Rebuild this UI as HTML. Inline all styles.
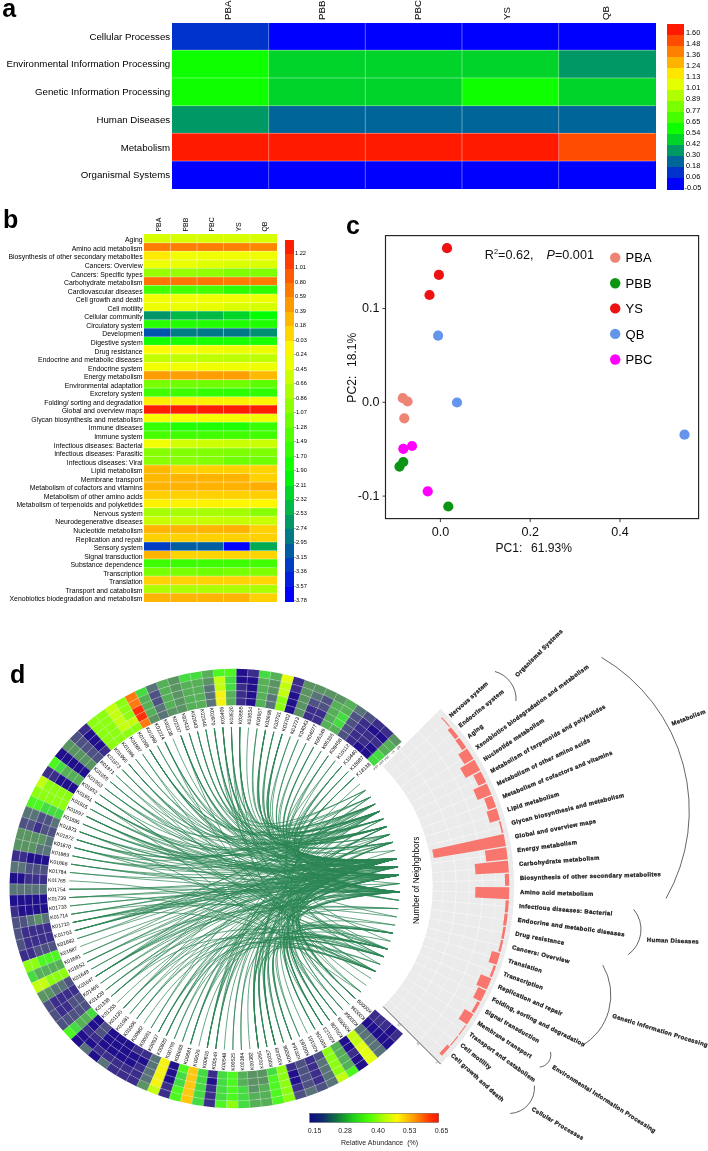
<!DOCTYPE html>
<html lang="en"><head><meta charset="utf-8"><title>Figure</title>
<style>html,body{margin:0;padding:0;background:#fff;width:708px;height:1151px;overflow:hidden}svg{display:block}text{font-family:"Liberation Sans", Arial, Helvetica, sans-serif}</style>
</head><body>
<svg width="708" height="1151" viewBox="0 0 708 1151">
<rect x="0" y="0" width="708" height="1151" fill="#ffffff"/>
<text x="2.2" y="16.8" font-size="25" text-anchor="start" font-weight="bold" fill="#000">a</text>
<g shape-rendering="crispEdges">
<rect x="172" y="22.5" width="96.96" height="28.02" fill="#0033cc"/>
<rect x="268.66" y="22.5" width="96.96" height="28.02" fill="#0000ff"/>
<rect x="365.32" y="22.5" width="96.96" height="28.02" fill="#0000ff"/>
<rect x="461.98" y="22.5" width="96.96" height="28.02" fill="#0000ff"/>
<rect x="558.64" y="22.5" width="96.96" height="28.02" fill="#0000ff"/>
<rect x="172" y="50.22" width="96.96" height="28.02" fill="#0dff00"/>
<rect x="268.66" y="50.22" width="96.96" height="28.02" fill="#00d42b"/>
<rect x="365.32" y="50.22" width="96.96" height="28.02" fill="#00d42b"/>
<rect x="461.98" y="50.22" width="96.96" height="28.02" fill="#00d42b"/>
<rect x="558.64" y="50.22" width="96.96" height="28.02" fill="#009966"/>
<rect x="172" y="77.93" width="96.96" height="28.02" fill="#0dff00"/>
<rect x="268.66" y="77.93" width="96.96" height="28.02" fill="#00d42b"/>
<rect x="365.32" y="77.93" width="96.96" height="28.02" fill="#00d42b"/>
<rect x="461.98" y="77.93" width="96.96" height="28.02" fill="#0dff00"/>
<rect x="558.64" y="77.93" width="96.96" height="28.02" fill="#00d42b"/>
<rect x="172" y="105.65" width="96.96" height="28.02" fill="#009966"/>
<rect x="268.66" y="105.65" width="96.96" height="28.02" fill="#006699"/>
<rect x="365.32" y="105.65" width="96.96" height="28.02" fill="#006699"/>
<rect x="461.98" y="105.65" width="96.96" height="28.02" fill="#006699"/>
<rect x="558.64" y="105.65" width="96.96" height="28.02" fill="#006699"/>
<rect x="172" y="133.37" width="96.96" height="28.02" fill="#ff1a00"/>
<rect x="268.66" y="133.37" width="96.96" height="28.02" fill="#ff1a00"/>
<rect x="365.32" y="133.37" width="96.96" height="28.02" fill="#ff1a00"/>
<rect x="461.98" y="133.37" width="96.96" height="28.02" fill="#ff1a00"/>
<rect x="558.64" y="133.37" width="96.96" height="28.02" fill="#ff4c00"/>
<rect x="172" y="161.08" width="96.96" height="28.02" fill="#0000ff"/>
<rect x="268.66" y="161.08" width="96.96" height="28.02" fill="#0000ff"/>
<rect x="365.32" y="161.08" width="96.96" height="28.02" fill="#0000ff"/>
<rect x="461.98" y="161.08" width="96.96" height="28.02" fill="#0000ff"/>
<rect x="558.64" y="161.08" width="96.96" height="28.02" fill="#0000ff"/>
</g>
<g stroke="#ffffff" stroke-opacity="0.55" stroke-width="0.7">
<line x1="268.66" y1="22.5" x2="268.66" y2="188.8"/>
<line x1="365.32" y1="22.5" x2="365.32" y2="188.8"/>
<line x1="461.98" y1="22.5" x2="461.98" y2="188.8"/>
<line x1="558.64" y1="22.5" x2="558.64" y2="188.8"/>
<line x1="172" y1="50.22" x2="655.3" y2="50.22"/>
<line x1="172" y1="77.93" x2="655.3" y2="77.93"/>
<line x1="172" y1="105.65" x2="655.3" y2="105.65"/>
<line x1="172" y1="133.37" x2="655.3" y2="133.37"/>
<line x1="172" y1="161.08" x2="655.3" y2="161.08"/>
</g>
<text x="170.2" y="39.76" font-size="9.7" text-anchor="end" font-weight="normal" fill="#000">Cellular Processes</text>
<text x="170.2" y="67.48" font-size="9.7" text-anchor="end" font-weight="normal" fill="#000">Environmental Information Processing</text>
<text x="170.2" y="95.19" font-size="9.7" text-anchor="end" font-weight="normal" fill="#000">Genetic Information Processing</text>
<text x="170.2" y="122.91" font-size="9.7" text-anchor="end" font-weight="normal" fill="#000">Human Diseases</text>
<text x="170.2" y="150.63" font-size="9.7" text-anchor="end" font-weight="normal" fill="#000">Metabolism</text>
<text x="170.2" y="178.34" font-size="9.7" text-anchor="end" font-weight="normal" fill="#000">Organismal Systems</text>
<text x="231.3" y="20" font-size="9.7" text-anchor="start" font-weight="normal" fill="#000" transform="rotate(-90 231.3 20)">PBA</text>
<text x="324.6" y="20" font-size="9.7" text-anchor="start" font-weight="normal" fill="#000" transform="rotate(-90 324.6 20)">PBB</text>
<text x="421.2" y="20" font-size="9.7" text-anchor="start" font-weight="normal" fill="#000" transform="rotate(-90 421.2 20)">PBC</text>
<text x="510.2" y="20" font-size="9.7" text-anchor="start" font-weight="normal" fill="#000" transform="rotate(-90 510.2 20)">YS</text>
<text x="608.6" y="20" font-size="9.7" text-anchor="start" font-weight="normal" fill="#000" transform="rotate(-90 608.6 20)">QB</text>
<g shape-rendering="crispEdges">
<rect x="667.2" y="24" width="17.1" height="11.32" fill="#ff1a00"/>
<rect x="667.2" y="35.02" width="17.1" height="11.32" fill="#ff4c00"/>
<rect x="667.2" y="46.04" width="17.1" height="11.32" fill="#ff8000"/>
<rect x="667.2" y="57.06" width="17.1" height="11.32" fill="#ffb300"/>
<rect x="667.2" y="68.08" width="17.1" height="11.32" fill="#ffe500"/>
<rect x="667.2" y="79.1" width="17.1" height="11.32" fill="#e5ff00"/>
<rect x="667.2" y="90.12" width="17.1" height="11.32" fill="#b0ff00"/>
<rect x="667.2" y="101.14" width="17.1" height="11.32" fill="#7aff00"/>
<rect x="667.2" y="112.16" width="17.1" height="11.32" fill="#45ff00"/>
<rect x="667.2" y="123.18" width="17.1" height="11.32" fill="#0dff00"/>
<rect x="667.2" y="134.2" width="17.1" height="11.32" fill="#00d42b"/>
<rect x="667.2" y="145.22" width="17.1" height="11.32" fill="#009966"/>
<rect x="667.2" y="156.24" width="17.1" height="11.32" fill="#006699"/>
<rect x="667.2" y="167.26" width="17.1" height="11.32" fill="#0033cc"/>
<rect x="667.2" y="178.28" width="17.1" height="11.32" fill="#0000ff"/>
</g>
<text x="686" y="34.9" font-size="7.3" text-anchor="start" font-weight="normal" fill="#000">1.60</text>
<text x="686" y="45.99" font-size="7.3" text-anchor="start" font-weight="normal" fill="#000">1.48</text>
<text x="686" y="57.08" font-size="7.3" text-anchor="start" font-weight="normal" fill="#000">1.36</text>
<text x="686" y="68.17" font-size="7.3" text-anchor="start" font-weight="normal" fill="#000">1.24</text>
<text x="686" y="79.26" font-size="7.3" text-anchor="start" font-weight="normal" fill="#000">1.13</text>
<text x="686" y="90.35" font-size="7.3" text-anchor="start" font-weight="normal" fill="#000">1.01</text>
<text x="686" y="101.44" font-size="7.3" text-anchor="start" font-weight="normal" fill="#000">0.89</text>
<text x="686" y="112.53" font-size="7.3" text-anchor="start" font-weight="normal" fill="#000">0.77</text>
<text x="686" y="123.62" font-size="7.3" text-anchor="start" font-weight="normal" fill="#000">0.65</text>
<text x="686" y="134.71" font-size="7.3" text-anchor="start" font-weight="normal" fill="#000">0.54</text>
<text x="686" y="145.8" font-size="7.3" text-anchor="start" font-weight="normal" fill="#000">0.42</text>
<text x="686" y="156.89" font-size="7.3" text-anchor="start" font-weight="normal" fill="#000">0.30</text>
<text x="686" y="167.98" font-size="7.3" text-anchor="start" font-weight="normal" fill="#000">0.18</text>
<text x="686" y="179.07" font-size="7.3" text-anchor="start" font-weight="normal" fill="#000">0.06</text>
<text x="684.6" y="190.16" font-size="7.3" text-anchor="start" font-weight="normal" fill="#000">-0.05</text>
<text x="3" y="228" font-size="25" text-anchor="start" font-weight="bold" fill="#000">b</text>
<g shape-rendering="crispEdges">
<rect x="144" y="234.2" width="26.8" height="8.85" fill="#d6ff00"/>
<rect x="170.5" y="234.2" width="26.8" height="8.85" fill="#d6ff00"/>
<rect x="197" y="234.2" width="26.8" height="8.85" fill="#d6ff00"/>
<rect x="223.5" y="234.2" width="26.8" height="8.85" fill="#d6ff00"/>
<rect x="250" y="234.2" width="26.8" height="8.85" fill="#d6ff00"/>
<rect x="144" y="242.75" width="26.8" height="8.85" fill="#ff7d00"/>
<rect x="170.5" y="242.75" width="26.8" height="8.85" fill="#ff7d00"/>
<rect x="197" y="242.75" width="26.8" height="8.85" fill="#ff7d00"/>
<rect x="223.5" y="242.75" width="26.8" height="8.85" fill="#ff8000"/>
<rect x="250" y="242.75" width="26.8" height="8.85" fill="#ff8700"/>
<rect x="144" y="251.3" width="26.8" height="8.85" fill="#ffeb00"/>
<rect x="170.5" y="251.3" width="26.8" height="8.85" fill="#f2ff00"/>
<rect x="197" y="251.3" width="26.8" height="8.85" fill="#f0ff00"/>
<rect x="223.5" y="251.3" width="26.8" height="8.85" fill="#f0ff00"/>
<rect x="250" y="251.3" width="26.8" height="8.85" fill="#f0ff00"/>
<rect x="144" y="259.85" width="26.8" height="8.85" fill="#edff00"/>
<rect x="170.5" y="259.85" width="26.8" height="8.85" fill="#ebff00"/>
<rect x="197" y="259.85" width="26.8" height="8.85" fill="#e0ff00"/>
<rect x="223.5" y="259.85" width="26.8" height="8.85" fill="#dbff00"/>
<rect x="250" y="259.85" width="26.8" height="8.85" fill="#dbff00"/>
<rect x="144" y="268.4" width="26.8" height="8.85" fill="#99ff00"/>
<rect x="170.5" y="268.4" width="26.8" height="8.85" fill="#96ff00"/>
<rect x="197" y="268.4" width="26.8" height="8.85" fill="#91ff00"/>
<rect x="223.5" y="268.4" width="26.8" height="8.85" fill="#80ff00"/>
<rect x="250" y="268.4" width="26.8" height="8.85" fill="#80ff00"/>
<rect x="144" y="276.94" width="26.8" height="8.85" fill="#ff7300"/>
<rect x="170.5" y="276.94" width="26.8" height="8.85" fill="#ff7500"/>
<rect x="197" y="276.94" width="26.8" height="8.85" fill="#ff7500"/>
<rect x="223.5" y="276.94" width="26.8" height="8.85" fill="#ff7a00"/>
<rect x="250" y="276.94" width="26.8" height="8.85" fill="#ff7a00"/>
<rect x="144" y="285.49" width="26.8" height="8.85" fill="#45ff00"/>
<rect x="170.5" y="285.49" width="26.8" height="8.85" fill="#45ff00"/>
<rect x="197" y="285.49" width="26.8" height="8.85" fill="#45ff00"/>
<rect x="223.5" y="285.49" width="26.8" height="8.85" fill="#2eff00"/>
<rect x="250" y="285.49" width="26.8" height="8.85" fill="#2eff00"/>
<rect x="144" y="294.04" width="26.8" height="8.85" fill="#f2ff00"/>
<rect x="170.5" y="294.04" width="26.8" height="8.85" fill="#f2ff00"/>
<rect x="197" y="294.04" width="26.8" height="8.85" fill="#f0ff00"/>
<rect x="223.5" y="294.04" width="26.8" height="8.85" fill="#f0ff00"/>
<rect x="250" y="294.04" width="26.8" height="8.85" fill="#edff00"/>
<rect x="144" y="302.59" width="26.8" height="8.85" fill="#edff00"/>
<rect x="170.5" y="302.59" width="26.8" height="8.85" fill="#ebff00"/>
<rect x="197" y="302.59" width="26.8" height="8.85" fill="#e8ff00"/>
<rect x="223.5" y="302.59" width="26.8" height="8.85" fill="#d9ff00"/>
<rect x="250" y="302.59" width="26.8" height="8.85" fill="#d6ff00"/>
<rect x="144" y="311.14" width="26.8" height="8.85" fill="#009669"/>
<rect x="170.5" y="311.14" width="26.8" height="8.85" fill="#00ba45"/>
<rect x="197" y="311.14" width="26.8" height="8.85" fill="#00ba45"/>
<rect x="223.5" y="311.14" width="26.8" height="8.85" fill="#00d629"/>
<rect x="250" y="311.14" width="26.8" height="8.85" fill="#00ff00"/>
<rect x="144" y="319.69" width="26.8" height="8.85" fill="#29ff00"/>
<rect x="170.5" y="319.69" width="26.8" height="8.85" fill="#21ff00"/>
<rect x="197" y="319.69" width="26.8" height="8.85" fill="#21ff00"/>
<rect x="223.5" y="319.69" width="26.8" height="8.85" fill="#1fff00"/>
<rect x="250" y="319.69" width="26.8" height="8.85" fill="#1fff00"/>
<rect x="144" y="328.24" width="26.8" height="8.85" fill="#0054ab"/>
<rect x="170.5" y="328.24" width="26.8" height="8.85" fill="#007d82"/>
<rect x="197" y="328.24" width="26.8" height="8.85" fill="#007887"/>
<rect x="223.5" y="328.24" width="26.8" height="8.85" fill="#007887"/>
<rect x="250" y="328.24" width="26.8" height="8.85" fill="#008f70"/>
<rect x="144" y="336.79" width="26.8" height="8.85" fill="#12ff00"/>
<rect x="170.5" y="336.79" width="26.8" height="8.85" fill="#17ff00"/>
<rect x="197" y="336.79" width="26.8" height="8.85" fill="#17ff00"/>
<rect x="223.5" y="336.79" width="26.8" height="8.85" fill="#17ff00"/>
<rect x="250" y="336.79" width="26.8" height="8.85" fill="#17ff00"/>
<rect x="144" y="345.33" width="26.8" height="8.85" fill="#fcff00"/>
<rect x="170.5" y="345.33" width="26.8" height="8.85" fill="#faff00"/>
<rect x="197" y="345.33" width="26.8" height="8.85" fill="#f2ff00"/>
<rect x="223.5" y="345.33" width="26.8" height="8.85" fill="#ebff00"/>
<rect x="250" y="345.33" width="26.8" height="8.85" fill="#ebff00"/>
<rect x="144" y="353.88" width="26.8" height="8.85" fill="#c2ff00"/>
<rect x="170.5" y="353.88" width="26.8" height="8.85" fill="#bfff00"/>
<rect x="197" y="353.88" width="26.8" height="8.85" fill="#bdff00"/>
<rect x="223.5" y="353.88" width="26.8" height="8.85" fill="#bdff00"/>
<rect x="250" y="353.88" width="26.8" height="8.85" fill="#bdff00"/>
<rect x="144" y="362.43" width="26.8" height="8.85" fill="#f2ff00"/>
<rect x="170.5" y="362.43" width="26.8" height="8.85" fill="#f2ff00"/>
<rect x="197" y="362.43" width="26.8" height="8.85" fill="#f0ff00"/>
<rect x="223.5" y="362.43" width="26.8" height="8.85" fill="#f0ff00"/>
<rect x="250" y="362.43" width="26.8" height="8.85" fill="#edff00"/>
<rect x="144" y="370.98" width="26.8" height="8.85" fill="#ff9c00"/>
<rect x="170.5" y="370.98" width="26.8" height="8.85" fill="#ff9e00"/>
<rect x="197" y="370.98" width="26.8" height="8.85" fill="#ff9e00"/>
<rect x="223.5" y="370.98" width="26.8" height="8.85" fill="#ff9e00"/>
<rect x="250" y="370.98" width="26.8" height="8.85" fill="#ffba00"/>
<rect x="144" y="379.53" width="26.8" height="8.85" fill="#78ff00"/>
<rect x="170.5" y="379.53" width="26.8" height="8.85" fill="#70ff00"/>
<rect x="197" y="379.53" width="26.8" height="8.85" fill="#70ff00"/>
<rect x="223.5" y="379.53" width="26.8" height="8.85" fill="#70ff00"/>
<rect x="250" y="379.53" width="26.8" height="8.85" fill="#5cff00"/>
<rect x="144" y="388.08" width="26.8" height="8.85" fill="#40ff00"/>
<rect x="170.5" y="388.08" width="26.8" height="8.85" fill="#3bff00"/>
<rect x="197" y="388.08" width="26.8" height="8.85" fill="#30ff00"/>
<rect x="223.5" y="388.08" width="26.8" height="8.85" fill="#2eff00"/>
<rect x="250" y="388.08" width="26.8" height="8.85" fill="#2eff00"/>
<rect x="144" y="396.63" width="26.8" height="8.85" fill="#ffed00"/>
<rect x="170.5" y="396.63" width="26.8" height="8.85" fill="#fff000"/>
<rect x="197" y="396.63" width="26.8" height="8.85" fill="#fff000"/>
<rect x="223.5" y="396.63" width="26.8" height="8.85" fill="#fff200"/>
<rect x="250" y="396.63" width="26.8" height="8.85" fill="#fff500"/>
<rect x="144" y="405.18" width="26.8" height="8.85" fill="#ff1f00"/>
<rect x="170.5" y="405.18" width="26.8" height="8.85" fill="#ff1f00"/>
<rect x="197" y="405.18" width="26.8" height="8.85" fill="#ff1f00"/>
<rect x="223.5" y="405.18" width="26.8" height="8.85" fill="#ff1f00"/>
<rect x="250" y="405.18" width="26.8" height="8.85" fill="#ff1f00"/>
<rect x="144" y="413.73" width="26.8" height="8.85" fill="#f7ff00"/>
<rect x="170.5" y="413.73" width="26.8" height="8.85" fill="#f7ff00"/>
<rect x="197" y="413.73" width="26.8" height="8.85" fill="#f5ff00"/>
<rect x="223.5" y="413.73" width="26.8" height="8.85" fill="#f5ff00"/>
<rect x="250" y="413.73" width="26.8" height="8.85" fill="#edff00"/>
<rect x="144" y="422.27" width="26.8" height="8.85" fill="#33ff00"/>
<rect x="170.5" y="422.27" width="26.8" height="8.85" fill="#1fff00"/>
<rect x="197" y="422.27" width="26.8" height="8.85" fill="#1fff00"/>
<rect x="223.5" y="422.27" width="26.8" height="8.85" fill="#1fff00"/>
<rect x="250" y="422.27" width="26.8" height="8.85" fill="#38ff00"/>
<rect x="144" y="430.82" width="26.8" height="8.85" fill="#47ff00"/>
<rect x="170.5" y="430.82" width="26.8" height="8.85" fill="#40ff00"/>
<rect x="197" y="430.82" width="26.8" height="8.85" fill="#40ff00"/>
<rect x="223.5" y="430.82" width="26.8" height="8.85" fill="#40ff00"/>
<rect x="250" y="430.82" width="26.8" height="8.85" fill="#42ff00"/>
<rect x="144" y="439.37" width="26.8" height="8.85" fill="#f2ff00"/>
<rect x="170.5" y="439.37" width="26.8" height="8.85" fill="#d1ff00"/>
<rect x="197" y="439.37" width="26.8" height="8.85" fill="#ccff00"/>
<rect x="223.5" y="439.37" width="26.8" height="8.85" fill="#c9ff00"/>
<rect x="250" y="439.37" width="26.8" height="8.85" fill="#c9ff00"/>
<rect x="144" y="447.92" width="26.8" height="8.85" fill="#87ff00"/>
<rect x="170.5" y="447.92" width="26.8" height="8.85" fill="#82ff00"/>
<rect x="197" y="447.92" width="26.8" height="8.85" fill="#82ff00"/>
<rect x="223.5" y="447.92" width="26.8" height="8.85" fill="#7dff00"/>
<rect x="250" y="447.92" width="26.8" height="8.85" fill="#7dff00"/>
<rect x="144" y="456.47" width="26.8" height="8.85" fill="#8aff00"/>
<rect x="170.5" y="456.47" width="26.8" height="8.85" fill="#87ff00"/>
<rect x="197" y="456.47" width="26.8" height="8.85" fill="#82ff00"/>
<rect x="223.5" y="456.47" width="26.8" height="8.85" fill="#6eff00"/>
<rect x="250" y="456.47" width="26.8" height="8.85" fill="#6eff00"/>
<rect x="144" y="465.02" width="26.8" height="8.85" fill="#ffb800"/>
<rect x="170.5" y="465.02" width="26.8" height="8.85" fill="#ffd100"/>
<rect x="197" y="465.02" width="26.8" height="8.85" fill="#ffd100"/>
<rect x="223.5" y="465.02" width="26.8" height="8.85" fill="#ffd100"/>
<rect x="250" y="465.02" width="26.8" height="8.85" fill="#ffd400"/>
<rect x="144" y="473.57" width="26.8" height="8.85" fill="#ffb800"/>
<rect x="170.5" y="473.57" width="26.8" height="8.85" fill="#ffb300"/>
<rect x="197" y="473.57" width="26.8" height="8.85" fill="#ffb300"/>
<rect x="223.5" y="473.57" width="26.8" height="8.85" fill="#ffb300"/>
<rect x="250" y="473.57" width="26.8" height="8.85" fill="#ffd100"/>
<rect x="144" y="482.12" width="26.8" height="8.85" fill="#ffb300"/>
<rect x="170.5" y="482.12" width="26.8" height="8.85" fill="#ffb300"/>
<rect x="197" y="482.12" width="26.8" height="8.85" fill="#ffb300"/>
<rect x="223.5" y="482.12" width="26.8" height="8.85" fill="#ffb300"/>
<rect x="250" y="482.12" width="26.8" height="8.85" fill="#ffad00"/>
<rect x="144" y="490.67" width="26.8" height="8.85" fill="#ffcf00"/>
<rect x="170.5" y="490.67" width="26.8" height="8.85" fill="#ffd100"/>
<rect x="197" y="490.67" width="26.8" height="8.85" fill="#ffd100"/>
<rect x="223.5" y="490.67" width="26.8" height="8.85" fill="#ffd100"/>
<rect x="250" y="490.67" width="26.8" height="8.85" fill="#ffcf00"/>
<rect x="144" y="499.21" width="26.8" height="8.85" fill="#fff200"/>
<rect x="170.5" y="499.21" width="26.8" height="8.85" fill="#fff200"/>
<rect x="197" y="499.21" width="26.8" height="8.85" fill="#fff200"/>
<rect x="223.5" y="499.21" width="26.8" height="8.85" fill="#fff700"/>
<rect x="250" y="499.21" width="26.8" height="8.85" fill="#fff700"/>
<rect x="144" y="507.76" width="26.8" height="8.85" fill="#a6ff00"/>
<rect x="170.5" y="507.76" width="26.8" height="8.85" fill="#a6ff00"/>
<rect x="197" y="507.76" width="26.8" height="8.85" fill="#a6ff00"/>
<rect x="223.5" y="507.76" width="26.8" height="8.85" fill="#a3ff00"/>
<rect x="250" y="507.76" width="26.8" height="8.85" fill="#87ff00"/>
<rect x="144" y="516.31" width="26.8" height="8.85" fill="#c7ff00"/>
<rect x="170.5" y="516.31" width="26.8" height="8.85" fill="#c7ff00"/>
<rect x="197" y="516.31" width="26.8" height="8.85" fill="#c7ff00"/>
<rect x="223.5" y="516.31" width="26.8" height="8.85" fill="#c7ff00"/>
<rect x="250" y="516.31" width="26.8" height="8.85" fill="#c7ff00"/>
<rect x="144" y="524.86" width="26.8" height="8.85" fill="#ffb500"/>
<rect x="170.5" y="524.86" width="26.8" height="8.85" fill="#ffb500"/>
<rect x="197" y="524.86" width="26.8" height="8.85" fill="#ffb500"/>
<rect x="223.5" y="524.86" width="26.8" height="8.85" fill="#ffb300"/>
<rect x="250" y="524.86" width="26.8" height="8.85" fill="#ffd100"/>
<rect x="144" y="533.41" width="26.8" height="8.85" fill="#ffcf00"/>
<rect x="170.5" y="533.41" width="26.8" height="8.85" fill="#ffd100"/>
<rect x="197" y="533.41" width="26.8" height="8.85" fill="#ffd100"/>
<rect x="223.5" y="533.41" width="26.8" height="8.85" fill="#ffd100"/>
<rect x="250" y="533.41" width="26.8" height="8.85" fill="#ffd100"/>
<rect x="144" y="541.96" width="26.8" height="8.85" fill="#003dc2"/>
<rect x="170.5" y="541.96" width="26.8" height="8.85" fill="#005ea1"/>
<rect x="197" y="541.96" width="26.8" height="8.85" fill="#005ea1"/>
<rect x="223.5" y="541.96" width="26.8" height="8.85" fill="#0000ff"/>
<rect x="250" y="541.96" width="26.8" height="8.85" fill="#00ab54"/>
<rect x="144" y="550.51" width="26.8" height="8.85" fill="#ffb500"/>
<rect x="170.5" y="550.51" width="26.8" height="8.85" fill="#ffd400"/>
<rect x="197" y="550.51" width="26.8" height="8.85" fill="#ffd400"/>
<rect x="223.5" y="550.51" width="26.8" height="8.85" fill="#ffd400"/>
<rect x="250" y="550.51" width="26.8" height="8.85" fill="#ffd400"/>
<rect x="144" y="559.06" width="26.8" height="8.85" fill="#3dff00"/>
<rect x="170.5" y="559.06" width="26.8" height="8.85" fill="#3bff00"/>
<rect x="197" y="559.06" width="26.8" height="8.85" fill="#3dff00"/>
<rect x="223.5" y="559.06" width="26.8" height="8.85" fill="#3dff00"/>
<rect x="250" y="559.06" width="26.8" height="8.85" fill="#42ff00"/>
<rect x="144" y="567.6" width="26.8" height="8.85" fill="#78ff00"/>
<rect x="170.5" y="567.6" width="26.8" height="8.85" fill="#78ff00"/>
<rect x="197" y="567.6" width="26.8" height="8.85" fill="#6eff00"/>
<rect x="223.5" y="567.6" width="26.8" height="8.85" fill="#78ff00"/>
<rect x="250" y="567.6" width="26.8" height="8.85" fill="#7dff00"/>
<rect x="144" y="576.15" width="26.8" height="8.85" fill="#ffd100"/>
<rect x="170.5" y="576.15" width="26.8" height="8.85" fill="#ffd100"/>
<rect x="197" y="576.15" width="26.8" height="8.85" fill="#ffd100"/>
<rect x="223.5" y="576.15" width="26.8" height="8.85" fill="#ffd100"/>
<rect x="250" y="576.15" width="26.8" height="8.85" fill="#ffd600"/>
<rect x="144" y="584.7" width="26.8" height="8.85" fill="#adff00"/>
<rect x="170.5" y="584.7" width="26.8" height="8.85" fill="#abff00"/>
<rect x="197" y="584.7" width="26.8" height="8.85" fill="#abff00"/>
<rect x="223.5" y="584.7" width="26.8" height="8.85" fill="#abff00"/>
<rect x="250" y="584.7" width="26.8" height="8.85" fill="#a8ff00"/>
<rect x="144" y="593.25" width="26.8" height="8.85" fill="#ffb500"/>
<rect x="170.5" y="593.25" width="26.8" height="8.85" fill="#ffb500"/>
<rect x="197" y="593.25" width="26.8" height="8.85" fill="#ffb500"/>
<rect x="223.5" y="593.25" width="26.8" height="8.85" fill="#ffb500"/>
<rect x="250" y="593.25" width="26.8" height="8.85" fill="#ffd100"/>
</g>
<g stroke="#ffffff" stroke-opacity="0.7" stroke-width="0.6">
<line x1="170.5" y1="234.2" x2="170.5" y2="601.8"/>
<line x1="197" y1="234.2" x2="197" y2="601.8"/>
<line x1="223.5" y1="234.2" x2="223.5" y2="601.8"/>
<line x1="250" y1="234.2" x2="250" y2="601.8"/>
<line x1="144" y1="242.75" x2="276.5" y2="242.75"/>
<line x1="144" y1="251.3" x2="276.5" y2="251.3"/>
<line x1="144" y1="259.85" x2="276.5" y2="259.85"/>
<line x1="144" y1="268.4" x2="276.5" y2="268.4"/>
<line x1="144" y1="276.94" x2="276.5" y2="276.94"/>
<line x1="144" y1="285.49" x2="276.5" y2="285.49"/>
<line x1="144" y1="294.04" x2="276.5" y2="294.04"/>
<line x1="144" y1="302.59" x2="276.5" y2="302.59"/>
<line x1="144" y1="311.14" x2="276.5" y2="311.14"/>
<line x1="144" y1="319.69" x2="276.5" y2="319.69"/>
<line x1="144" y1="328.24" x2="276.5" y2="328.24"/>
<line x1="144" y1="336.79" x2="276.5" y2="336.79"/>
<line x1="144" y1="345.33" x2="276.5" y2="345.33"/>
<line x1="144" y1="353.88" x2="276.5" y2="353.88"/>
<line x1="144" y1="362.43" x2="276.5" y2="362.43"/>
<line x1="144" y1="370.98" x2="276.5" y2="370.98"/>
<line x1="144" y1="379.53" x2="276.5" y2="379.53"/>
<line x1="144" y1="388.08" x2="276.5" y2="388.08"/>
<line x1="144" y1="396.63" x2="276.5" y2="396.63"/>
<line x1="144" y1="405.18" x2="276.5" y2="405.18"/>
<line x1="144" y1="413.73" x2="276.5" y2="413.73"/>
<line x1="144" y1="422.27" x2="276.5" y2="422.27"/>
<line x1="144" y1="430.82" x2="276.5" y2="430.82"/>
<line x1="144" y1="439.37" x2="276.5" y2="439.37"/>
<line x1="144" y1="447.92" x2="276.5" y2="447.92"/>
<line x1="144" y1="456.47" x2="276.5" y2="456.47"/>
<line x1="144" y1="465.02" x2="276.5" y2="465.02"/>
<line x1="144" y1="473.57" x2="276.5" y2="473.57"/>
<line x1="144" y1="482.12" x2="276.5" y2="482.12"/>
<line x1="144" y1="490.67" x2="276.5" y2="490.67"/>
<line x1="144" y1="499.21" x2="276.5" y2="499.21"/>
<line x1="144" y1="507.76" x2="276.5" y2="507.76"/>
<line x1="144" y1="516.31" x2="276.5" y2="516.31"/>
<line x1="144" y1="524.86" x2="276.5" y2="524.86"/>
<line x1="144" y1="533.41" x2="276.5" y2="533.41"/>
<line x1="144" y1="541.96" x2="276.5" y2="541.96"/>
<line x1="144" y1="550.51" x2="276.5" y2="550.51"/>
<line x1="144" y1="559.06" x2="276.5" y2="559.06"/>
<line x1="144" y1="567.6" x2="276.5" y2="567.6"/>
<line x1="144" y1="576.15" x2="276.5" y2="576.15"/>
<line x1="144" y1="584.7" x2="276.5" y2="584.7"/>
<line x1="144" y1="593.25" x2="276.5" y2="593.25"/>
</g>
<text x="142.6" y="242.37" font-size="6.87" text-anchor="end" font-weight="normal" fill="#000">Aging</text>
<text x="142.6" y="250.92" font-size="6.87" text-anchor="end" font-weight="normal" fill="#000">Amino acid metabolism</text>
<text x="142.6" y="259.47" font-size="6.87" text-anchor="end" font-weight="normal" fill="#000">Biosynthesis of other secondary metabolites</text>
<text x="142.6" y="268.02" font-size="6.87" text-anchor="end" font-weight="normal" fill="#000">Cancers: Overview</text>
<text x="142.6" y="276.57" font-size="6.87" text-anchor="end" font-weight="normal" fill="#000">Cancers: Specific types</text>
<text x="142.6" y="285.12" font-size="6.87" text-anchor="end" font-weight="normal" fill="#000">Carbohydrate metabolism</text>
<text x="142.6" y="293.67" font-size="6.87" text-anchor="end" font-weight="normal" fill="#000">Cardiovascular diseases</text>
<text x="142.6" y="302.22" font-size="6.87" text-anchor="end" font-weight="normal" fill="#000">Cell growth and death</text>
<text x="142.6" y="310.77" font-size="6.87" text-anchor="end" font-weight="normal" fill="#000">Cell motility</text>
<text x="142.6" y="319.31" font-size="6.87" text-anchor="end" font-weight="normal" fill="#000">Cellular community</text>
<text x="142.6" y="327.86" font-size="6.87" text-anchor="end" font-weight="normal" fill="#000">Circulatory system</text>
<text x="142.6" y="336.41" font-size="6.87" text-anchor="end" font-weight="normal" fill="#000">Development</text>
<text x="142.6" y="344.96" font-size="6.87" text-anchor="end" font-weight="normal" fill="#000">Digestive system</text>
<text x="142.6" y="353.51" font-size="6.87" text-anchor="end" font-weight="normal" fill="#000">Drug resistance</text>
<text x="142.6" y="362.06" font-size="6.87" text-anchor="end" font-weight="normal" fill="#000">Endocrine and metabolic diseases</text>
<text x="142.6" y="370.61" font-size="6.87" text-anchor="end" font-weight="normal" fill="#000">Endocrine system</text>
<text x="142.6" y="379.16" font-size="6.87" text-anchor="end" font-weight="normal" fill="#000">Energy metabolism</text>
<text x="142.6" y="387.7" font-size="6.87" text-anchor="end" font-weight="normal" fill="#000">Environmental adaptation</text>
<text x="142.6" y="396.25" font-size="6.87" text-anchor="end" font-weight="normal" fill="#000">Excretory system</text>
<text x="142.6" y="404.8" font-size="6.87" text-anchor="end" font-weight="normal" fill="#000">Folding/ sorting and degradation</text>
<text x="142.6" y="413.35" font-size="6.87" text-anchor="end" font-weight="normal" fill="#000">Global and overview maps</text>
<text x="142.6" y="421.9" font-size="6.87" text-anchor="end" font-weight="normal" fill="#000">Glycan biosynthesis and metabolism</text>
<text x="142.6" y="430.45" font-size="6.87" text-anchor="end" font-weight="normal" fill="#000">Immune diseases</text>
<text x="142.6" y="439" font-size="6.87" text-anchor="end" font-weight="normal" fill="#000">Immune system</text>
<text x="142.6" y="447.55" font-size="6.87" text-anchor="end" font-weight="normal" fill="#000">Infectious diseases: Bacterial</text>
<text x="142.6" y="456.1" font-size="6.87" text-anchor="end" font-weight="normal" fill="#000">Infectious diseases: Parasitic</text>
<text x="142.6" y="464.64" font-size="6.87" text-anchor="end" font-weight="normal" fill="#000">Infectious diseases: Viral</text>
<text x="142.6" y="473.19" font-size="6.87" text-anchor="end" font-weight="normal" fill="#000">Lipid metabolism</text>
<text x="142.6" y="481.74" font-size="6.87" text-anchor="end" font-weight="normal" fill="#000">Membrane transport</text>
<text x="142.6" y="490.29" font-size="6.87" text-anchor="end" font-weight="normal" fill="#000">Metabolism of cofactors and vitamins</text>
<text x="142.6" y="498.84" font-size="6.87" text-anchor="end" font-weight="normal" fill="#000">Metabolism of other amino acids</text>
<text x="142.6" y="507.39" font-size="6.87" text-anchor="end" font-weight="normal" fill="#000">Metabolism of terpenoids and polyketides</text>
<text x="142.6" y="515.94" font-size="6.87" text-anchor="end" font-weight="normal" fill="#000">Nervous system</text>
<text x="142.6" y="524.49" font-size="6.87" text-anchor="end" font-weight="normal" fill="#000">Neurodegenerative diseases</text>
<text x="142.6" y="533.03" font-size="6.87" text-anchor="end" font-weight="normal" fill="#000">Nucleotide metabolism</text>
<text x="142.6" y="541.58" font-size="6.87" text-anchor="end" font-weight="normal" fill="#000">Replication and repair</text>
<text x="142.6" y="550.13" font-size="6.87" text-anchor="end" font-weight="normal" fill="#000">Sensory system</text>
<text x="142.6" y="558.68" font-size="6.87" text-anchor="end" font-weight="normal" fill="#000">Signal transduction</text>
<text x="142.6" y="567.23" font-size="6.87" text-anchor="end" font-weight="normal" fill="#000">Substance dependence</text>
<text x="142.6" y="575.78" font-size="6.87" text-anchor="end" font-weight="normal" fill="#000">Transcription</text>
<text x="142.6" y="584.33" font-size="6.87" text-anchor="end" font-weight="normal" fill="#000">Translation</text>
<text x="142.6" y="592.88" font-size="6.87" text-anchor="end" font-weight="normal" fill="#000">Transport and catabolism</text>
<text x="142.6" y="601.43" font-size="6.87" text-anchor="end" font-weight="normal" fill="#000">Xenobiotics biodegradation and metabolism</text>
<text x="161" y="231.6" font-size="7" text-anchor="start" font-weight="normal" fill="#000" transform="rotate(-90 161 231.6)">PBA</text>
<text x="187.8" y="231.6" font-size="7" text-anchor="start" font-weight="normal" fill="#000" transform="rotate(-90 187.8 231.6)">PBB</text>
<text x="214.1" y="231.6" font-size="7" text-anchor="start" font-weight="normal" fill="#000" transform="rotate(-90 214.1 231.6)">PBC</text>
<text x="240.8" y="231.6" font-size="7" text-anchor="start" font-weight="normal" fill="#000" transform="rotate(-90 240.8 231.6)">YS</text>
<text x="267.5" y="231.6" font-size="7" text-anchor="start" font-weight="normal" fill="#000" transform="rotate(-90 267.5 231.6)">QB</text>
<g shape-rendering="crispEdges">
<rect x="284.8" y="239.6" width="9" height="14.77" fill="#ff1f00"/>
<rect x="284.8" y="254.07" width="9" height="14.77" fill="#ff3d00"/>
<rect x="284.8" y="268.54" width="9" height="14.77" fill="#ff5c00"/>
<rect x="284.8" y="283.02" width="9" height="14.77" fill="#ff7a00"/>
<rect x="284.8" y="297.49" width="9" height="14.77" fill="#ff9900"/>
<rect x="284.8" y="311.96" width="9" height="14.77" fill="#ffb800"/>
<rect x="284.8" y="326.43" width="9" height="14.77" fill="#ffd600"/>
<rect x="284.8" y="340.9" width="9" height="14.77" fill="#fff500"/>
<rect x="284.8" y="355.38" width="9" height="14.77" fill="#ebff00"/>
<rect x="284.8" y="369.85" width="9" height="14.77" fill="#ccff00"/>
<rect x="284.8" y="384.32" width="9" height="14.77" fill="#adff00"/>
<rect x="284.8" y="398.79" width="9" height="14.77" fill="#8fff00"/>
<rect x="284.8" y="413.26" width="9" height="14.77" fill="#70ff00"/>
<rect x="284.8" y="427.74" width="9" height="14.77" fill="#52ff00"/>
<rect x="284.8" y="442.21" width="9" height="14.77" fill="#33ff00"/>
<rect x="284.8" y="456.68" width="9" height="14.77" fill="#14ff00"/>
<rect x="284.8" y="471.15" width="9" height="14.77" fill="#00f50a"/>
<rect x="284.8" y="485.62" width="9" height="14.77" fill="#00d629"/>
<rect x="284.8" y="500.1" width="9" height="14.77" fill="#00b847"/>
<rect x="284.8" y="514.57" width="9" height="14.77" fill="#009966"/>
<rect x="284.8" y="529.04" width="9" height="14.77" fill="#007a85"/>
<rect x="284.8" y="543.51" width="9" height="14.77" fill="#005ca3"/>
<rect x="284.8" y="557.98" width="9" height="14.77" fill="#003dc2"/>
<rect x="284.8" y="572.46" width="9" height="14.77" fill="#001fe0"/>
<rect x="284.8" y="586.93" width="9" height="14.77" fill="#0000ff"/>
</g>
<text x="295" y="255" font-size="5.65" text-anchor="start" font-weight="normal" fill="#000">1.22</text>
<text x="295" y="269.47" font-size="5.65" text-anchor="start" font-weight="normal" fill="#000">1.01</text>
<text x="295" y="283.94" font-size="5.65" text-anchor="start" font-weight="normal" fill="#000">0.80</text>
<text x="295" y="298.41" font-size="5.65" text-anchor="start" font-weight="normal" fill="#000">0.59</text>
<text x="295" y="312.88" font-size="5.65" text-anchor="start" font-weight="normal" fill="#000">0.39</text>
<text x="295" y="327.35" font-size="5.65" text-anchor="start" font-weight="normal" fill="#000">0.18</text>
<text x="294" y="341.82" font-size="5.65" text-anchor="start" font-weight="normal" fill="#000">-0.03</text>
<text x="294" y="356.29" font-size="5.65" text-anchor="start" font-weight="normal" fill="#000">-0.24</text>
<text x="294" y="370.76" font-size="5.65" text-anchor="start" font-weight="normal" fill="#000">-0.45</text>
<text x="294" y="385.23" font-size="5.65" text-anchor="start" font-weight="normal" fill="#000">-0.66</text>
<text x="294" y="399.7" font-size="5.65" text-anchor="start" font-weight="normal" fill="#000">-0.86</text>
<text x="294" y="414.17" font-size="5.65" text-anchor="start" font-weight="normal" fill="#000">-1.07</text>
<text x="294" y="428.64" font-size="5.65" text-anchor="start" font-weight="normal" fill="#000">-1.28</text>
<text x="294" y="443.11" font-size="5.65" text-anchor="start" font-weight="normal" fill="#000">-1.49</text>
<text x="294" y="457.58" font-size="5.65" text-anchor="start" font-weight="normal" fill="#000">-1.70</text>
<text x="294" y="472.05" font-size="5.65" text-anchor="start" font-weight="normal" fill="#000">-1.90</text>
<text x="294" y="486.52" font-size="5.65" text-anchor="start" font-weight="normal" fill="#000">-2.11</text>
<text x="294" y="500.99" font-size="5.65" text-anchor="start" font-weight="normal" fill="#000">-2.32</text>
<text x="294" y="515.46" font-size="5.65" text-anchor="start" font-weight="normal" fill="#000">-2.53</text>
<text x="294" y="529.93" font-size="5.65" text-anchor="start" font-weight="normal" fill="#000">-2.74</text>
<text x="294" y="544.4" font-size="5.65" text-anchor="start" font-weight="normal" fill="#000">-2.95</text>
<text x="294" y="558.87" font-size="5.65" text-anchor="start" font-weight="normal" fill="#000">-3.15</text>
<text x="294" y="573.34" font-size="5.65" text-anchor="start" font-weight="normal" fill="#000">-3.36</text>
<text x="294" y="587.81" font-size="5.65" text-anchor="start" font-weight="normal" fill="#000">-3.57</text>
<text x="294" y="602.28" font-size="5.65" text-anchor="start" font-weight="normal" fill="#000">-3.78</text>
<text x="346" y="234" font-size="25" text-anchor="start" font-weight="bold" fill="#000">c</text>
<rect x="385.5" y="235.6" width="313.1" height="283" fill="none" stroke="#222" stroke-width="1.15"/>
<g stroke="#2b2b2b" stroke-width="0.9">
<line x1="382.5" y1="308.5" x2="385.5" y2="308.5"/>
<line x1="382.5" y1="402.3" x2="385.5" y2="402.3"/>
<line x1="382.5" y1="496.1" x2="385.5" y2="496.1"/>
<line x1="440.4" y1="518.6" x2="440.4" y2="522.1"/>
<line x1="530.2" y1="518.6" x2="530.2" y2="522.1"/>
<line x1="620" y1="518.6" x2="620" y2="522.1"/>
</g>
<text x="379.5" y="312.2" font-size="12.6" text-anchor="end" font-weight="normal" fill="#111">0.1</text>
<text x="379.5" y="406" font-size="12.6" text-anchor="end" font-weight="normal" fill="#111">0.0</text>
<text x="379.5" y="499.8" font-size="12.6" text-anchor="end" font-weight="normal" fill="#111">-0.1</text>
<text x="440.4" y="536.3" font-size="12.6" text-anchor="middle" font-weight="normal" fill="#111">0.0</text>
<text x="530.2" y="536.3" font-size="12.6" text-anchor="middle" font-weight="normal" fill="#111">0.2</text>
<text x="620" y="536.3" font-size="12.6" text-anchor="middle" font-weight="normal" fill="#111">0.4</text>
<text x="533.7" y="552" font-size="12.1" text-anchor="middle" fill="#111">PC1:<tspan dx="8.7">61.93%</tspan></text>
<text x="355.7" y="367.7" font-size="12.1" text-anchor="middle" fill="#111" transform="rotate(-90 355.7 367.7)">PC2:<tspan dx="8.7">18.1%</tspan></text>
<circle cx="447" cy="248.2" r="5.1" fill="#ee1111"/>
<circle cx="438.9" cy="274.9" r="5.1" fill="#ee1111"/>
<circle cx="429.5" cy="295" r="5.1" fill="#ee1111"/>
<circle cx="438.1" cy="335.7" r="5.1" fill="#6495ed"/>
<circle cx="457" cy="402.5" r="5.1" fill="#6495ed"/>
<circle cx="684.5" cy="434.7" r="5.1" fill="#6495ed"/>
<circle cx="402.8" cy="398.2" r="5.1" fill="#f08474"/>
<circle cx="407.6" cy="401.5" r="5.1" fill="#f08474"/>
<circle cx="404.3" cy="418.3" r="5.1" fill="#f08474"/>
<circle cx="403.3" cy="448.8" r="5.1" fill="#ff00ff"/>
<circle cx="412" cy="446" r="5.1" fill="#ff00ff"/>
<circle cx="427.7" cy="491.3" r="5.1" fill="#ff00ff"/>
<circle cx="403.3" cy="462" r="5.1" fill="#0a9512"/>
<circle cx="399.5" cy="466.6" r="5.1" fill="#0a9512"/>
<circle cx="448.3" cy="506.5" r="5.1" fill="#0a9512"/>
<circle cx="615.2" cy="257.6" r="5.2" fill="#f08474"/>
<text x="625.6" y="262.3" font-size="13" text-anchor="start" font-weight="normal" fill="#000">PBA</text>
<circle cx="615.2" cy="283.2" r="5.2" fill="#0a9512"/>
<text x="625.6" y="287.9" font-size="13" text-anchor="start" font-weight="normal" fill="#000">PBB</text>
<circle cx="615.2" cy="308.4" r="5.2" fill="#ee1111"/>
<text x="625.6" y="313.1" font-size="13" text-anchor="start" font-weight="normal" fill="#000">YS</text>
<circle cx="615.2" cy="333.9" r="5.2" fill="#6495ed"/>
<text x="625.6" y="338.6" font-size="13" text-anchor="start" font-weight="normal" fill="#000">QB</text>
<circle cx="615.2" cy="359.5" r="5.2" fill="#ff00ff"/>
<text x="625.6" y="364.2" font-size="13" text-anchor="start" font-weight="normal" fill="#000">PBC</text>
<text x="484.8" y="258.8" font-size="12.6" fill="#111">R<tspan font-size="7.4" dy="-4.6">2</tspan><tspan dy="4.6">=0.62,</tspan><tspan font-style="italic" dx="13.2">P</tspan>=0.001</text>
<text x="10" y="683" font-size="25" text-anchor="start" font-weight="bold" fill="#000">d</text>
<path d="M440.63 708.87A251.2 251.2 0 0 1 440.63 1064.13L383.07 1006.57A169.8 169.8 0 0 0 383.07 766.43Z" fill="#ebebeb"/>
<g fill="none" stroke="#ffffff" stroke-width="0.25">
<path d="M427.79 721.71A233.05 233.05 0 0 1 427.79 1051.29"/>
<path d="M409.05 740.45A206.55 206.55 0 0 1 409.05 1032.55"/>
<path d="M390.31 759.19A180.05 180.05 0 0 1 390.31 1013.81"/>
</g>
<g fill="none" stroke="#ffffff" stroke-width="0.45">
<path d="M437.16 712.34A246.3 246.3 0 0 1 437.16 1060.66"/>
<path d="M418.42 731.08A219.8 219.8 0 0 1 418.42 1041.92"/>
<path d="M399.68 749.82A193.3 193.3 0 0 1 399.68 1023.18"/>
<path d="M380.95 768.55A166.8 166.8 0 0 1 380.95 1004.45"/>
<line x1="389.19" y1="772.88" x2="449.68" y2="718.41"/>
<line x1="395.17" y1="779.9" x2="458.53" y2="728.79"/>
<line x1="400.76" y1="787.23" x2="466.8" y2="739.64"/>
<line x1="405.94" y1="794.85" x2="474.47" y2="750.91"/>
<line x1="410.71" y1="802.74" x2="481.51" y2="762.59"/>
<line x1="415.03" y1="810.88" x2="487.92" y2="774.63"/>
<line x1="418.91" y1="819.25" x2="493.66" y2="787"/>
<line x1="422.33" y1="827.81" x2="498.72" y2="799.67"/>
<line x1="425.28" y1="836.54" x2="503.08" y2="812.59"/>
<line x1="427.76" y1="845.42" x2="506.74" y2="825.73"/>
<line x1="429.74" y1="854.42" x2="509.68" y2="839.05"/>
<line x1="431.24" y1="863.52" x2="511.89" y2="852.5"/>
<line x1="432.24" y1="872.69" x2="513.37" y2="866.06"/>
<line x1="432.74" y1="881.89" x2="514.11" y2="879.68"/>
<line x1="432.74" y1="891.11" x2="514.11" y2="893.32"/>
<line x1="432.24" y1="900.31" x2="513.37" y2="906.94"/>
<line x1="431.24" y1="909.48" x2="511.89" y2="920.5"/>
<line x1="429.74" y1="918.58" x2="509.68" y2="933.95"/>
<line x1="427.76" y1="927.58" x2="506.74" y2="947.27"/>
<line x1="425.28" y1="936.46" x2="503.08" y2="960.41"/>
<line x1="422.33" y1="945.19" x2="498.72" y2="973.33"/>
<line x1="418.91" y1="953.75" x2="493.66" y2="986"/>
<line x1="415.03" y1="962.12" x2="487.92" y2="998.37"/>
<line x1="410.71" y1="970.26" x2="481.51" y2="1010.41"/>
<line x1="405.94" y1="978.15" x2="474.47" y2="1022.09"/>
<line x1="400.76" y1="985.77" x2="466.8" y2="1033.36"/>
<line x1="395.17" y1="993.1" x2="458.53" y2="1044.21"/>
<line x1="389.19" y1="1000.12" x2="449.68" y2="1054.59"/>
</g>
<g fill="#f8766d">
<path d="M441.96 717.27A246.3 246.3 0 0 1 450.01 726.21L449.2 726.9A245.24 245.24 0 0 0 441.19 718Z"/>
<path d="M450.88 727.23A246.3 246.3 0 0 1 458.43 736.6L455.07 739.18A242.06 242.06 0 0 0 447.64 729.97Z"/>
<path d="M459.24 737.66A246.3 246.3 0 0 1 466.28 747.43L462.26 750.18A241.42 241.42 0 0 0 455.36 740.61Z"/>
<path d="M467.03 748.53A246.3 246.3 0 0 1 473.53 758.66L464.47 764.17A235.7 235.7 0 0 0 458.25 754.47Z"/>
<path d="M474.22 759.81A246.3 246.3 0 0 1 480.16 770.28L465.67 778.03A229.87 229.87 0 0 0 460.13 768.26Z"/>
<path d="M480.78 771.46A246.3 246.3 0 0 1 486.14 782.24L478.46 785.83A237.82 237.82 0 0 0 473.28 775.42Z"/>
<path d="M486.71 783.45A246.3 246.3 0 0 1 491.47 794.5L477.71 800.04A231.46 231.46 0 0 0 473.23 789.66Z"/>
<path d="M491.97 795.74A246.3 246.3 0 0 1 496.13 807.04L488.1 809.77A237.82 237.82 0 0 0 484.09 798.87Z"/>
<path d="M496.56 808.3A246.3 246.3 0 0 1 500.1 819.81L489.89 822.68A235.7 235.7 0 0 0 486.51 811.67Z"/>
<path d="M500.46 821.09A246.3 246.3 0 0 1 503.37 832.77L501.82 833.12A244.71 244.71 0 0 0 498.92 821.52Z"/>
<path d="M503.66 834.08A246.3 246.3 0 0 1 505.93 845.9L433.79 857.95A173.16 173.16 0 0 0 432.19 849.64Z"/>
<path d="M506.15 847.22A246.3 246.3 0 0 1 507.78 859.14L486.29 861.54A224.68 224.68 0 0 0 484.8 850.66Z"/>
<path d="M507.92 860.47A246.3 246.3 0 0 1 508.9 872.47L475.56 874.37A212.91 212.91 0 0 0 474.72 864Z"/>
<path d="M508.97 873.8A246.3 246.3 0 0 1 509.3 885.83L505.06 885.84A242.06 242.06 0 0 0 504.74 874.02Z"/>
<path d="M509.3 887.17A246.3 246.3 0 0 1 508.97 899.2L475.1 897.45A212.38 212.38 0 0 0 475.38 887.08Z"/>
<path d="M508.9 900.53A246.3 246.3 0 0 1 507.92 912.53L504.76 912.19A243.12 243.12 0 0 0 505.72 900.35Z"/>
<path d="M507.78 913.86A246.3 246.3 0 0 1 506.15 925.78L503.01 925.28A243.12 243.12 0 0 0 504.62 913.51Z"/>
<path d="M505.93 927.1A246.3 246.3 0 0 1 503.66 938.92L501.17 938.38A243.76 243.76 0 0 0 503.42 926.68Z"/>
<path d="M503.37 940.23A246.3 246.3 0 0 1 500.46 951.91L498.21 951.29A243.97 243.97 0 0 0 501.09 939.72Z"/>
<path d="M500.1 953.19A246.3 246.3 0 0 1 496.56 964.7L488.52 962.01A237.82 237.82 0 0 0 491.93 950.9Z"/>
<path d="M496.13 965.96A246.3 246.3 0 0 1 491.97 977.26L489.6 976.32A243.76 243.76 0 0 0 493.72 965.14Z"/>
<path d="M491.47 978.5A246.3 246.3 0 0 1 486.71 989.55L476.31 984.76A234.85 234.85 0 0 0 480.85 974.22Z"/>
<path d="M486.14 990.76A246.3 246.3 0 0 1 480.78 1001.54L473.1 997.48A237.61 237.61 0 0 0 478.27 987.08Z"/>
<path d="M480.16 1002.72A246.3 246.3 0 0 1 474.22 1013.19L471.49 1011.55A243.12 243.12 0 0 0 477.35 1001.22Z"/>
<path d="M473.53 1014.34A246.3 246.3 0 0 1 467.03 1024.47L458.6 1018.77A236.12 236.12 0 0 0 464.83 1009.05Z"/>
<path d="M466.28 1025.57A246.3 246.3 0 0 1 459.24 1035.34L458.4 1034.7A245.24 245.24 0 0 0 465.4 1024.97Z"/>
<path d="M458.43 1036.4A246.3 246.3 0 0 1 450.88 1045.77L450.07 1045.08A245.24 245.24 0 0 0 457.59 1035.75Z"/>
<path d="M450.01 1046.79A246.3 246.3 0 0 1 441.96 1055.73L439.34 1053.25A242.7 242.7 0 0 0 447.27 1044.44Z"/>
</g>
<line x1="383.07" y1="1006.57" x2="440.63" y2="1064.13" stroke="#333" stroke-width="0.8"/>
<text x="435.76" y="1063.26" font-size="3" text-anchor="middle" font-weight="normal" fill="#4d4d4d" transform="rotate(45 435.76 1063.26)">0</text>
<text x="417.02" y="1044.52" font-size="3" text-anchor="middle" font-weight="normal" fill="#4d4d4d" transform="rotate(45 417.02 1044.52)">25</text>
<text x="398.28" y="1025.78" font-size="3" text-anchor="middle" font-weight="normal" fill="#4d4d4d" transform="rotate(45 398.28 1025.78)">50</text>
<text x="450.87" y="717.34" dy="-1.5" font-size="5.9" letter-spacing="0.36" font-weight="bold" fill="#1a1a1a" stroke="#1a1a1a" stroke-width="0.28" dominant-baseline="central" transform="rotate(-42 450.87 717.34)">Nervous system</text>
<text x="460.24" y="727.41" dy="-1.5" font-size="5.9" letter-spacing="0.36" font-weight="bold" fill="#1a1a1a" stroke="#1a1a1a" stroke-width="0.28" dominant-baseline="central" transform="rotate(-38.89 460.24 727.41)">Endocrine system</text>
<text x="469.03" y="738.03" dy="-1.5" font-size="5.9" letter-spacing="0.36" font-weight="bold" fill="#1a1a1a" stroke="#1a1a1a" stroke-width="0.28" dominant-baseline="central" transform="rotate(-38.78 469.03 738.03)">Aging</text>
<text x="477.21" y="749.16" dy="-1.5" font-size="5.9" letter-spacing="0.36" font-weight="bold" fill="#1a1a1a" stroke="#1a1a1a" stroke-width="0.28" dominant-baseline="central" transform="rotate(-36.27 477.21 749.16)">Xenobiotics biodegradation and metabolism</text>
<text x="484.75" y="760.76" dy="-1.5" font-size="5.9" letter-spacing="0.36" font-weight="bold" fill="#1a1a1a" stroke="#1a1a1a" stroke-width="0.28" dominant-baseline="central" transform="rotate(-33.76 484.75 760.76)">Nucleotide metabolism</text>
<text x="491.62" y="772.79" dy="-1.5" font-size="5.9" letter-spacing="0.36" font-weight="bold" fill="#1a1a1a" stroke="#1a1a1a" stroke-width="0.28" dominant-baseline="central" transform="rotate(-29.84 491.62 772.79)">Metabolism of terpenoids and polyketides</text>
<text x="497.79" y="785.22" dy="-1.5" font-size="5.9" letter-spacing="0.36" font-weight="bold" fill="#1a1a1a" stroke="#1a1a1a" stroke-width="0.28" dominant-baseline="central" transform="rotate(-25.43 497.79 785.22)">Metabolism of other amino acids</text>
<text x="503.24" y="798" dy="-1.5" font-size="5.9" letter-spacing="0.36" font-weight="bold" fill="#1a1a1a" stroke="#1a1a1a" stroke-width="0.28" dominant-baseline="central" transform="rotate(-22.02 503.24 798)">Metabolism of cofactors and vitamins</text>
<text x="507.96" y="811.09" dy="-1.5" font-size="5.9" letter-spacing="0.36" font-weight="bold" fill="#1a1a1a" stroke="#1a1a1a" stroke-width="0.28" dominant-baseline="central" transform="rotate(-17.11 507.96 811.09)">Lipid metabolism</text>
<text x="511.91" y="824.44" dy="-1.5" font-size="5.9" letter-spacing="0.36" font-weight="bold" fill="#1a1a1a" stroke="#1a1a1a" stroke-width="0.28" dominant-baseline="central" transform="rotate(-14 511.91 824.44)">Glycan biosynthesis and metabolism</text>
<text x="515.1" y="838" dy="-1.5" font-size="5.9" letter-spacing="0.36" font-weight="bold" fill="#1a1a1a" stroke="#1a1a1a" stroke-width="0.28" dominant-baseline="central" transform="rotate(-10.89 515.1 838)">Global and overview maps</text>
<text x="517.49" y="851.74" dy="-1.5" font-size="5.9" letter-spacing="0.36" font-weight="bold" fill="#1a1a1a" stroke="#1a1a1a" stroke-width="0.28" dominant-baseline="central" transform="rotate(-7.78 517.49 851.74)">Energy metabolism</text>
<text x="519.1" y="865.6" dy="-1.5" font-size="5.9" letter-spacing="0.36" font-weight="bold" fill="#1a1a1a" stroke="#1a1a1a" stroke-width="0.28" dominant-baseline="central" transform="rotate(-4.67 519.1 865.6)">Carbohydrate metabolism</text>
<text x="519.9" y="879.52" dy="-1.5" font-size="5.9" letter-spacing="0.36" font-weight="bold" fill="#1a1a1a" stroke="#1a1a1a" stroke-width="0.28" dominant-baseline="central" transform="rotate(-1.56 519.9 879.52)">Biosynthesis of other secondary metabolites</text>
<text x="519.9" y="893.48" dy="-1.5" font-size="5.9" letter-spacing="0.36" font-weight="bold" fill="#1a1a1a" stroke="#1a1a1a" stroke-width="0.28" dominant-baseline="central" transform="rotate(1.56 519.9 893.48)">Amino acid metabolism</text>
<text x="519.1" y="907.4" dy="-1.5" font-size="5.9" letter-spacing="0.36" font-weight="bold" fill="#1a1a1a" stroke="#1a1a1a" stroke-width="0.28" dominant-baseline="central" transform="rotate(4.67 519.1 907.4)">Infectious diseases: Bacterial</text>
<text x="517.49" y="921.26" dy="-1.5" font-size="5.9" letter-spacing="0.36" font-weight="bold" fill="#1a1a1a" stroke="#1a1a1a" stroke-width="0.28" dominant-baseline="central" transform="rotate(7.78 517.49 921.26)">Endocrine and metabolic diseases</text>
<text x="515.1" y="935" dy="-1.5" font-size="5.9" letter-spacing="0.36" font-weight="bold" fill="#1a1a1a" stroke="#1a1a1a" stroke-width="0.28" dominant-baseline="central" transform="rotate(10.89 515.1 935)">Drug resistance</text>
<text x="511.91" y="948.56" dy="-1.5" font-size="5.9" letter-spacing="0.36" font-weight="bold" fill="#1a1a1a" stroke="#1a1a1a" stroke-width="0.28" dominant-baseline="central" transform="rotate(14 511.91 948.56)">Cancers: Overview</text>
<text x="507.96" y="961.91" dy="-1.5" font-size="5.9" letter-spacing="0.36" font-weight="bold" fill="#1a1a1a" stroke="#1a1a1a" stroke-width="0.28" dominant-baseline="central" transform="rotate(17.11 507.96 961.91)">Translation</text>
<text x="503.24" y="975" dy="-1.5" font-size="5.9" letter-spacing="0.36" font-weight="bold" fill="#1a1a1a" stroke="#1a1a1a" stroke-width="0.28" dominant-baseline="central" transform="rotate(20.22 503.24 975)">Transcription</text>
<text x="497.79" y="987.78" dy="-1.5" font-size="5.9" letter-spacing="0.36" font-weight="bold" fill="#1a1a1a" stroke="#1a1a1a" stroke-width="0.28" dominant-baseline="central" transform="rotate(23.33 497.79 987.78)">Replication and repair</text>
<text x="491.62" y="1000.21" dy="-1.5" font-size="5.9" letter-spacing="0.36" font-weight="bold" fill="#1a1a1a" stroke="#1a1a1a" stroke-width="0.28" dominant-baseline="central" transform="rotate(26.44 491.62 1000.21)">Folding, sorting and degradation</text>
<text x="484.75" y="1012.24" dy="-1.5" font-size="5.9" letter-spacing="0.36" font-weight="bold" fill="#1a1a1a" stroke="#1a1a1a" stroke-width="0.28" dominant-baseline="central" transform="rotate(29.56 484.75 1012.24)">Signal transduction</text>
<text x="477.21" y="1023.84" dy="-1.5" font-size="5.9" letter-spacing="0.36" font-weight="bold" fill="#1a1a1a" stroke="#1a1a1a" stroke-width="0.28" dominant-baseline="central" transform="rotate(32.67 477.21 1023.84)">Membrane transport</text>
<text x="469.03" y="1034.97" dy="-1.5" font-size="5.9" letter-spacing="0.36" font-weight="bold" fill="#1a1a1a" stroke="#1a1a1a" stroke-width="0.28" dominant-baseline="central" transform="rotate(35.78 469.03 1034.97)">Transport and catabolism</text>
<text x="460.24" y="1045.59" dy="-1.5" font-size="5.9" letter-spacing="0.36" font-weight="bold" fill="#1a1a1a" stroke="#1a1a1a" stroke-width="0.28" dominant-baseline="central" transform="rotate(38.89 460.24 1045.59)">Cell motility</text>
<text x="450.87" y="1055.66" dy="-1.5" font-size="5.9" letter-spacing="0.36" font-weight="bold" fill="#1a1a1a" stroke="#1a1a1a" stroke-width="0.28" dominant-baseline="central" transform="rotate(42 450.87 1055.66)">Cell growth and death</text>
<path d="M495 671.5A28.9 28.9 0 0 1 516 701" fill="none" stroke="#222" stroke-width="0.7"/>
<path d="M601.4 657.3A177.7 177.7 0 0 1 666 898.5" fill="none" stroke="#222" stroke-width="0.7"/>
<path d="M633.7 909.4A31.1 31.1 0 0 1 627.8 954.9" fill="none" stroke="#222" stroke-width="0.7"/>
<path d="M602.8 965.2A59.3 59.3 0 0 1 580.8 1046.6" fill="none" stroke="#222" stroke-width="0.7"/>
<path d="M550.5 1051.9A12.4 12.4 0 0 1 539.7 1067.1" fill="none" stroke="#222" stroke-width="0.7"/>
<path d="M534.4 1085.6A25.7 25.7 0 0 1 510.3 1113.5" fill="none" stroke="#222" stroke-width="0.7"/>
<text x="516" y="675.8" font-size="5.9" letter-spacing="0.36" font-weight="bold" fill="#1a1a1a" stroke="#1a1a1a" stroke-width="0.28" dominant-baseline="central" transform="rotate(-45 516 675.8)">Organismal Systems</text>
<text x="671.9" y="724" font-size="5.9" letter-spacing="0.36" font-weight="bold" fill="#1a1a1a" stroke="#1a1a1a" stroke-width="0.28" dominant-baseline="central" transform="rotate(-21 671.9 724)">Metabolism</text>
<text x="646.9" y="939.8" font-size="5.9" letter-spacing="0.36" font-weight="bold" fill="#1a1a1a" stroke="#1a1a1a" stroke-width="0.28" dominant-baseline="central" transform="rotate(2 646.9 939.8)">Human Diseases</text>
<text x="612.5" y="1015.7" font-size="5.9" letter-spacing="0.36" font-weight="bold" fill="#1a1a1a" stroke="#1a1a1a" stroke-width="0.28" dominant-baseline="central" transform="rotate(17.2 612.5 1015.7)">Genetic Information Processing</text>
<text x="552.9" y="1066.5" font-size="5.9" letter-spacing="0.36" font-weight="bold" fill="#1a1a1a" stroke="#1a1a1a" stroke-width="0.28" dominant-baseline="central" transform="rotate(32.3 552.9 1066.5)">Environmental Information Processing</text>
<text x="532.3" y="1108.6" font-size="5.9" letter-spacing="0.36" font-weight="bold" fill="#1a1a1a" stroke="#1a1a1a" stroke-width="0.28" dominant-baseline="central" transform="rotate(30.5 532.3 1108.6)">Cellular Processes</text>
<text x="418.9" y="880.3" font-size="8.26" text-anchor="middle" font-weight="normal" fill="#000" transform="rotate(-90 418.9 880.3)">Number of Neighghbors</text>
<path d="M401.66 741.86A224.75 219.7 0 0 0 393.43 733.35L388.06 738.58A217.17 212.29 0 0 1 396.01 746.8Z" fill="#5a9463"/>
<path d="M396.13 746.7A217.33 212.44 0 0 0 388.17 738.47L382.8 743.71A209.75 205.03 0 0 1 390.48 751.65Z" fill="#55b058"/>
<path d="M390.6 751.55A209.9 205.18 0 0 0 382.91 743.6L377.54 748.83A202.32 197.77 0 0 1 384.95 756.49Z" fill="#55b058"/>
<path d="M385.07 756.39A202.47 197.92 0 0 0 377.65 748.73L372.28 753.96A194.89 190.51 0 0 1 379.42 761.34Z" fill="#45dc42"/>
<path d="M379.54 761.24A195.05 190.66 0 0 0 372.39 753.85L367.03 759.09A187.46 183.25 0 0 1 373.89 766.19Z" fill="#45dc42"/>
<path d="M393.65 733.56A224.75 219.7 0 0 0 384.97 725.48L379.89 730.98A217.17 212.29 0 0 1 388.27 738.79Z" fill="#3b2d8a"/>
<path d="M388.38 738.68A217.33 212.44 0 0 0 379.99 730.87L374.91 736.37A209.75 205.03 0 0 1 383.01 743.91Z" fill="#21108c"/>
<path d="M383.12 743.8A209.9 205.18 0 0 0 375.02 736.26L369.93 741.75A202.32 197.77 0 0 1 377.74 749.03Z" fill="#3b2d8a"/>
<path d="M377.85 748.92A202.47 197.92 0 0 0 370.04 741.64L364.95 747.14A194.89 190.51 0 0 1 372.48 754.15Z" fill="#21108c"/>
<path d="M372.58 754.04A195.05 190.66 0 0 0 365.06 747.03L359.98 752.53A187.46 183.25 0 0 1 367.21 759.27Z" fill="#21108c"/>
<path d="M385.21 725.69A224.75 219.7 0 0 0 376.11 718.06L371.33 723.81A217.17 212.29 0 0 1 380.12 731.18Z" fill="#3b2d8a"/>
<path d="M380.22 731.07A217.33 212.44 0 0 0 371.43 723.69L366.65 729.44A209.75 205.03 0 0 1 375.13 736.56Z" fill="#21108c"/>
<path d="M375.23 736.45A209.9 205.18 0 0 0 366.74 729.32L361.96 735.07A202.32 197.77 0 0 1 370.14 741.94Z" fill="#3b2d8a"/>
<path d="M370.25 741.83A202.47 197.92 0 0 0 362.06 734.95L357.27 740.7A194.89 190.51 0 0 1 365.16 747.32Z" fill="#3b2d8a"/>
<path d="M365.26 747.21A195.05 190.66 0 0 0 357.37 740.59L352.59 746.33A187.46 183.25 0 0 1 360.17 752.7Z" fill="#21108c"/>
<path d="M376.36 718.25A224.75 219.7 0 0 0 366.87 711.09L362.4 717.08A217.17 212.29 0 0 1 371.57 723.99Z" fill="#4e5282"/>
<path d="M371.66 723.88A217.33 212.44 0 0 0 362.49 716.95L358.02 722.94A209.75 205.03 0 0 1 366.87 729.62Z" fill="#3b2d8a"/>
<path d="M366.97 729.5A209.9 205.18 0 0 0 358.11 722.82L353.64 728.8A202.32 197.77 0 0 1 362.18 735.24Z" fill="#3b2d8a"/>
<path d="M362.28 735.13A202.47 197.92 0 0 0 353.73 728.68L349.26 734.66A194.89 190.51 0 0 1 357.48 740.87Z" fill="#3b2d8a"/>
<path d="M357.58 740.75A195.05 190.66 0 0 0 349.35 734.54L344.88 740.53A187.46 183.25 0 0 1 352.79 746.5Z" fill="#3b2d8a"/>
<path d="M367.13 711.27A224.75 219.7 0 0 0 357.28 704.61L353.13 710.81A217.17 212.29 0 0 1 362.65 717.25Z" fill="#587478"/>
<path d="M362.74 717.13A217.33 212.44 0 0 0 353.21 710.68L349.06 716.88A209.75 205.03 0 0 1 358.26 723.11Z" fill="#4e5282"/>
<path d="M358.35 722.99A209.9 205.18 0 0 0 349.15 716.76L345 722.96A202.32 197.77 0 0 1 353.87 728.96Z" fill="#4e5282"/>
<path d="M353.96 728.84A202.47 197.92 0 0 0 345.08 722.84L340.94 729.04A194.89 190.51 0 0 1 349.48 734.82Z" fill="#4e5282"/>
<path d="M349.57 734.7A195.05 190.66 0 0 0 341.02 728.91L336.87 735.11A187.46 183.25 0 0 1 345.09 740.68Z" fill="#4e5282"/>
<path d="M357.54 704.77A224.75 219.7 0 0 0 347.35 698.61L343.53 705.02A217.17 212.29 0 0 1 353.38 710.97Z" fill="#55b058"/>
<path d="M353.47 710.84A217.33 212.44 0 0 0 343.61 704.89L339.8 711.29A209.75 205.03 0 0 1 349.31 717.04Z" fill="#55b058"/>
<path d="M349.39 716.92A209.9 205.18 0 0 0 339.88 711.16L336.06 717.57A202.32 197.77 0 0 1 345.24 723.11Z" fill="#45dc42"/>
<path d="M345.32 722.99A202.47 197.92 0 0 0 336.14 717.44L332.33 723.84A194.89 190.51 0 0 1 341.16 729.18Z" fill="#45dc42"/>
<path d="M341.25 729.06A195.05 190.66 0 0 0 332.4 723.71L328.59 730.12A187.46 183.25 0 0 1 337.09 735.25Z" fill="#55b058"/>
<path d="M347.62 698.77A224.75 219.7 0 0 0 337.11 693.13L333.65 699.72A217.17 212.29 0 0 1 343.8 705.17Z" fill="#5a9463"/>
<path d="M343.87 705.04A217.33 212.44 0 0 0 333.72 699.59L330.25 706.18A209.75 205.03 0 0 1 340.05 711.44Z" fill="#55b058"/>
<path d="M340.13 711.31A209.9 205.18 0 0 0 330.32 706.05L326.85 712.64A202.32 197.77 0 0 1 336.31 717.71Z" fill="#55b058"/>
<path d="M336.38 717.58A202.47 197.92 0 0 0 326.92 712.5L323.45 719.09A194.89 190.51 0 0 1 332.56 723.98Z" fill="#55b058"/>
<path d="M332.64 723.85A195.05 190.66 0 0 0 323.52 718.96L320.06 725.55A187.46 183.25 0 0 1 328.82 730.25Z" fill="#55b058"/>
<path d="M337.39 693.28A224.75 219.7 0 0 0 326.6 688.18L323.49 694.94A217.17 212.29 0 0 1 333.91 699.86Z" fill="#5a9463"/>
<path d="M333.98 699.73A217.33 212.44 0 0 0 323.55 694.8L320.44 701.56A209.75 205.03 0 0 1 330.51 706.31Z" fill="#4e5282"/>
<path d="M330.58 706.18A209.9 205.18 0 0 0 320.5 701.42L317.39 708.18A202.32 197.77 0 0 1 327.1 712.76Z" fill="#4e5282"/>
<path d="M327.17 712.63A202.47 197.92 0 0 0 317.45 708.04L314.34 714.8A194.89 190.51 0 0 1 323.69 719.21Z" fill="#3b2d8a"/>
<path d="M323.76 719.08A195.05 190.66 0 0 0 314.4 714.66L311.29 721.42A187.46 183.25 0 0 1 320.29 725.66Z" fill="#3b2d8a"/>
<path d="M326.89 688.31A224.75 219.7 0 0 0 315.84 683.77L313.09 690.67A217.17 212.29 0 0 1 323.76 695.06Z" fill="#5a9463"/>
<path d="M323.83 694.92A217.33 212.44 0 0 0 313.15 690.53L310.4 697.44A209.75 205.03 0 0 1 320.71 701.68Z" fill="#587478"/>
<path d="M320.77 701.54A209.9 205.18 0 0 0 310.45 697.3L307.7 704.2A202.32 197.77 0 0 1 317.65 708.29Z" fill="#4e5282"/>
<path d="M317.71 708.15A202.47 197.92 0 0 0 307.76 704.07L305.01 710.97A194.89 190.51 0 0 1 314.59 714.91Z" fill="#3b2d8a"/>
<path d="M314.65 714.77A195.05 190.66 0 0 0 305.06 710.83L302.31 717.74A187.46 183.25 0 0 1 311.53 721.52Z" fill="#3b2d8a"/>
<path d="M316.13 683.88A224.75 219.7 0 0 0 304.86 679.91L302.48 686.94A217.17 212.29 0 0 1 313.37 690.78Z" fill="#5a9463"/>
<path d="M313.43 690.64A217.33 212.44 0 0 0 302.53 686.8L300.15 693.84A209.75 205.03 0 0 1 310.67 697.54Z" fill="#5a9463"/>
<path d="M310.73 697.4A209.9 205.18 0 0 0 300.2 693.69L297.82 700.73A202.32 197.77 0 0 1 307.97 704.31Z" fill="#5a9463"/>
<path d="M308.02 704.17A202.47 197.92 0 0 0 297.87 700.59L295.49 707.62A194.89 190.51 0 0 1 305.26 711.07Z" fill="#5a9463"/>
<path d="M305.32 710.93A195.05 190.66 0 0 0 295.53 707.48L293.15 714.52A187.46 183.25 0 0 1 302.56 717.83Z" fill="#5a9463"/>
<path d="M305.16 680A224.75 219.7 0 0 0 293.69 676.61L291.69 683.76A217.17 212.29 0 0 1 302.77 687.04Z" fill="#3b2d8a"/>
<path d="M302.82 686.89A217.33 212.44 0 0 0 291.73 683.61L289.73 690.76A209.75 205.03 0 0 1 300.43 693.93Z" fill="#3b2d8a"/>
<path d="M300.48 693.78A209.9 205.18 0 0 0 289.77 690.61L287.76 697.76A202.32 197.77 0 0 1 298.09 700.82Z" fill="#21108c"/>
<path d="M298.13 700.67A202.47 197.92 0 0 0 287.8 697.62L285.8 704.76A194.89 190.51 0 0 1 295.74 707.71Z" fill="#21108c"/>
<path d="M295.79 707.56A195.05 190.66 0 0 0 285.84 704.62L283.84 711.76A187.46 183.25 0 0 1 293.4 714.6Z" fill="#21108c"/>
<path d="M293.99 676.69A224.75 219.7 0 0 0 282.36 673.88L280.74 681.12A217.17 212.29 0 0 1 291.98 683.83Z" fill="#e4ff10"/>
<path d="M292.02 683.69A217.33 212.44 0 0 0 280.77 680.97L279.15 688.21A209.75 205.03 0 0 1 290.01 690.83Z" fill="#c4ff10"/>
<path d="M290.05 690.69A209.9 205.18 0 0 0 279.18 688.07L277.56 695.3A202.32 197.77 0 0 1 288.04 697.83Z" fill="#c4ff10"/>
<path d="M288.08 697.69A202.47 197.92 0 0 0 277.6 695.16L275.98 702.4A194.89 190.51 0 0 1 286.06 704.83Z" fill="#8cff10"/>
<path d="M286.1 704.69A195.05 190.66 0 0 0 276.01 702.25L274.39 709.49A187.46 183.25 0 0 1 284.09 711.83Z" fill="#8cff10"/>
<path d="M282.67 673.95A224.75 219.7 0 0 0 270.9 671.73L269.67 679.04A217.17 212.29 0 0 1 281.04 681.18Z" fill="#55b058"/>
<path d="M281.07 681.04A217.33 212.44 0 0 0 269.69 678.9L268.46 686.21A209.75 205.03 0 0 1 279.44 688.27Z" fill="#5a9463"/>
<path d="M279.47 688.13A209.9 205.18 0 0 0 268.48 686.06L267.25 693.37A202.32 197.77 0 0 1 277.84 695.36Z" fill="#5a9463"/>
<path d="M277.87 695.22A202.47 197.92 0 0 0 267.27 693.22L266.04 700.53A194.89 190.51 0 0 1 276.24 702.45Z" fill="#587478"/>
<path d="M276.27 702.31A195.05 190.66 0 0 0 266.06 700.39L264.83 707.7A187.46 183.25 0 0 1 274.64 709.54Z" fill="#587478"/>
<path d="M271.21 671.78A224.75 219.7 0 0 0 259.34 670.17L258.5 677.53A217.17 212.29 0 0 1 269.97 679.09Z" fill="#45dc42"/>
<path d="M269.99 678.94A217.33 212.44 0 0 0 258.52 677.38L257.67 684.75A209.75 205.03 0 0 1 268.75 686.25Z" fill="#55b058"/>
<path d="M268.77 686.11A209.9 205.18 0 0 0 257.69 684.6L256.84 691.96A202.32 197.77 0 0 1 267.53 693.42Z" fill="#55b058"/>
<path d="M267.55 693.27A202.47 197.92 0 0 0 256.86 691.81L256.02 699.18A194.89 190.51 0 0 1 266.31 700.58Z" fill="#55b058"/>
<path d="M266.33 700.43A195.05 190.66 0 0 0 256.03 699.03L255.19 706.39A187.46 183.25 0 0 1 265.09 707.74Z" fill="#55b058"/>
<path d="M259.66 670.2A224.75 219.7 0 0 0 247.72 669.19L247.26 676.59A217.17 212.29 0 0 1 258.8 677.57Z" fill="#3b2d8a"/>
<path d="M258.82 677.42A217.33 212.44 0 0 0 247.27 676.44L246.82 683.84A209.75 205.03 0 0 1 257.96 684.78Z" fill="#21108c"/>
<path d="M257.98 684.63A209.9 205.18 0 0 0 246.83 683.69L246.38 691.08A202.32 197.77 0 0 1 257.12 691.99Z" fill="#21108c"/>
<path d="M257.14 691.84A202.47 197.92 0 0 0 246.39 690.93L245.93 698.33A194.89 190.51 0 0 1 256.29 699.21Z" fill="#21108c"/>
<path d="M256.3 699.06A195.05 190.66 0 0 0 245.94 698.18L245.49 705.58A187.46 183.25 0 0 1 255.45 706.42Z" fill="#21108c"/>
<path d="M248.03 669.21A224.75 219.7 0 0 0 236.06 668.81L236 676.22A217.17 212.29 0 0 1 247.57 676.61Z" fill="#21108c"/>
<path d="M247.58 676.46A217.33 212.44 0 0 0 236 676.07L235.94 683.48A209.75 205.03 0 0 1 247.11 683.85Z" fill="#21108c"/>
<path d="M247.12 683.7A209.9 205.18 0 0 0 235.94 683.33L235.88 690.74A202.32 197.77 0 0 1 246.66 691.1Z" fill="#3b2d8a"/>
<path d="M246.67 690.95A202.47 197.92 0 0 0 235.88 690.59L235.82 698A194.89 190.51 0 0 1 246.21 698.35Z" fill="#3b2d8a"/>
<path d="M246.22 698.2A195.05 190.66 0 0 0 235.82 697.85L235.76 705.26A187.46 183.25 0 0 1 245.75 705.59Z" fill="#3b2d8a"/>
<path d="M236.37 668.81A224.75 219.7 0 0 0 224.39 669.01L224.72 676.42A217.17 212.29 0 0 1 236.3 676.22Z" fill="#4cf820"/>
<path d="M236.3 676.07A217.33 212.44 0 0 0 224.72 676.27L225.05 683.67A209.75 205.03 0 0 1 236.23 683.48Z" fill="#45dc42"/>
<path d="M236.23 683.33A209.9 205.18 0 0 0 225.04 683.52L225.38 690.92A202.32 197.77 0 0 1 236.16 690.74Z" fill="#45dc42"/>
<path d="M236.16 690.59A202.47 197.92 0 0 0 225.37 690.77L225.71 698.18A194.89 190.51 0 0 1 236.09 698Z" fill="#55b058"/>
<path d="M236.1 697.85A195.05 190.66 0 0 0 225.7 698.03L226.03 705.43A187.46 183.25 0 0 1 236.03 705.26Z" fill="#55b058"/>
<path d="M224.7 669A224.75 219.7 0 0 0 212.75 669.81L213.48 677.19A217.17 212.29 0 0 1 225.03 676.4Z" fill="#4cf820"/>
<path d="M225.02 676.25A217.33 212.44 0 0 0 213.46 677.04L214.19 684.41A209.75 205.03 0 0 1 225.34 683.66Z" fill="#c4ff10"/>
<path d="M225.34 683.51A209.9 205.18 0 0 0 214.17 684.27L214.9 691.64A202.32 197.77 0 0 1 225.66 690.91Z" fill="#c4ff10"/>
<path d="M225.65 690.76A202.47 197.92 0 0 0 214.89 691.49L215.61 698.87A194.89 190.51 0 0 1 225.98 698.16Z" fill="#f4f410"/>
<path d="M225.97 698.01A195.05 190.66 0 0 0 215.6 698.72L216.32 706.09A187.46 183.25 0 0 1 226.29 705.42Z" fill="#f4f410"/>
<path d="M213.06 669.78A224.75 219.7 0 0 0 201.17 671.2L202.28 678.53A217.17 212.29 0 0 1 213.78 677.16Z" fill="#55b058"/>
<path d="M213.76 677.01A217.33 212.44 0 0 0 202.26 678.38L203.38 685.71A209.75 205.03 0 0 1 214.48 684.39Z" fill="#5a9463"/>
<path d="M214.46 684.24A209.9 205.18 0 0 0 203.36 685.56L204.47 692.89A202.32 197.77 0 0 1 215.18 691.62Z" fill="#587478"/>
<path d="M215.17 691.47A202.47 197.92 0 0 0 204.45 692.74L205.57 700.07A194.89 190.51 0 0 1 215.88 698.84Z" fill="#587478"/>
<path d="M215.87 698.69A195.05 190.66 0 0 0 205.55 699.92L206.66 707.25A187.46 183.25 0 0 1 216.58 706.07Z" fill="#587478"/>
<path d="M201.48 671.16A224.75 219.7 0 0 0 189.67 673.17L191.18 680.44A217.17 212.29 0 0 1 202.58 678.49Z" fill="#45dc42"/>
<path d="M202.56 678.34A217.33 212.44 0 0 0 191.15 680.29L192.65 687.55A209.75 205.03 0 0 1 203.67 685.67Z" fill="#55b058"/>
<path d="M203.65 685.52A209.9 205.18 0 0 0 192.62 687.41L194.13 694.67A202.32 197.77 0 0 1 204.75 692.85Z" fill="#55b058"/>
<path d="M204.73 692.7A202.47 197.92 0 0 0 194.1 694.52L195.6 701.78A194.89 190.51 0 0 1 205.84 700.03Z" fill="#55b058"/>
<path d="M205.82 699.88A195.05 190.66 0 0 0 195.57 701.64L197.08 708.9A187.46 183.25 0 0 1 206.92 707.21Z" fill="#55b058"/>
<path d="M189.98 673.11A224.75 219.7 0 0 0 178.3 675.73L180.19 682.9A217.17 212.29 0 0 1 191.48 680.38Z" fill="#45dc42"/>
<path d="M191.45 680.23A217.33 212.44 0 0 0 180.15 682.76L182.04 689.94A209.75 205.03 0 0 1 192.94 687.5Z" fill="#55b058"/>
<path d="M192.91 687.35A209.9 205.18 0 0 0 182 689.79L183.89 696.97A202.32 197.77 0 0 1 194.41 694.61Z" fill="#55b058"/>
<path d="M194.38 694.47A202.47 197.92 0 0 0 183.85 696.82L185.74 704A194.89 190.51 0 0 1 195.87 701.73Z" fill="#55b058"/>
<path d="M195.84 701.58A195.05 190.66 0 0 0 185.7 703.85L187.59 711.03A187.46 183.25 0 0 1 197.33 708.85Z" fill="#55b058"/>
<path d="M178.61 675.65A224.75 219.7 0 0 0 167.08 678.86L169.35 685.93A217.17 212.29 0 0 1 180.48 682.83Z" fill="#5a9463"/>
<path d="M180.45 682.69A217.33 212.44 0 0 0 169.3 685.78L171.57 692.85A209.75 205.03 0 0 1 182.32 689.86Z" fill="#5a9463"/>
<path d="M182.29 689.72A209.9 205.18 0 0 0 171.52 692.71L173.79 699.78A202.32 197.77 0 0 1 184.16 696.9Z" fill="#5a9463"/>
<path d="M184.13 696.75A202.47 197.92 0 0 0 173.74 699.64L176.01 706.71A194.89 190.51 0 0 1 186.01 703.93Z" fill="#5a9463"/>
<path d="M185.97 703.79A195.05 190.66 0 0 0 175.97 706.57L178.23 713.64A187.46 183.25 0 0 1 187.85 710.97Z" fill="#5a9463"/>
<path d="M167.38 678.76A224.75 219.7 0 0 0 156.04 682.55L158.68 689.5A217.17 212.29 0 0 1 169.64 685.84Z" fill="#55b058"/>
<path d="M169.59 685.7A217.33 212.44 0 0 0 158.63 689.35L161.27 696.3A209.75 205.03 0 0 1 171.85 692.77Z" fill="#55b058"/>
<path d="M171.8 692.63A209.9 205.18 0 0 0 161.21 696.16L163.85 703.11A202.32 197.77 0 0 1 174.06 699.7Z" fill="#55b058"/>
<path d="M174.01 699.56A202.47 197.92 0 0 0 163.8 702.97L166.44 709.91A194.89 190.51 0 0 1 176.27 706.63Z" fill="#55b058"/>
<path d="M176.23 706.49A195.05 190.66 0 0 0 166.38 709.77L169.02 716.72A187.46 183.25 0 0 1 178.48 713.56Z" fill="#5a9463"/>
<path d="M156.33 682.44A224.75 219.7 0 0 0 145.21 686.8L148.22 693.6A217.17 212.29 0 0 1 158.96 689.39Z" fill="#587478"/>
<path d="M158.91 689.25A217.33 212.44 0 0 0 148.15 693.46L151.16 700.27A209.75 205.03 0 0 1 161.54 696.2Z" fill="#4e5282"/>
<path d="M161.49 696.06A209.9 205.18 0 0 0 151.1 700.13L154.1 706.93A202.32 197.77 0 0 1 164.12 703.01Z" fill="#4e5282"/>
<path d="M164.06 702.87A202.47 197.92 0 0 0 154.04 706.79L157.05 713.6A194.89 190.51 0 0 1 166.69 709.82Z" fill="#587478"/>
<path d="M166.64 709.68A195.05 190.66 0 0 0 156.99 713.46L159.99 720.26A187.46 183.25 0 0 1 169.27 716.63Z" fill="#587478"/>
<path d="M145.5 686.68A224.75 219.7 0 0 0 134.62 691.59L137.98 698.23A217.17 212.29 0 0 1 148.49 693.48Z" fill="#45dc42"/>
<path d="M148.43 693.34A217.33 212.44 0 0 0 137.92 698.1L141.28 704.74A209.75 205.03 0 0 1 151.43 700.15Z" fill="#55b058"/>
<path d="M151.37 700.01A209.9 205.18 0 0 0 141.21 704.6L144.57 711.24A202.32 197.77 0 0 1 154.36 706.82Z" fill="#55b058"/>
<path d="M154.3 706.68A202.47 197.92 0 0 0 144.5 711.11L147.87 717.75A194.89 190.51 0 0 1 157.3 713.49Z" fill="#55b058"/>
<path d="M157.24 713.35A195.05 190.66 0 0 0 147.8 717.62L151.16 724.26A187.46 183.25 0 0 1 160.23 720.16Z" fill="#5a9463"/>
<path d="M134.9 691.45A224.75 219.7 0 0 0 124.3 696.91L128.01 703.37A217.17 212.29 0 0 1 138.26 698.1Z" fill="#ff7a10"/>
<path d="M138.19 697.96A217.33 212.44 0 0 0 127.94 703.24L131.65 709.7A209.75 205.03 0 0 1 141.54 704.61Z" fill="#ff7a10"/>
<path d="M141.47 704.48A209.9 205.18 0 0 0 131.57 709.57L135.28 716.04A202.32 197.77 0 0 1 144.82 711.12Z" fill="#ff3008"/>
<path d="M144.76 710.99A202.47 197.92 0 0 0 135.21 715.9L138.92 722.37A194.89 190.51 0 0 1 148.11 717.63Z" fill="#ff3008"/>
<path d="M148.04 717.5A195.05 190.66 0 0 0 138.84 722.24L142.55 728.7A187.46 183.25 0 0 1 151.39 724.14Z" fill="#ff7a10"/>
<path d="M124.57 696.76A224.75 219.7 0 0 0 114.28 702.75L118.33 709.01A217.17 212.29 0 0 1 128.28 703.23Z" fill="#8cff10"/>
<path d="M128.2 703.1A217.33 212.44 0 0 0 118.24 708.89L122.29 715.15A209.75 205.03 0 0 1 131.9 709.56Z" fill="#8cff10"/>
<path d="M131.83 709.43A209.9 205.18 0 0 0 122.21 715.03L126.26 721.29A202.32 197.77 0 0 1 135.53 715.9Z" fill="#8cff10"/>
<path d="M135.45 715.77A202.47 197.92 0 0 0 126.18 721.16L130.22 727.43A194.89 190.51 0 0 1 139.15 722.24Z" fill="#c4ff10"/>
<path d="M139.08 722.11A195.05 190.66 0 0 0 130.14 727.3L134.19 733.57A187.46 183.25 0 0 1 142.78 728.57Z" fill="#8cff10"/>
<path d="M114.54 702.59A224.75 219.7 0 0 0 104.58 709.09L108.95 715.14A217.17 212.29 0 0 1 118.58 708.86Z" fill="#c4ff10"/>
<path d="M118.5 708.73A217.33 212.44 0 0 0 108.86 715.02L113.24 721.07A209.75 205.03 0 0 1 122.54 715Z" fill="#c4ff10"/>
<path d="M122.46 714.87A209.9 205.18 0 0 0 113.15 720.95L117.53 727A202.32 197.77 0 0 1 126.5 721.14Z" fill="#c4ff10"/>
<path d="M126.41 721.02A202.47 197.92 0 0 0 117.44 726.88L121.81 732.93A194.89 190.51 0 0 1 130.45 727.29Z" fill="#c4ff10"/>
<path d="M130.37 727.16A195.05 190.66 0 0 0 121.72 732.8L126.1 738.86A187.46 183.25 0 0 1 134.41 733.43Z" fill="#8cff10"/>
<path d="M104.83 708.91A224.75 219.7 0 0 0 95.23 715.91L99.92 721.73A217.17 212.29 0 0 1 109.2 714.97Z" fill="#8cff10"/>
<path d="M109.11 714.85A217.33 212.44 0 0 0 99.82 721.62L104.51 727.44A209.75 205.03 0 0 1 113.48 720.9Z" fill="#8cff10"/>
<path d="M113.39 720.78A209.9 205.18 0 0 0 104.42 727.32L109.11 733.14A202.32 197.77 0 0 1 117.76 726.84Z" fill="#8cff10"/>
<path d="M117.67 726.72A202.47 197.92 0 0 0 109.01 733.02L113.7 738.84A194.89 190.51 0 0 1 122.03 732.77Z" fill="#8cff10"/>
<path d="M121.95 732.65A195.05 190.66 0 0 0 113.61 738.73L118.3 744.55A187.46 183.25 0 0 1 126.31 738.71Z" fill="#8cff10"/>
<path d="M95.47 715.72A224.75 219.7 0 0 0 86.25 723.2L91.24 728.78A217.17 212.29 0 0 1 100.16 721.55Z" fill="#8cff10"/>
<path d="M100.06 721.43A217.33 212.44 0 0 0 91.14 728.66L96.14 734.24A209.75 205.03 0 0 1 104.74 727.26Z" fill="#8cff10"/>
<path d="M104.65 727.14A209.9 205.18 0 0 0 96.03 734.13L101.03 739.7A202.32 197.77 0 0 1 109.33 732.97Z" fill="#8cff10"/>
<path d="M109.24 732.85A202.47 197.92 0 0 0 100.93 739.59L105.92 745.16A194.89 190.51 0 0 1 113.92 738.68Z" fill="#8cff10"/>
<path d="M113.82 738.56A195.05 190.66 0 0 0 105.82 745.05L110.81 750.63A187.46 183.25 0 0 1 118.51 744.39Z" fill="#8cff10"/>
<path d="M86.49 723A224.75 219.7 0 0 0 77.67 730.93L82.96 736.25A217.17 212.29 0 0 1 91.47 728.58Z" fill="#3b2d8a"/>
<path d="M91.37 728.47A217.33 212.44 0 0 0 82.85 736.14L88.13 741.46A209.75 205.03 0 0 1 96.36 734.05Z" fill="#21108c"/>
<path d="M96.26 733.94A209.9 205.18 0 0 0 88.02 741.35L93.31 746.66A202.32 197.77 0 0 1 101.24 739.52Z" fill="#21108c"/>
<path d="M101.14 739.41A202.47 197.92 0 0 0 93.2 746.55L98.48 751.87A194.89 190.51 0 0 1 106.13 744.99Z" fill="#21108c"/>
<path d="M106.02 744.87A195.05 190.66 0 0 0 98.38 751.76L103.66 757.08A187.46 183.25 0 0 1 111.01 750.46Z" fill="#3b2d8a"/>
<path d="M77.9 730.72A224.75 219.7 0 0 0 69.52 739.09L75.08 744.13A217.17 212.29 0 0 1 83.17 736.04Z" fill="#4e5282"/>
<path d="M83.07 735.93A217.33 212.44 0 0 0 74.96 744.03L80.52 749.07A209.75 205.03 0 0 1 88.34 741.26Z" fill="#4e5282"/>
<path d="M88.24 741.15A209.9 205.18 0 0 0 80.41 748.97L85.97 754.01A202.32 197.77 0 0 1 93.51 746.47Z" fill="#4e5282"/>
<path d="M93.4 746.36A202.47 197.92 0 0 0 85.85 753.9L91.41 758.94A194.89 190.51 0 0 1 98.68 751.68Z" fill="#4e5282"/>
<path d="M98.57 751.58A195.05 190.66 0 0 0 91.3 758.84L96.86 763.88A187.46 183.25 0 0 1 103.85 756.9Z" fill="#4e5282"/>
<path d="M69.73 738.87A224.75 219.7 0 0 0 61.81 747.65L67.63 752.4A217.17 212.29 0 0 1 75.28 743.92Z" fill="#5a9463"/>
<path d="M75.17 743.81A217.33 212.44 0 0 0 67.51 752.31L73.33 757.06A209.75 205.03 0 0 1 80.72 748.86Z" fill="#5a9463"/>
<path d="M80.61 748.76A209.9 205.18 0 0 0 73.21 756.96L79.03 761.71A202.32 197.77 0 0 1 86.16 753.8Z" fill="#5a9463"/>
<path d="M86.05 753.7A202.47 197.92 0 0 0 78.91 761.62L84.73 766.37A194.89 190.51 0 0 1 91.6 758.75Z" fill="#5a9463"/>
<path d="M91.48 758.65A195.05 190.66 0 0 0 84.61 766.27L90.43 771.02A187.46 183.25 0 0 1 97.04 763.69Z" fill="#5a9463"/>
<path d="M62.01 747.42A224.75 219.7 0 0 0 54.56 756.6L60.62 761.04A217.17 212.29 0 0 1 67.82 752.18Z" fill="#21108c"/>
<path d="M67.7 752.08A217.33 212.44 0 0 0 60.5 760.95L66.56 765.4A209.75 205.03 0 0 1 73.51 756.84Z" fill="#21108c"/>
<path d="M73.4 756.74A209.9 205.18 0 0 0 66.44 765.31L72.5 769.76A202.32 197.77 0 0 1 79.21 761.5Z" fill="#21108c"/>
<path d="M79.09 761.41A202.47 197.92 0 0 0 72.38 769.67L78.44 774.12A194.89 190.51 0 0 1 84.9 766.16Z" fill="#21108c"/>
<path d="M84.78 766.07A195.05 190.66 0 0 0 78.32 774.03L84.38 778.48A187.46 183.25 0 0 1 90.59 770.83Z" fill="#21108c"/>
<path d="M54.75 756.35A224.75 219.7 0 0 0 47.8 765.89L54.09 770.03A217.17 212.29 0 0 1 60.81 760.81Z" fill="#4cf820"/>
<path d="M60.68 760.72A217.33 212.44 0 0 0 53.96 769.94L60.25 774.08A209.75 205.03 0 0 1 66.74 765.17Z" fill="#45dc42"/>
<path d="M66.62 765.08A209.9 205.18 0 0 0 60.13 773.99L66.42 778.13A202.32 197.77 0 0 1 72.67 769.54Z" fill="#55b058"/>
<path d="M72.55 769.45A202.47 197.92 0 0 0 66.29 778.05L72.58 782.18A194.89 190.51 0 0 1 78.61 773.91Z" fill="#55b058"/>
<path d="M78.48 773.82A195.05 190.66 0 0 0 72.45 782.1L78.74 786.23A187.46 183.25 0 0 1 84.54 778.27Z" fill="#55b058"/>
<path d="M47.98 765.64A224.75 219.7 0 0 0 41.54 775.52L48.04 779.33A217.17 212.29 0 0 1 54.26 769.78Z" fill="#3b2d8a"/>
<path d="M54.13 769.7A217.33 212.44 0 0 0 47.91 779.25L54.41 783.06A209.75 205.03 0 0 1 60.42 773.84Z" fill="#3b2d8a"/>
<path d="M60.29 773.76A209.9 205.18 0 0 0 54.28 782.99L60.78 786.8A202.32 197.77 0 0 1 66.58 777.9Z" fill="#21108c"/>
<path d="M66.45 777.82A202.47 197.92 0 0 0 60.65 786.72L67.15 790.53A194.89 190.51 0 0 1 72.73 781.96Z" fill="#21108c"/>
<path d="M72.6 781.88A195.05 190.66 0 0 0 67.02 790.45L73.52 794.26A187.46 183.25 0 0 1 78.89 786.02Z" fill="#21108c"/>
<path d="M41.7 775.26A224.75 219.7 0 0 0 35.8 785.45L42.5 788.93A217.17 212.29 0 0 1 48.2 779.08Z" fill="#c4ff10"/>
<path d="M48.07 779A217.33 212.44 0 0 0 42.36 788.86L49.06 792.33A209.75 205.03 0 0 1 54.56 782.82Z" fill="#8cff10"/>
<path d="M54.43 782.74A209.9 205.18 0 0 0 48.92 792.26L55.62 795.74A202.32 197.77 0 0 1 60.93 786.56Z" fill="#8cff10"/>
<path d="M60.8 786.48A202.47 197.92 0 0 0 55.48 795.67L62.18 799.14A194.89 190.51 0 0 1 67.29 790.3Z" fill="#8cff10"/>
<path d="M67.16 790.22A195.05 190.66 0 0 0 62.04 799.07L68.74 802.55A187.46 183.25 0 0 1 73.66 794.04Z" fill="#8cff10"/>
<path d="M35.95 785.18A224.75 219.7 0 0 0 30.6 795.66L37.47 798.79A217.17 212.29 0 0 1 42.64 788.66Z" fill="#8cff10"/>
<path d="M42.51 788.59A217.33 212.44 0 0 0 37.33 798.73L44.2 801.86A209.75 205.03 0 0 1 49.2 792.08Z" fill="#8cff10"/>
<path d="M49.06 792.01A209.9 205.18 0 0 0 44.06 801.8L50.93 804.93A202.32 197.77 0 0 1 55.75 795.49Z" fill="#8cff10"/>
<path d="M55.61 795.42A202.47 197.92 0 0 0 50.79 804.86L57.66 807.99A194.89 190.51 0 0 1 62.3 798.91Z" fill="#8cff10"/>
<path d="M62.17 798.84A195.05 190.66 0 0 0 57.53 807.93L64.4 811.06A187.46 183.25 0 0 1 68.86 802.32Z" fill="#8cff10"/>
<path d="M30.73 795.38A224.75 219.7 0 0 0 25.95 806.12L32.97 808.9A217.17 212.29 0 0 1 37.6 798.52Z" fill="#4cf820"/>
<path d="M37.46 798.46A217.33 212.44 0 0 0 32.83 808.84L39.86 811.62A209.75 205.03 0 0 1 44.33 801.6Z" fill="#4cf820"/>
<path d="M44.19 801.54A209.9 205.18 0 0 0 39.72 811.56L46.74 814.34A202.32 197.77 0 0 1 51.05 804.68Z" fill="#45dc42"/>
<path d="M50.91 804.61A202.47 197.92 0 0 0 46.6 814.29L53.63 817.06A194.89 190.51 0 0 1 57.78 807.75Z" fill="#45dc42"/>
<path d="M57.64 807.69A195.05 190.66 0 0 0 53.49 817.01L60.51 819.79A187.46 183.25 0 0 1 64.51 810.83Z" fill="#45dc42"/>
<path d="M26.06 805.83A224.75 219.7 0 0 0 21.85 816.8L29.02 819.22A217.17 212.29 0 0 1 33.09 808.62Z" fill="#587478"/>
<path d="M32.94 808.57A217.33 212.44 0 0 0 28.87 819.17L36.04 821.59A209.75 205.03 0 0 1 39.97 811.35Z" fill="#587478"/>
<path d="M39.83 811.3A209.9 205.18 0 0 0 35.89 821.54L43.06 823.96A202.32 197.77 0 0 1 46.85 814.09Z" fill="#4e5282"/>
<path d="M46.71 814.03A202.47 197.92 0 0 0 42.91 823.91L50.08 826.33A194.89 190.51 0 0 1 53.73 816.82Z" fill="#4e5282"/>
<path d="M53.59 816.76A195.05 190.66 0 0 0 49.93 826.28L57.1 828.7A187.46 183.25 0 0 1 60.61 819.55Z" fill="#587478"/>
<path d="M21.96 816.51A224.75 219.7 0 0 0 18.33 827.68L25.62 829.73A217.17 212.29 0 0 1 29.12 818.94Z" fill="#4e5282"/>
<path d="M28.97 818.89A217.33 212.44 0 0 0 25.47 829.69L32.75 831.74A209.75 205.03 0 0 1 36.13 821.32Z" fill="#4e5282"/>
<path d="M35.99 821.27A209.9 205.18 0 0 0 32.61 831.7L39.89 833.75A202.32 197.77 0 0 1 43.15 823.7Z" fill="#3b2d8a"/>
<path d="M43.01 823.65A202.47 197.92 0 0 0 39.74 833.71L47.03 835.76A194.89 190.51 0 0 1 50.17 826.08Z" fill="#4e5282"/>
<path d="M50.02 826.03A195.05 190.66 0 0 0 46.88 835.72L54.16 837.77A187.46 183.25 0 0 1 57.18 828.45Z" fill="#4e5282"/>
<path d="M18.42 827.38A224.75 219.7 0 0 0 15.39 838.71L22.78 840.39A217.17 212.29 0 0 1 25.7 829.44Z" fill="#5a9463"/>
<path d="M25.55 829.4A217.33 212.44 0 0 0 22.63 840.36L30.01 842.04A209.75 205.03 0 0 1 32.83 831.46Z" fill="#5a9463"/>
<path d="M32.69 831.42A209.9 205.18 0 0 0 29.86 842L37.24 843.68A202.32 197.77 0 0 1 39.97 833.48Z" fill="#5a9463"/>
<path d="M39.82 833.44A202.47 197.92 0 0 0 37.09 843.65L44.48 845.33A194.89 190.51 0 0 1 47.1 835.5Z" fill="#5a9463"/>
<path d="M46.95 835.46A195.05 190.66 0 0 0 44.33 845.29L51.71 846.97A187.46 183.25 0 0 1 54.24 837.52Z" fill="#587478"/>
<path d="M15.46 838.42A224.75 219.7 0 0 0 13.05 849.89L20.51 851.19A217.17 212.29 0 0 1 22.85 840.1Z" fill="#5a9463"/>
<path d="M22.7 840.07A217.33 212.44 0 0 0 20.36 851.16L27.82 852.47A209.75 205.03 0 0 1 30.08 841.76Z" fill="#5a9463"/>
<path d="M29.93 841.73A209.9 205.18 0 0 0 27.67 852.44L35.13 853.74A202.32 197.77 0 0 1 37.31 843.41Z" fill="#5a9463"/>
<path d="M37.16 843.38A202.47 197.92 0 0 0 34.98 853.71L42.44 855.02A194.89 190.51 0 0 1 44.54 845.07Z" fill="#587478"/>
<path d="M44.39 845.04A195.05 190.66 0 0 0 42.29 854.99L49.75 856.29A187.46 183.25 0 0 1 51.77 846.72Z" fill="#587478"/>
<path d="M13.1 849.59A224.75 219.7 0 0 0 11.29 861.16L18.81 862.09A217.17 212.29 0 0 1 20.56 850.9Z" fill="#3b2d8a"/>
<path d="M20.41 850.87A217.33 212.44 0 0 0 18.66 862.07L26.18 862.99A209.75 205.03 0 0 1 27.87 852.18Z" fill="#3b2d8a"/>
<path d="M27.72 852.16A209.9 205.18 0 0 0 26.03 862.97L33.55 863.89A202.32 197.77 0 0 1 35.18 853.47Z" fill="#21108c"/>
<path d="M35.03 853.44A202.47 197.92 0 0 0 33.4 863.87L40.92 864.8A194.89 190.51 0 0 1 42.49 854.76Z" fill="#21108c"/>
<path d="M42.34 854.73A195.05 190.66 0 0 0 40.77 864.78L48.29 865.7A187.46 183.25 0 0 1 49.8 856.04Z" fill="#21108c"/>
<path d="M11.33 860.86A224.75 219.7 0 0 0 10.14 872.51L17.7 873.05A217.17 212.29 0 0 1 18.85 861.79Z" fill="#587478"/>
<path d="M18.7 861.77A217.33 212.44 0 0 0 17.55 873.04L25.11 873.58A209.75 205.03 0 0 1 26.22 862.71Z" fill="#587478"/>
<path d="M26.07 862.69A209.9 205.18 0 0 0 24.96 873.57L32.52 874.11A202.32 197.77 0 0 1 33.59 863.62Z" fill="#4e5282"/>
<path d="M33.44 863.6A202.47 197.92 0 0 0 32.36 874.1L39.92 874.64A194.89 190.51 0 0 1 40.96 864.53Z" fill="#4e5282"/>
<path d="M40.8 864.51A195.05 190.66 0 0 0 39.77 874.63L47.33 875.17A187.46 183.25 0 0 1 48.32 865.45Z" fill="#4e5282"/>
<path d="M10.17 872.21A224.75 219.7 0 0 0 9.6 883.91L17.17 884.06A217.17 212.29 0 0 1 17.73 872.76Z" fill="#21108c"/>
<path d="M17.57 872.75A217.33 212.44 0 0 0 17.02 884.06L24.6 884.22A209.75 205.03 0 0 1 25.13 873.3Z" fill="#21108c"/>
<path d="M24.98 873.29A209.9 205.18 0 0 0 24.45 884.21L32.03 884.37A202.32 197.77 0 0 1 32.54 873.83Z" fill="#3b2d8a"/>
<path d="M32.39 873.82A202.47 197.92 0 0 0 31.87 884.36L39.45 884.52A194.89 190.51 0 0 1 39.94 874.37Z" fill="#3b2d8a"/>
<path d="M39.79 874.36A195.05 190.66 0 0 0 39.3 884.52L46.88 884.67A187.46 183.25 0 0 1 47.35 874.91Z" fill="#3b2d8a"/>
<path d="M9.6 883.6A224.75 219.7 0 0 0 9.66 895.31L17.23 895.08A217.17 212.29 0 0 1 17.18 883.77Z" fill="#587478"/>
<path d="M17.03 883.76A217.33 212.44 0 0 0 17.08 895.09L24.66 894.86A209.75 205.03 0 0 1 24.61 883.93Z" fill="#587478"/>
<path d="M24.45 883.93A209.9 205.18 0 0 0 24.5 894.86L32.08 894.63A202.32 197.77 0 0 1 32.03 884.09Z" fill="#587478"/>
<path d="M31.88 884.09A202.47 197.92 0 0 0 31.93 894.64L39.5 894.41A194.89 190.51 0 0 1 39.46 884.25Z" fill="#587478"/>
<path d="M39.3 884.25A195.05 190.66 0 0 0 39.35 894.41L46.93 894.18A187.46 183.25 0 0 1 46.88 884.41Z" fill="#587478"/>
<path d="M9.65 895.01A224.75 219.7 0 0 0 10.32 906.7L17.87 906.09A217.17 212.29 0 0 1 17.22 894.79Z" fill="#21108c"/>
<path d="M17.07 894.79A217.33 212.44 0 0 0 17.72 906.1L25.28 905.49A209.75 205.03 0 0 1 24.65 894.57Z" fill="#21108c"/>
<path d="M24.49 894.58A209.9 205.18 0 0 0 25.12 905.5L32.68 904.89A202.32 197.77 0 0 1 32.07 894.36Z" fill="#21108c"/>
<path d="M31.92 894.36A202.47 197.92 0 0 0 32.52 904.9L40.08 904.28A194.89 190.51 0 0 1 39.49 894.14Z" fill="#21108c"/>
<path d="M39.34 894.15A195.05 190.66 0 0 0 39.93 904.3L47.48 903.68A187.46 183.25 0 0 1 46.92 893.93Z" fill="#21108c"/>
<path d="M10.29 906.4A224.75 219.7 0 0 0 11.59 918.04L19.1 917.04A217.17 212.29 0 0 1 17.85 905.79Z" fill="#3b2d8a"/>
<path d="M17.7 905.81A217.33 212.44 0 0 0 18.95 917.07L26.46 916.07A209.75 205.03 0 0 1 25.25 905.2Z" fill="#21108c"/>
<path d="M25.1 905.21A209.9 205.18 0 0 0 26.31 916.09L33.82 915.09A202.32 197.77 0 0 1 32.65 904.61Z" fill="#21108c"/>
<path d="M32.5 904.62A202.47 197.92 0 0 0 33.67 915.11L41.18 914.12A194.89 190.51 0 0 1 40.06 904.02Z" fill="#21108c"/>
<path d="M39.9 904.03A195.05 190.66 0 0 0 41.03 914.14L48.54 913.14A187.46 183.25 0 0 1 47.46 903.43Z" fill="#21108c"/>
<path d="M11.55 917.74A224.75 219.7 0 0 0 13.46 929.3L20.91 927.92A217.17 212.29 0 0 1 19.06 916.75Z" fill="#4e5282"/>
<path d="M18.91 916.77A217.33 212.44 0 0 0 20.75 927.95L28.2 926.58A209.75 205.03 0 0 1 26.42 915.79Z" fill="#4e5282"/>
<path d="M26.27 915.8A209.9 205.18 0 0 0 28.05 926.6L35.5 925.23A202.32 197.77 0 0 1 33.78 914.82Z" fill="#587478"/>
<path d="M33.63 914.84A202.47 197.92 0 0 0 35.35 925.26L42.8 923.88A194.89 190.51 0 0 1 41.14 913.85Z" fill="#5a9463"/>
<path d="M40.99 913.87A195.05 190.66 0 0 0 42.65 923.91L50.1 922.53A187.46 183.25 0 0 1 48.5 912.89Z" fill="#587478"/>
<path d="M13.4 929A224.75 219.7 0 0 0 15.92 940.45L23.29 938.7A217.17 212.29 0 0 1 20.85 927.63Z" fill="#4e5282"/>
<path d="M20.7 927.66A217.33 212.44 0 0 0 23.14 938.73L30.5 936.98A209.75 205.03 0 0 1 28.15 926.29Z" fill="#3b2d8a"/>
<path d="M28 926.32A209.9 205.18 0 0 0 30.35 937.02L37.72 935.26A202.32 197.77 0 0 1 35.45 924.96Z" fill="#3b2d8a"/>
<path d="M35.3 924.98A202.47 197.92 0 0 0 37.57 935.3L44.93 933.55A194.89 190.51 0 0 1 42.75 923.62Z" fill="#3b2d8a"/>
<path d="M42.6 923.65A195.05 190.66 0 0 0 44.79 933.58L52.15 931.83A187.46 183.25 0 0 1 50.05 922.28Z" fill="#3b2d8a"/>
<path d="M15.85 940.15A224.75 219.7 0 0 0 18.97 951.46L26.24 949.34A217.17 212.29 0 0 1 23.21 938.41Z" fill="#4e5282"/>
<path d="M23.07 938.44A217.33 212.44 0 0 0 26.09 949.38L33.35 947.25A209.75 205.03 0 0 1 30.43 936.7Z" fill="#3b2d8a"/>
<path d="M30.28 936.74A209.9 205.18 0 0 0 33.2 947.3L40.47 945.17A202.32 197.77 0 0 1 37.65 935Z" fill="#3b2d8a"/>
<path d="M37.5 935.03A202.47 197.92 0 0 0 40.32 945.22L47.58 943.09A194.89 190.51 0 0 1 44.87 933.29Z" fill="#3b2d8a"/>
<path d="M44.72 933.32A195.05 190.66 0 0 0 47.43 943.14L54.7 941.01A187.46 183.25 0 0 1 52.09 931.58Z" fill="#3b2d8a"/>
<path d="M18.88 951.16A224.75 219.7 0 0 0 22.61 962.3L29.75 959.81A217.17 212.29 0 0 1 26.15 949.05Z" fill="#3b2d8a"/>
<path d="M26 949.09A217.33 212.44 0 0 0 29.6 959.86L36.74 957.37A209.75 205.03 0 0 1 33.27 946.98Z" fill="#3b2d8a"/>
<path d="M33.12 947.02A209.9 205.18 0 0 0 36.6 957.42L43.74 954.93A202.32 197.77 0 0 1 40.39 944.91Z" fill="#4e5282"/>
<path d="M40.24 944.95A202.47 197.92 0 0 0 43.59 954.98L50.73 952.49A194.89 190.51 0 0 1 47.5 942.84Z" fill="#4e5282"/>
<path d="M47.36 942.88A195.05 190.66 0 0 0 50.59 952.54L57.73 950.05A187.46 183.25 0 0 1 54.62 940.77Z" fill="#4e5282"/>
<path d="M22.5 962.01A224.75 219.7 0 0 0 26.81 972.94L33.81 970.09A217.17 212.29 0 0 1 29.64 959.53Z" fill="#8cff10"/>
<path d="M29.5 959.58A217.33 212.44 0 0 0 33.67 970.15L40.66 967.3A209.75 205.03 0 0 1 36.64 957.1Z" fill="#8cff10"/>
<path d="M36.5 957.15A209.9 205.18 0 0 0 40.52 967.36L47.52 964.51A202.32 197.77 0 0 1 43.64 954.67Z" fill="#4cf820"/>
<path d="M43.5 954.72A202.47 197.92 0 0 0 47.38 964.57L54.38 961.72A194.89 190.51 0 0 1 50.64 952.24Z" fill="#4cf820"/>
<path d="M50.5 952.29A195.05 190.66 0 0 0 54.24 961.78L61.23 958.93A187.46 183.25 0 0 1 57.64 949.81Z" fill="#4cf820"/>
<path d="M26.69 972.66A224.75 219.7 0 0 0 31.57 983.35L38.41 980.15A217.17 212.29 0 0 1 33.69 969.82Z" fill="#45dc42"/>
<path d="M33.55 969.87A217.33 212.44 0 0 0 38.27 980.22L45.11 977.02A209.75 205.03 0 0 1 40.55 967.04Z" fill="#55b058"/>
<path d="M40.41 967.09A209.9 205.18 0 0 0 44.97 977.08L51.81 973.88A202.32 197.77 0 0 1 47.41 964.26Z" fill="#55b058"/>
<path d="M47.27 964.31A202.47 197.92 0 0 0 51.67 973.95L58.51 970.75A194.89 190.51 0 0 1 54.27 961.47Z" fill="#55b058"/>
<path d="M54.13 961.53A195.05 190.66 0 0 0 58.37 970.81L65.21 967.61A187.46 183.25 0 0 1 61.13 958.69Z" fill="#55b058"/>
<path d="M31.44 983.07A224.75 219.7 0 0 0 36.88 993.51L43.54 989.97A217.17 212.29 0 0 1 38.28 979.88Z" fill="#c4ff10"/>
<path d="M38.14 979.95A217.33 212.44 0 0 0 43.41 990.04L50.06 986.5A209.75 205.03 0 0 1 44.98 976.76Z" fill="#c4ff10"/>
<path d="M44.84 976.82A209.9 205.18 0 0 0 49.93 986.57L56.59 983.03A202.32 197.77 0 0 1 51.69 973.63Z" fill="#8cff10"/>
<path d="M51.55 973.7A202.47 197.92 0 0 0 56.45 983.1L63.11 979.56A194.89 190.51 0 0 1 58.39 970.51Z" fill="#8cff10"/>
<path d="M58.25 970.57A195.05 190.66 0 0 0 62.98 979.63L69.63 976.09A187.46 183.25 0 0 1 65.09 967.38Z" fill="#8cff10"/>
<path d="M36.73 993.24A224.75 219.7 0 0 0 42.72 1003.38L49.18 999.51A217.17 212.29 0 0 1 43.4 989.71Z" fill="#5a9463"/>
<path d="M43.26 989.78A217.33 212.44 0 0 0 49.05 999.59L55.52 995.71A209.75 205.03 0 0 1 49.92 986.25Z" fill="#5a9463"/>
<path d="M49.79 986.32A209.9 205.18 0 0 0 55.38 995.79L61.85 991.92A202.32 197.77 0 0 1 56.45 982.78Z" fill="#587478"/>
<path d="M56.32 982.86A202.47 197.92 0 0 0 61.71 991.99L68.18 988.12A194.89 190.51 0 0 1 62.98 979.32Z" fill="#587478"/>
<path d="M62.85 979.39A195.05 190.66 0 0 0 68.05 988.2L74.51 984.32A187.46 183.25 0 0 1 69.51 975.86Z" fill="#4e5282"/>
<path d="M42.56 1003.12A224.75 219.7 0 0 0 49.08 1012.95L55.33 1008.75A217.17 212.29 0 0 1 49.03 999.26Z" fill="#4e5282"/>
<path d="M48.9 999.33A217.33 212.44 0 0 0 55.2 1008.83L61.45 1004.64A209.75 205.03 0 0 1 55.36 995.47Z" fill="#3b2d8a"/>
<path d="M55.23 995.55A209.9 205.18 0 0 0 61.32 1004.72L67.57 1000.53A202.32 197.77 0 0 1 61.7 991.68Z" fill="#3b2d8a"/>
<path d="M61.57 991.76A202.47 197.92 0 0 0 67.44 1000.61L73.69 996.41A194.89 190.51 0 0 1 68.03 987.89Z" fill="#3b2d8a"/>
<path d="M67.9 987.97A195.05 190.66 0 0 0 73.56 996.5L79.81 992.3A187.46 183.25 0 0 1 74.37 984.1Z" fill="#3b2d8a"/>
<path d="M48.9 1012.69A224.75 219.7 0 0 0 55.94 1022.18L61.95 1017.67A217.17 212.29 0 0 1 55.16 1008.51Z" fill="#4e5282"/>
<path d="M55.03 1008.59A217.33 212.44 0 0 0 61.83 1017.76L67.85 1013.25A209.75 205.03 0 0 1 61.28 1004.4Z" fill="#3b2d8a"/>
<path d="M61.16 1004.49A209.9 205.18 0 0 0 67.73 1013.34L73.74 1008.83A202.32 197.77 0 0 1 67.41 1000.3Z" fill="#3b2d8a"/>
<path d="M67.28 1000.38A202.47 197.92 0 0 0 73.62 1008.92L79.64 1004.42A194.89 190.51 0 0 1 73.54 996.19Z" fill="#4e5282"/>
<path d="M73.41 996.28A195.05 190.66 0 0 0 79.51 1004.51L85.53 1000A187.46 183.25 0 0 1 79.66 992.09Z" fill="#4e5282"/>
<path d="M55.75 1021.93A224.75 219.7 0 0 0 63.28 1031.05L69.04 1026.24A217.17 212.29 0 0 1 61.77 1017.43Z" fill="#4e5282"/>
<path d="M61.65 1017.52A217.33 212.44 0 0 0 68.93 1026.33L74.7 1021.53A209.75 205.03 0 0 1 67.67 1013.02Z" fill="#4e5282"/>
<path d="M67.55 1013.11A209.9 205.18 0 0 0 74.58 1021.62L80.35 1016.82A202.32 197.77 0 0 1 73.57 1008.61Z" fill="#4e5282"/>
<path d="M73.45 1008.7A202.47 197.92 0 0 0 80.23 1016.91L86 1012.11A194.89 190.51 0 0 1 79.47 1004.2Z" fill="#4e5282"/>
<path d="M79.35 1004.3A195.05 190.66 0 0 0 85.88 1012.2L91.65 1007.4A187.46 183.25 0 0 1 85.37 999.8Z" fill="#4e5282"/>
<path d="M63.07 1030.81A224.75 219.7 0 0 0 71.07 1039.53L76.58 1034.44A217.17 212.29 0 0 1 68.85 1026.01Z" fill="#4cf820"/>
<path d="M68.73 1026.11A217.33 212.44 0 0 0 76.47 1034.54L81.97 1029.45A209.75 205.03 0 0 1 74.51 1021.31Z" fill="#45dc42"/>
<path d="M74.39 1021.41A209.9 205.18 0 0 0 81.86 1029.55L87.37 1024.45A202.32 197.77 0 0 1 80.16 1016.61Z" fill="#55b058"/>
<path d="M80.05 1016.7A202.47 197.92 0 0 0 87.26 1024.56L92.76 1019.46A194.89 190.51 0 0 1 85.82 1011.9Z" fill="#55b058"/>
<path d="M85.7 1012A195.05 190.66 0 0 0 92.65 1019.57L98.15 1014.47A187.46 183.25 0 0 1 91.48 1007.2Z" fill="#45dc42"/>
<path d="M70.86 1039.31A224.75 219.7 0 0 0 79.31 1047.61L84.54 1042.24A217.17 212.29 0 0 1 76.37 1034.22Z" fill="#21108c"/>
<path d="M76.26 1034.32A217.33 212.44 0 0 0 84.43 1042.35L89.66 1036.98A209.75 205.03 0 0 1 81.77 1029.24Z" fill="#21108c"/>
<path d="M81.66 1029.34A209.9 205.18 0 0 0 89.56 1037.09L94.78 1031.73A202.32 197.77 0 0 1 87.17 1024.25Z" fill="#3b2d8a"/>
<path d="M87.06 1024.36A202.47 197.92 0 0 0 94.68 1031.83L99.91 1026.47A194.89 190.51 0 0 1 92.57 1019.27Z" fill="#21108c"/>
<path d="M92.46 1019.37A195.05 190.66 0 0 0 99.8 1026.58L105.03 1021.21A187.46 183.25 0 0 1 97.97 1014.29Z" fill="#21108c"/>
<path d="M79.09 1047.4A224.75 219.7 0 0 0 87.97 1055.26L92.9 1049.63A217.17 212.29 0 0 1 84.32 1042.04Z" fill="#587478"/>
<path d="M84.21 1042.14A217.33 212.44 0 0 0 92.8 1049.75L97.74 1044.12A209.75 205.03 0 0 1 89.45 1036.79Z" fill="#21108c"/>
<path d="M89.34 1036.89A209.9 205.18 0 0 0 97.64 1044.23L102.58 1038.61A202.32 197.77 0 0 1 94.58 1031.53Z" fill="#3b2d8a"/>
<path d="M94.47 1031.64A202.47 197.92 0 0 0 102.48 1038.72L107.41 1033.1A194.89 190.51 0 0 1 99.71 1026.28Z" fill="#4e5282"/>
<path d="M99.6 1026.39A195.05 190.66 0 0 0 107.31 1033.21L112.25 1027.59A187.46 183.25 0 0 1 104.84 1021.03Z" fill="#4e5282"/>
<path d="M87.73 1055.06A224.75 219.7 0 0 0 97.02 1062.45L101.65 1056.59A217.17 212.29 0 0 1 92.67 1049.44Z" fill="#21108c"/>
<path d="M92.57 1049.55A217.33 212.44 0 0 0 101.56 1056.71L106.19 1050.84A209.75 205.03 0 0 1 97.52 1043.93Z" fill="#3b2d8a"/>
<path d="M97.42 1044.05A209.9 205.18 0 0 0 106.09 1050.96L110.72 1045.09A202.32 197.77 0 0 1 102.36 1038.43Z" fill="#21108c"/>
<path d="M102.26 1038.54A202.47 197.92 0 0 0 110.63 1045.21L115.26 1039.34A194.89 190.51 0 0 1 107.2 1032.93Z" fill="#21108c"/>
<path d="M107.1 1033.04A195.05 190.66 0 0 0 115.17 1039.46L119.8 1033.59A187.46 183.25 0 0 1 112.05 1027.42Z" fill="#21108c"/>
<path d="M96.77 1062.27A224.75 219.7 0 0 0 106.44 1069.19L110.75 1063.09A217.17 212.29 0 0 1 101.41 1056.41Z" fill="#587478"/>
<path d="M101.32 1056.53A217.33 212.44 0 0 0 110.67 1063.21L114.98 1057.12A209.75 205.03 0 0 1 105.96 1050.66Z" fill="#3b2d8a"/>
<path d="M105.86 1050.78A209.9 205.18 0 0 0 114.89 1057.24L119.2 1051.15A202.32 197.77 0 0 1 110.5 1044.92Z" fill="#21108c"/>
<path d="M110.41 1045.04A202.47 197.92 0 0 0 119.12 1051.27L123.43 1045.18A194.89 190.51 0 0 1 115.04 1039.18Z" fill="#21108c"/>
<path d="M114.95 1039.3A195.05 190.66 0 0 0 123.34 1045.3L127.65 1039.21A187.46 183.25 0 0 1 119.59 1033.44Z" fill="#21108c"/>
<path d="M106.18 1069.01A224.75 219.7 0 0 0 116.21 1075.43L120.19 1069.12A217.17 212.29 0 0 1 110.5 1062.92Z" fill="#3b2d8a"/>
<path d="M110.42 1063.05A217.33 212.44 0 0 0 120.11 1069.25L124.09 1062.95A209.75 205.03 0 0 1 114.74 1056.96Z" fill="#3b2d8a"/>
<path d="M114.65 1057.08A209.9 205.18 0 0 0 124.01 1063.07L127.99 1056.77A202.32 197.77 0 0 1 118.97 1050.99Z" fill="#21108c"/>
<path d="M118.88 1051.12A202.47 197.92 0 0 0 127.91 1056.9L131.9 1050.59A194.89 190.51 0 0 1 123.21 1045.03Z" fill="#21108c"/>
<path d="M123.12 1045.15A195.05 190.66 0 0 0 131.82 1050.72L135.8 1044.42A187.46 183.25 0 0 1 127.44 1039.06Z" fill="#21108c"/>
<path d="M115.94 1075.27A224.75 219.7 0 0 0 126.29 1081.17L129.93 1074.67A217.17 212.29 0 0 1 119.93 1068.97Z" fill="#3b2d8a"/>
<path d="M119.85 1069.1A217.33 212.44 0 0 0 129.86 1074.8L133.5 1068.3A209.75 205.03 0 0 1 123.84 1062.8Z" fill="#3b2d8a"/>
<path d="M123.76 1062.92A209.9 205.18 0 0 0 133.43 1068.43L137.07 1061.94A202.32 197.77 0 0 1 127.75 1056.62Z" fill="#21108c"/>
<path d="M127.67 1056.75A202.47 197.92 0 0 0 137 1062.07L140.64 1055.57A194.89 190.51 0 0 1 131.67 1050.45Z" fill="#21108c"/>
<path d="M131.58 1050.58A195.05 190.66 0 0 0 140.57 1055.7L144.21 1049.2A187.46 183.25 0 0 1 135.58 1044.28Z" fill="#3b2d8a"/>
<path d="M126.02 1081.02A224.75 219.7 0 0 0 136.67 1086.39L139.96 1079.71A217.17 212.29 0 0 1 129.67 1074.53Z" fill="#3b2d8a"/>
<path d="M129.59 1074.66A217.33 212.44 0 0 0 139.89 1079.85L143.19 1073.17A209.75 205.03 0 0 1 133.25 1068.16Z" fill="#3b2d8a"/>
<path d="M133.17 1068.3A209.9 205.18 0 0 0 143.12 1073.31L146.41 1066.63A202.32 197.77 0 0 1 136.82 1061.8Z" fill="#3b2d8a"/>
<path d="M136.75 1061.93A202.47 197.92 0 0 0 146.34 1066.77L149.64 1060.1A194.89 190.51 0 0 1 140.4 1055.44Z" fill="#21108c"/>
<path d="M140.33 1055.57A195.05 190.66 0 0 0 149.57 1060.23L152.86 1053.56A187.46 183.25 0 0 1 143.98 1049.08Z" fill="#3b2d8a"/>
<path d="M136.38 1086.25A224.75 219.7 0 0 0 147.3 1091.07L150.24 1084.24A217.17 212.29 0 0 1 139.69 1079.58Z" fill="#5a9463"/>
<path d="M139.62 1079.72A217.33 212.44 0 0 0 150.18 1084.38L153.11 1077.55A209.75 205.03 0 0 1 142.92 1073.05Z" fill="#587478"/>
<path d="M142.85 1073.18A209.9 205.18 0 0 0 153.05 1077.69L155.99 1070.85A202.32 197.77 0 0 1 146.16 1066.51Z" fill="#587478"/>
<path d="M146.09 1066.65A202.47 197.92 0 0 0 155.93 1070.99L158.86 1064.16A194.89 190.51 0 0 1 149.39 1059.98Z" fill="#587478"/>
<path d="M149.33 1060.11A195.05 190.66 0 0 0 158.8 1064.3L161.74 1057.47A187.46 183.25 0 0 1 152.63 1053.45Z" fill="#587478"/>
<path d="M147.01 1090.96A224.75 219.7 0 0 0 158.18 1095.21L160.74 1088.24A217.17 212.29 0 0 1 149.96 1084.13Z" fill="#c4ff10"/>
<path d="M149.9 1084.27A217.33 212.44 0 0 0 160.69 1088.38L163.26 1081.41A209.75 205.03 0 0 1 152.84 1077.44Z" fill="#f4f410"/>
<path d="M152.78 1077.57A209.9 205.18 0 0 0 163.21 1081.55L165.78 1074.58A202.32 197.77 0 0 1 155.73 1070.75Z" fill="#f4f410"/>
<path d="M155.67 1070.88A202.47 197.92 0 0 0 165.72 1074.72L168.29 1067.75A194.89 190.51 0 0 1 158.61 1064.06Z" fill="#f4f410"/>
<path d="M158.55 1064.19A195.05 190.66 0 0 0 168.24 1067.89L170.81 1060.92A187.46 183.25 0 0 1 161.5 1057.37Z" fill="#f4f410"/>
<path d="M157.88 1095.11A224.75 219.7 0 0 0 169.25 1098.8L171.45 1091.71A217.17 212.29 0 0 1 160.46 1088.14Z" fill="#3b2d8a"/>
<path d="M160.41 1088.28A217.33 212.44 0 0 0 171.4 1091.85L173.6 1084.76A209.75 205.03 0 0 1 162.98 1081.31Z" fill="#3b2d8a"/>
<path d="M162.93 1081.46A209.9 205.18 0 0 0 173.55 1084.9L175.75 1077.81A202.32 197.77 0 0 1 165.51 1074.49Z" fill="#21108c"/>
<path d="M165.46 1074.63A202.47 197.92 0 0 0 175.7 1077.95L177.9 1070.86A194.89 190.51 0 0 1 168.03 1067.66Z" fill="#21108c"/>
<path d="M167.98 1067.8A195.05 190.66 0 0 0 177.85 1071L180.05 1063.91A187.46 183.25 0 0 1 170.56 1060.83Z" fill="#21108c"/>
<path d="M168.95 1098.71A224.75 219.7 0 0 0 180.51 1101.81L182.32 1094.62A217.17 212.29 0 0 1 171.16 1091.62Z" fill="#4cf820"/>
<path d="M171.11 1091.76A217.33 212.44 0 0 0 182.29 1094.77L184.1 1087.57A209.75 205.03 0 0 1 173.32 1084.67Z" fill="#4cf820"/>
<path d="M173.27 1084.82A209.9 205.18 0 0 0 184.06 1087.72L185.88 1080.52A202.32 197.77 0 0 1 175.48 1077.73Z" fill="#45dc42"/>
<path d="M175.43 1077.87A202.47 197.92 0 0 0 185.84 1080.67L187.65 1073.47A194.89 190.51 0 0 1 177.64 1070.78Z" fill="#45dc42"/>
<path d="M177.59 1070.92A195.05 190.66 0 0 0 187.62 1073.62L189.43 1066.42A187.46 183.25 0 0 1 179.8 1063.83Z" fill="#4cf820"/>
<path d="M180.2 1101.74A224.75 219.7 0 0 0 191.91 1104.26L193.34 1096.98A217.17 212.29 0 0 1 182.03 1094.55Z" fill="#ffc810"/>
<path d="M181.99 1094.69A217.33 212.44 0 0 0 193.31 1097.13L194.74 1089.85A209.75 205.03 0 0 1 183.82 1087.5Z" fill="#ffc810"/>
<path d="M183.78 1087.65A209.9 205.18 0 0 0 194.71 1090L196.14 1082.72A202.32 197.77 0 0 1 185.6 1080.46Z" fill="#ffc810"/>
<path d="M185.57 1080.6A202.47 197.92 0 0 0 196.11 1082.87L197.54 1075.59A194.89 190.51 0 0 1 187.39 1073.41Z" fill="#ffc810"/>
<path d="M187.35 1073.55A195.05 190.66 0 0 0 197.51 1075.74L198.94 1068.46A187.46 183.25 0 0 1 189.18 1066.36Z" fill="#ffc810"/>
<path d="M191.6 1104.2A224.75 219.7 0 0 0 203.42 1106.12L204.46 1098.78A217.17 212.29 0 0 1 193.04 1096.92Z" fill="#45dc42"/>
<path d="M193.01 1097.07A217.33 212.44 0 0 0 204.44 1098.93L205.48 1091.59A209.75 205.03 0 0 1 194.45 1089.8Z" fill="#45dc42"/>
<path d="M194.42 1089.94A209.9 205.18 0 0 0 205.46 1091.73L206.5 1084.39A202.32 197.77 0 0 1 195.86 1082.67Z" fill="#45dc42"/>
<path d="M195.83 1082.81A202.47 197.92 0 0 0 206.48 1084.54L207.52 1077.2A194.89 190.51 0 0 1 197.27 1075.54Z" fill="#45dc42"/>
<path d="M197.24 1075.69A195.05 190.66 0 0 0 207.5 1077.35L208.54 1070.01A187.46 183.25 0 0 1 198.68 1068.41Z" fill="#45dc42"/>
<path d="M203.11 1106.07A224.75 219.7 0 0 0 215.01 1107.39L215.66 1100.01A217.17 212.29 0 0 1 204.16 1098.74Z" fill="#3b2d8a"/>
<path d="M204.14 1098.88A217.33 212.44 0 0 0 215.65 1100.16L216.3 1092.77A209.75 205.03 0 0 1 205.19 1091.55Z" fill="#3b2d8a"/>
<path d="M205.17 1091.69A209.9 205.18 0 0 0 216.29 1092.92L216.94 1085.54A202.32 197.77 0 0 1 206.22 1084.36Z" fill="#3b2d8a"/>
<path d="M206.2 1084.5A202.47 197.92 0 0 0 216.93 1085.69L217.58 1078.31A194.89 190.51 0 0 1 207.25 1077.17Z" fill="#21108c"/>
<path d="M207.23 1077.31A195.05 190.66 0 0 0 217.56 1078.46L218.21 1071.07A187.46 183.25 0 0 1 208.28 1069.98Z" fill="#3b2d8a"/>
<path d="M214.7 1107.36A224.75 219.7 0 0 0 226.66 1108.07L226.92 1100.67A217.17 212.29 0 0 1 215.36 1099.98Z" fill="#4cf820"/>
<path d="M215.35 1100.13A217.33 212.44 0 0 0 226.91 1100.82L227.17 1093.41A209.75 205.03 0 0 1 216.01 1092.75Z" fill="#45dc42"/>
<path d="M216 1092.9A209.9 205.18 0 0 0 227.17 1093.56L227.42 1086.16A202.32 197.77 0 0 1 216.66 1085.52Z" fill="#45dc42"/>
<path d="M216.64 1085.67A202.47 197.92 0 0 0 227.42 1086.31L227.68 1078.9A194.89 190.51 0 0 1 217.31 1078.28Z" fill="#45dc42"/>
<path d="M217.29 1078.43A195.05 190.66 0 0 0 227.67 1079.05L227.93 1071.64A187.46 183.25 0 0 1 217.95 1071.05Z" fill="#45dc42"/>
<path d="M226.35 1108.06A224.75 219.7 0 0 0 238.33 1108.16L238.19 1100.76A217.17 212.29 0 0 1 226.62 1100.66Z" fill="#8cff10"/>
<path d="M226.61 1100.81A217.33 212.44 0 0 0 238.2 1100.91L238.06 1093.5A209.75 205.03 0 0 1 226.88 1093.4Z" fill="#4cf820"/>
<path d="M226.87 1093.55A209.9 205.18 0 0 0 238.06 1093.65L237.93 1086.24A202.32 197.77 0 0 1 227.14 1086.15Z" fill="#4cf820"/>
<path d="M227.14 1086.3A202.47 197.92 0 0 0 237.93 1086.39L237.79 1078.98A194.89 190.51 0 0 1 227.4 1078.89Z" fill="#4cf820"/>
<path d="M227.4 1079.04A195.05 190.66 0 0 0 237.8 1079.13L237.66 1071.72A187.46 183.25 0 0 1 227.67 1071.64Z" fill="#4cf820"/>
<path d="M238.02 1108.17A224.75 219.7 0 0 0 249.99 1107.66L249.46 1100.27A217.17 212.29 0 0 1 237.89 1100.76Z" fill="#45dc42"/>
<path d="M237.89 1100.91A217.33 212.44 0 0 0 249.47 1100.42L248.94 1093.03A209.75 205.03 0 0 1 237.77 1093.5Z" fill="#45dc42"/>
<path d="M237.77 1093.65A209.9 205.18 0 0 0 248.95 1093.18L248.42 1085.79A202.32 197.77 0 0 1 237.65 1086.24Z" fill="#45dc42"/>
<path d="M237.65 1086.39A202.47 197.92 0 0 0 248.43 1085.94L247.9 1078.55A194.89 190.51 0 0 1 237.52 1078.98Z" fill="#55b058"/>
<path d="M237.53 1079.13A195.05 190.66 0 0 0 247.91 1078.69L247.39 1071.3A187.46 183.25 0 0 1 237.4 1071.72Z" fill="#55b058"/>
<path d="M249.67 1107.69A224.75 219.7 0 0 0 261.6 1106.57L260.68 1099.22A217.17 212.29 0 0 1 249.16 1100.29Z" fill="#55b058"/>
<path d="M249.17 1100.44A217.33 212.44 0 0 0 260.7 1099.37L259.78 1092.01A209.75 205.03 0 0 1 248.65 1093.05Z" fill="#55b058"/>
<path d="M248.66 1093.2A209.9 205.18 0 0 0 259.8 1092.16L258.88 1084.81A202.32 197.77 0 0 1 248.14 1085.81Z" fill="#5a9463"/>
<path d="M248.15 1085.96A202.47 197.92 0 0 0 258.9 1084.95L257.98 1077.6A194.89 190.51 0 0 1 247.63 1078.56Z" fill="#5a9463"/>
<path d="M247.64 1078.71A195.05 190.66 0 0 0 257.99 1077.75L257.07 1070.39A187.46 183.25 0 0 1 247.12 1071.32Z" fill="#5a9463"/>
<path d="M261.29 1106.61A224.75 219.7 0 0 0 273.14 1104.89L271.83 1097.6A217.17 212.29 0 0 1 260.38 1099.25Z" fill="#55b058"/>
<path d="M260.4 1099.4A217.33 212.44 0 0 0 271.86 1097.74L270.55 1090.44A209.75 205.03 0 0 1 259.49 1092.05Z" fill="#55b058"/>
<path d="M259.51 1092.2A209.9 205.18 0 0 0 270.58 1090.59L269.27 1083.29A202.32 197.77 0 0 1 258.6 1084.84Z" fill="#55b058"/>
<path d="M258.62 1084.99A202.47 197.92 0 0 0 269.29 1083.44L267.98 1076.14A194.89 190.51 0 0 1 257.71 1077.63Z" fill="#5a9463"/>
<path d="M257.72 1077.78A195.05 190.66 0 0 0 268.01 1076.29L266.7 1068.99A187.46 183.25 0 0 1 256.81 1070.42Z" fill="#5a9463"/>
<path d="M272.84 1104.95A224.75 219.7 0 0 0 284.58 1102.63L282.89 1095.41A217.17 212.29 0 0 1 271.54 1097.65Z" fill="#4cf820"/>
<path d="M271.56 1097.79A217.33 212.44 0 0 0 282.92 1095.56L281.22 1088.33A209.75 205.03 0 0 1 270.26 1090.49Z" fill="#4cf820"/>
<path d="M270.29 1090.64A209.9 205.18 0 0 0 281.26 1088.48L279.56 1081.26A202.32 197.77 0 0 1 268.99 1083.34Z" fill="#4cf820"/>
<path d="M269.02 1083.49A202.47 197.92 0 0 0 279.6 1081.4L277.9 1074.18A194.89 190.51 0 0 1 267.72 1076.19Z" fill="#4cf820"/>
<path d="M267.74 1076.34A195.05 190.66 0 0 0 277.94 1074.33L276.24 1067.11A187.46 183.25 0 0 1 266.44 1069.04Z" fill="#45dc42"/>
<path d="M284.28 1102.7A224.75 219.7 0 0 0 295.88 1099.79L293.81 1092.67A217.17 212.29 0 0 1 282.59 1095.48Z" fill="#8cff10"/>
<path d="M282.62 1095.62A217.33 212.44 0 0 0 293.85 1092.81L291.77 1085.68A209.75 205.03 0 0 1 280.94 1088.4Z" fill="#8cff10"/>
<path d="M280.97 1088.54A209.9 205.18 0 0 0 291.81 1085.83L289.74 1078.7A202.32 197.77 0 0 1 279.29 1081.32Z" fill="#8cff10"/>
<path d="M279.32 1081.47A202.47 197.92 0 0 0 289.78 1078.85L287.7 1071.72A194.89 190.51 0 0 1 277.64 1074.24Z" fill="#8cff10"/>
<path d="M277.67 1074.39A195.05 190.66 0 0 0 287.74 1071.86L285.67 1064.74A187.46 183.25 0 0 1 275.98 1067.16Z" fill="#8cff10"/>
<path d="M295.58 1099.88A224.75 219.7 0 0 0 307.02 1096.38L304.57 1089.37A217.17 212.29 0 0 1 293.51 1092.75Z" fill="#4e5282"/>
<path d="M293.56 1092.89A217.33 212.44 0 0 0 304.61 1089.51L302.16 1082.5A209.75 205.03 0 0 1 291.49 1085.76Z" fill="#3b2d8a"/>
<path d="M291.53 1085.91A209.9 205.18 0 0 0 302.21 1082.64L299.76 1075.63A202.32 197.77 0 0 1 289.46 1078.78Z" fill="#21108c"/>
<path d="M289.51 1078.92A202.47 197.92 0 0 0 299.81 1075.77L297.36 1068.76A194.89 190.51 0 0 1 287.44 1071.79Z" fill="#21108c"/>
<path d="M287.48 1071.94A195.05 190.66 0 0 0 297.41 1068.9L294.95 1061.89A187.46 183.25 0 0 1 285.41 1064.81Z" fill="#3b2d8a"/>
<path d="M306.72 1096.48A224.75 219.7 0 0 0 317.96 1092.41L315.14 1085.54A217.17 212.29 0 0 1 304.28 1089.47Z" fill="#587478"/>
<path d="M304.33 1089.61A217.33 212.44 0 0 0 315.19 1085.68L312.37 1078.8A209.75 205.03 0 0 1 301.89 1082.59Z" fill="#4e5282"/>
<path d="M301.93 1082.74A209.9 205.18 0 0 0 312.43 1078.94L309.61 1072.06A202.32 197.77 0 0 1 299.49 1075.72Z" fill="#4e5282"/>
<path d="M299.54 1075.86A202.47 197.92 0 0 0 309.66 1072.2L306.84 1065.32A194.89 190.51 0 0 1 297.1 1068.85Z" fill="#4e5282"/>
<path d="M297.15 1068.99A195.05 190.66 0 0 0 306.9 1065.46L304.08 1058.58A187.46 183.25 0 0 1 294.71 1061.98Z" fill="#4e5282"/>
<path d="M317.67 1092.53A224.75 219.7 0 0 0 328.67 1087.89L325.49 1081.17A217.17 212.29 0 0 1 314.85 1085.65Z" fill="#4e5282"/>
<path d="M314.91 1085.79A217.33 212.44 0 0 0 325.55 1081.31L322.37 1074.58A209.75 205.03 0 0 1 312.1 1078.9Z" fill="#3b2d8a"/>
<path d="M312.16 1079.04A209.9 205.18 0 0 0 322.43 1074.72L319.25 1067.99A202.32 197.77 0 0 1 309.34 1072.16Z" fill="#3b2d8a"/>
<path d="M309.4 1072.3A202.47 197.92 0 0 0 319.32 1068.13L316.13 1061.4A194.89 190.51 0 0 1 306.59 1065.42Z" fill="#3b2d8a"/>
<path d="M306.65 1065.56A195.05 190.66 0 0 0 316.2 1061.54L313.01 1054.81A187.46 183.25 0 0 1 303.83 1058.68Z" fill="#3b2d8a"/>
<path d="M328.39 1088.02A224.75 219.7 0 0 0 339.13 1082.84L335.59 1076.28A217.17 212.29 0 0 1 325.21 1081.29Z" fill="#587478"/>
<path d="M325.28 1081.43A217.33 212.44 0 0 0 335.67 1076.42L332.13 1069.86A209.75 205.03 0 0 1 322.1 1074.7Z" fill="#587478"/>
<path d="M322.17 1074.84A209.9 205.18 0 0 0 332.2 1069.99L328.67 1063.44A202.32 197.77 0 0 1 318.99 1068.11Z" fill="#587478"/>
<path d="M319.06 1068.24A202.47 197.92 0 0 0 328.74 1063.57L325.2 1057.02A194.89 190.51 0 0 1 315.89 1061.51Z" fill="#587478"/>
<path d="M315.95 1061.65A195.05 190.66 0 0 0 325.27 1057.15L321.74 1050.6A187.46 183.25 0 0 1 312.78 1054.92Z" fill="#4e5282"/>
<path d="M338.85 1082.98A224.75 219.7 0 0 0 349.31 1077.26L345.43 1070.89A217.17 212.29 0 0 1 335.33 1076.42Z" fill="#c4ff10"/>
<path d="M335.4 1076.55A217.33 212.44 0 0 0 345.51 1071.02L341.63 1064.65A209.75 205.03 0 0 1 331.87 1069.99Z" fill="#8cff10"/>
<path d="M331.94 1070.13A209.9 205.18 0 0 0 341.71 1064.78L337.83 1058.42A202.32 197.77 0 0 1 328.42 1063.57Z" fill="#8cff10"/>
<path d="M328.49 1063.7A202.47 197.92 0 0 0 337.91 1058.55L334.03 1052.18A194.89 190.51 0 0 1 324.96 1057.14Z" fill="#8cff10"/>
<path d="M325.03 1057.27A195.05 190.66 0 0 0 334.11 1052.31L330.23 1045.94A187.46 183.25 0 0 1 321.51 1050.71Z" fill="#8cff10"/>
<path d="M349.04 1077.41A224.75 219.7 0 0 0 359.17 1071.17L354.96 1065.01A217.17 212.29 0 0 1 345.17 1071.04Z" fill="#4cf820"/>
<path d="M345.25 1071.17A217.33 212.44 0 0 0 355.05 1065.13L350.84 1058.97A209.75 205.03 0 0 1 341.38 1064.8Z" fill="#55b058"/>
<path d="M341.45 1064.93A209.9 205.18 0 0 0 350.92 1059.1L346.71 1052.93A202.32 197.77 0 0 1 337.58 1058.56Z" fill="#55b058"/>
<path d="M337.66 1058.69A202.47 197.92 0 0 0 346.79 1053.06L342.58 1046.9A194.89 190.51 0 0 1 333.79 1052.31Z" fill="#55b058"/>
<path d="M333.87 1052.44A195.05 190.66 0 0 0 342.67 1047.02L338.46 1040.86A187.46 183.25 0 0 1 330 1046.07Z" fill="#55b058"/>
<path d="M358.91 1071.34A224.75 219.7 0 0 0 368.7 1064.59L364.17 1058.65A217.17 212.29 0 0 1 354.71 1065.17Z" fill="#21108c"/>
<path d="M354.8 1065.3A217.33 212.44 0 0 0 364.26 1058.77L359.73 1052.83A209.75 205.03 0 0 1 350.59 1059.13Z" fill="#21108c"/>
<path d="M350.68 1059.25A209.9 205.18 0 0 0 359.82 1052.95L355.29 1047.01A202.32 197.77 0 0 1 346.47 1053.09Z" fill="#3b2d8a"/>
<path d="M346.56 1053.21A202.47 197.92 0 0 0 355.38 1047.13L350.85 1041.19A194.89 190.51 0 0 1 342.36 1047.05Z" fill="#21108c"/>
<path d="M342.44 1047.17A195.05 190.66 0 0 0 350.94 1041.31L346.41 1035.37A187.46 183.25 0 0 1 338.24 1041Z" fill="#21108c"/>
<path d="M368.45 1064.77A224.75 219.7 0 0 0 377.87 1057.53L373.03 1051.83A217.17 212.29 0 0 1 363.93 1058.83Z" fill="#e4ff10"/>
<path d="M364.02 1058.95A217.33 212.44 0 0 0 373.13 1051.95L368.29 1046.24A209.75 205.03 0 0 1 359.5 1053Z" fill="#e4ff10"/>
<path d="M359.59 1053.12A209.9 205.18 0 0 0 368.38 1046.36L363.54 1040.66A202.32 197.77 0 0 1 355.06 1047.18Z" fill="#e4ff10"/>
<path d="M355.15 1047.3A202.47 197.92 0 0 0 363.64 1040.77L358.8 1035.07A194.89 190.51 0 0 1 350.63 1041.35Z" fill="#c4ff10"/>
<path d="M350.72 1041.47A195.05 190.66 0 0 0 358.9 1035.19L354.05 1029.49A187.46 183.25 0 0 1 346.2 1035.53Z" fill="#c4ff10"/>
<path d="M377.63 1057.73A224.75 219.7 0 0 0 386.65 1050.02L381.52 1044.57A217.17 212.29 0 0 1 372.8 1052.02Z" fill="#587478"/>
<path d="M372.89 1052.13A217.33 212.44 0 0 0 381.62 1044.68L376.48 1039.23A209.75 205.03 0 0 1 368.06 1046.43Z" fill="#587478"/>
<path d="M368.16 1046.54A209.9 205.18 0 0 0 376.58 1039.34L371.45 1033.9A202.32 197.77 0 0 1 363.32 1040.83Z" fill="#587478"/>
<path d="M363.42 1040.95A202.47 197.92 0 0 0 371.55 1034.01L366.41 1028.56A194.89 190.51 0 0 1 358.59 1035.24Z" fill="#587478"/>
<path d="M358.69 1035.36A195.05 190.66 0 0 0 366.52 1028.67L361.38 1023.22A187.46 183.25 0 0 1 353.85 1029.65Z" fill="#587478"/>
<path d="M386.42 1050.23A224.75 219.7 0 0 0 395.02 1042.07L389.6 1036.89A217.17 212.29 0 0 1 381.29 1044.77Z" fill="#21108c"/>
<path d="M381.4 1044.88A217.33 212.44 0 0 0 389.71 1037L384.29 1031.82A209.75 205.03 0 0 1 376.27 1039.43Z" fill="#21108c"/>
<path d="M376.37 1039.54A209.9 205.18 0 0 0 384.4 1031.92L378.98 1026.74A202.32 197.77 0 0 1 371.24 1034.08Z" fill="#21108c"/>
<path d="M371.34 1034.19A202.47 197.92 0 0 0 379.09 1026.85L373.67 1021.67A194.89 190.51 0 0 1 366.21 1028.74Z" fill="#21108c"/>
<path d="M366.32 1028.85A195.05 190.66 0 0 0 373.78 1021.77L368.36 1016.59A187.46 183.25 0 0 1 361.18 1023.4Z" fill="#21108c"/>
<path d="M394.8 1042.29A224.75 219.7 0 0 0 402.96 1033.71L397.27 1028.81A217.17 212.29 0 0 1 389.39 1037.1Z" fill="#3b2d8a"/>
<path d="M389.5 1037.21A217.33 212.44 0 0 0 397.39 1028.91L391.7 1024.01A209.75 205.03 0 0 1 384.09 1032.02Z" fill="#21108c"/>
<path d="M384.2 1032.13A209.9 205.18 0 0 0 391.81 1024.11L386.13 1019.22A202.32 197.77 0 0 1 378.78 1026.94Z" fill="#3b2d8a"/>
<path d="M378.89 1027.05A202.47 197.92 0 0 0 386.24 1019.32L380.55 1014.42A194.89 190.51 0 0 1 373.48 1021.86Z" fill="#3b2d8a"/>
<path d="M373.59 1021.96A195.05 190.66 0 0 0 380.67 1014.52L374.98 1009.62A187.46 183.25 0 0 1 368.18 1016.78Z" fill="#3b2d8a"/>
<g fill="none" stroke="#e8e8e8" stroke-opacity="0.75" stroke-width="0.45">
<line x1="367.23" y1="759.07" x2="393.54" y2="733.45"/>
<line x1="360.18" y1="752.5" x2="385.09" y2="725.58"/>
<line x1="352.79" y1="746.3" x2="376.24" y2="718.15"/>
<line x1="345.08" y1="740.48" x2="367" y2="711.18"/>
<line x1="337.07" y1="735.06" x2="357.41" y2="704.69"/>
<line x1="328.78" y1="730.05" x2="347.48" y2="698.69"/>
<line x1="320.24" y1="725.47" x2="337.25" y2="693.2"/>
<line x1="311.47" y1="721.33" x2="326.74" y2="688.24"/>
<line x1="302.49" y1="717.64" x2="315.99" y2="683.82"/>
<line x1="293.33" y1="714.41" x2="305.01" y2="679.96"/>
<line x1="284" y1="711.65" x2="293.84" y2="676.65"/>
<line x1="274.55" y1="709.37" x2="282.51" y2="673.91"/>
<line x1="264.98" y1="707.57" x2="271.06" y2="671.76"/>
<line x1="255.34" y1="706.26" x2="259.5" y2="670.19"/>
<line x1="245.63" y1="705.43" x2="247.87" y2="669.2"/>
<line x1="235.9" y1="705.11" x2="236.21" y2="668.81"/>
<line x1="226.16" y1="705.27" x2="224.55" y2="669.01"/>
<line x1="216.44" y1="705.93" x2="212.9" y2="669.8"/>
<line x1="206.77" y1="707.09" x2="201.32" y2="671.18"/>
<line x1="197.18" y1="708.73" x2="189.83" y2="673.14"/>
<line x1="187.68" y1="710.85" x2="178.45" y2="675.69"/>
<line x1="178.31" y1="713.46" x2="167.23" y2="678.81"/>
<line x1="169.09" y1="716.53" x2="156.19" y2="682.5"/>
<line x1="160.05" y1="720.07" x2="145.35" y2="686.74"/>
<line x1="151.21" y1="724.07" x2="134.76" y2="691.52"/>
<line x1="142.59" y1="728.5" x2="124.44" y2="696.84"/>
<line x1="134.22" y1="733.37" x2="114.41" y2="702.67"/>
<line x1="126.12" y1="738.66" x2="104.7" y2="709"/>
<line x1="118.31" y1="744.35" x2="95.35" y2="715.82"/>
<line x1="110.81" y1="750.43" x2="86.37" y2="723.1"/>
<line x1="103.65" y1="756.88" x2="77.79" y2="730.83"/>
<line x1="96.83" y1="763.69" x2="69.63" y2="738.98"/>
<line x1="90.39" y1="770.83" x2="61.91" y2="747.54"/>
<line x1="84.34" y1="778.29" x2="54.66" y2="756.47"/>
<line x1="78.69" y1="786.04" x2="47.89" y2="765.76"/>
<line x1="73.46" y1="794.08" x2="41.62" y2="775.39"/>
<line x1="68.66" y1="802.36" x2="35.88" y2="785.31"/>
<line x1="64.31" y1="810.88" x2="30.67" y2="795.52"/>
<line x1="60.42" y1="819.61" x2="26" y2="805.98"/>
<line x1="57" y1="828.53" x2="21.9" y2="816.66"/>
<line x1="54.05" y1="837.6" x2="18.38" y2="827.53"/>
<line x1="51.59" y1="846.82" x2="15.43" y2="838.56"/>
<line x1="49.63" y1="856.14" x2="13.07" y2="849.74"/>
<line x1="48.16" y1="865.55" x2="11.31" y2="861.01"/>
<line x1="47.19" y1="875.03" x2="10.15" y2="872.36"/>
<line x1="46.73" y1="884.54" x2="9.6" y2="883.76"/>
<line x1="46.77" y1="894.06" x2="9.65" y2="895.16"/>
<line x1="47.32" y1="903.57" x2="10.31" y2="906.55"/>
<line x1="48.37" y1="913.03" x2="11.57" y2="917.89"/>
<line x1="49.92" y1="922.43" x2="13.43" y2="929.15"/>
<line x1="51.97" y1="931.74" x2="15.88" y2="940.3"/>
<line x1="54.51" y1="940.93" x2="18.93" y2="951.31"/>
<line x1="57.54" y1="949.98" x2="22.55" y2="962.15"/>
<line x1="61.04" y1="958.87" x2="26.75" y2="972.8"/>
<line x1="65.01" y1="967.56" x2="31.5" y2="983.21"/>
<line x1="69.44" y1="976.05" x2="36.81" y2="993.37"/>
<line x1="74.31" y1="984.29" x2="42.64" y2="1003.25"/>
<line x1="79.61" y1="992.28" x2="48.99" y2="1012.82"/>
<line x1="85.33" y1="999.99" x2="55.84" y2="1022.05"/>
<line x1="91.45" y1="1007.4" x2="63.17" y2="1030.93"/>
<line x1="97.95" y1="1014.48" x2="70.97" y2="1039.42"/>
<line x1="104.83" y1="1021.23" x2="79.2" y2="1047.5"/>
<line x1="112.05" y1="1027.62" x2="87.85" y2="1055.16"/>
<line x1="119.6" y1="1033.63" x2="96.9" y2="1062.36"/>
<line x1="127.46" y1="1039.26" x2="106.31" y2="1069.1"/>
<line x1="135.61" y1="1044.48" x2="116.07" y2="1075.35"/>
<line x1="144.02" y1="1049.27" x2="126.15" y2="1081.09"/>
<line x1="152.68" y1="1053.64" x2="136.52" y2="1086.32"/>
<line x1="161.56" y1="1057.55" x2="147.16" y2="1091.01"/>
<line x1="170.63" y1="1061.02" x2="158.03" y2="1095.16"/>
<line x1="179.88" y1="1064.01" x2="169.1" y2="1098.75"/>
<line x1="189.27" y1="1066.54" x2="180.36" y2="1101.78"/>
<line x1="198.78" y1="1068.58" x2="191.75" y2="1104.23"/>
<line x1="208.39" y1="1070.14" x2="203.26" y2="1106.1"/>
<line x1="218.07" y1="1071.21" x2="214.86" y2="1107.38"/>
<line x1="227.79" y1="1071.79" x2="226.51" y2="1108.07"/>
<line x1="237.53" y1="1071.87" x2="238.17" y2="1108.17"/>
<line x1="247.27" y1="1071.46" x2="249.83" y2="1107.67"/>
<line x1="256.96" y1="1070.56" x2="261.45" y2="1106.59"/>
<line x1="266.6" y1="1069.16" x2="272.99" y2="1104.92"/>
<line x1="276.15" y1="1067.28" x2="284.43" y2="1102.67"/>
<line x1="285.58" y1="1064.92" x2="295.73" y2="1099.83"/>
<line x1="294.88" y1="1062.08" x2="306.87" y2="1096.43"/>
<line x1="304.01" y1="1058.77" x2="317.81" y2="1092.47"/>
<line x1="312.96" y1="1055" x2="328.53" y2="1087.96"/>
<line x1="321.69" y1="1050.79" x2="338.99" y2="1082.91"/>
<line x1="330.19" y1="1046.14" x2="349.17" y2="1077.34"/>
<line x1="338.43" y1="1041.06" x2="359.04" y2="1071.25"/>
<line x1="346.39" y1="1035.57" x2="368.58" y2="1064.68"/>
<line x1="354.05" y1="1029.68" x2="377.75" y2="1057.63"/>
<line x1="361.38" y1="1023.42" x2="386.54" y2="1050.12"/>
<line x1="368.38" y1="1016.79" x2="394.91" y2="1042.18"/>
<path d="M396.03 746.59A217.33 212.44 0 1 0 397.29 1029.02"/>
<path d="M390.5 751.44A209.9 205.18 0 1 0 391.72 1024.22"/>
<path d="M384.97 756.29A202.47 197.92 0 1 0 386.15 1019.42"/>
<path d="M379.45 761.14A195.05 190.66 0 1 0 380.58 1014.62"/>
</g>
<text x="400.71" y="746.68" font-size="2.9" text-anchor="end" font-weight="normal" fill="#222" transform="rotate(-52 400.71 746.68)">QB</text>
<text x="395.12" y="751.46" font-size="2.9" text-anchor="end" font-weight="normal" fill="#222" transform="rotate(-52 395.12 751.46)">YS</text>
<text x="389.53" y="756.24" font-size="2.9" text-anchor="end" font-weight="normal" fill="#222" transform="rotate(-52 389.53 756.24)">PBC</text>
<text x="383.93" y="761.02" font-size="2.9" text-anchor="end" font-weight="normal" fill="#222" transform="rotate(-52 383.93 761.02)">PBB</text>
<text x="378.34" y="765.8" font-size="2.9" text-anchor="end" font-weight="normal" fill="#222" transform="rotate(-52 378.34 765.8)">PBA</text>
<text x="369.73" y="763.31" font-size="5.15" fill="#000" text-anchor="end" dominant-baseline="central" transform="rotate(-42.75 369.73 763.31)">K18138</text>
<text x="362.9" y="756.61" font-size="5.15" fill="#000" text-anchor="end" dominant-baseline="central" transform="rotate(-45.72 362.9 756.61)">K15987</text>
<text x="355.72" y="750.26" font-size="5.15" fill="#000" text-anchor="end" dominant-baseline="central" transform="rotate(-48.71 355.72 750.26)">K10440</text>
<text x="348.22" y="744.29" font-size="5.15" fill="#000" text-anchor="end" dominant-baseline="central" transform="rotate(-51.69 348.22 744.29)">K10112</text>
<text x="340.41" y="738.71" font-size="5.15" fill="#000" text-anchor="end" dominant-baseline="central" transform="rotate(-54.69 340.41 738.71)">K09458</text>
<text x="332.31" y="733.52" font-size="5.15" fill="#000" text-anchor="end" dominant-baseline="central" transform="rotate(-57.69 332.31 733.52)">K05366</text>
<text x="323.95" y="728.76" font-size="5.15" fill="#000" text-anchor="end" dominant-baseline="central" transform="rotate(-60.7 323.95 728.76)">K05349</text>
<text x="315.35" y="724.43" font-size="5.15" fill="#000" text-anchor="end" dominant-baseline="central" transform="rotate(-63.71 315.35 724.43)">K04077</text>
<text x="306.53" y="720.54" font-size="5.15" fill="#000" text-anchor="end" dominant-baseline="central" transform="rotate(-66.73 306.53 720.54)">K04043</text>
<text x="297.51" y="717.1" font-size="5.15" fill="#000" text-anchor="end" dominant-baseline="central" transform="rotate(-69.76 297.51 717.1)">K03723</text>
<text x="288.33" y="714.12" font-size="5.15" fill="#000" text-anchor="end" dominant-baseline="central" transform="rotate(-72.79 288.33 714.12)">K03702</text>
<text x="279" y="711.62" font-size="5.15" fill="#000" text-anchor="end" dominant-baseline="central" transform="rotate(-75.82 279 711.62)">K03701</text>
<text x="269.55" y="709.59" font-size="5.15" fill="#000" text-anchor="end" dominant-baseline="central" transform="rotate(-78.86 269.55 709.59)">K03695</text>
<text x="260" y="708.04" font-size="5.15" fill="#000" text-anchor="end" dominant-baseline="central" transform="rotate(-81.9 260 708.04)">K03657</text>
<text x="250.38" y="706.98" font-size="5.15" fill="#000" text-anchor="end" dominant-baseline="central" transform="rotate(-84.94 250.38 706.98)">K03654</text>
<text x="240.72" y="706.41" font-size="5.15" fill="#000" text-anchor="end" dominant-baseline="central" transform="rotate(-87.98 240.72 706.41)">K03555</text>
<text x="231.05" y="706.33" font-size="5.15" fill="#000" text-anchor="end" dominant-baseline="central" transform="rotate(-91.02 231.05 706.33)">K03520</text>
<text x="221.38" y="706.74" font-size="5.15" fill="#000" text-anchor="end" dominant-baseline="central" transform="rotate(-94.07 221.38 706.74)">K03406</text>
<text x="211.75" y="707.64" font-size="5.15" fill="#000" text-anchor="start" dominant-baseline="central" transform="rotate(82.89 211.75 707.64)">K02970</text>
<text x="202.17" y="709.03" font-size="5.15" fill="#000" text-anchor="start" dominant-baseline="central" transform="rotate(79.85 202.17 709.03)">K02346</text>
<text x="192.69" y="710.9" font-size="5.15" fill="#000" text-anchor="start" dominant-baseline="central" transform="rotate(76.81 192.69 710.9)">K02043</text>
<text x="183.31" y="713.25" font-size="5.15" fill="#000" text-anchor="start" dominant-baseline="central" transform="rotate(73.78 183.31 713.25)">K02433</text>
<text x="174.08" y="716.07" font-size="5.15" fill="#000" text-anchor="start" dominant-baseline="central" transform="rotate(70.75 174.08 716.07)">K02337</text>
<text x="165.01" y="719.36" font-size="5.15" fill="#000" text-anchor="start" dominant-baseline="central" transform="rotate(67.72 165.01 719.36)">K02238</text>
<text x="156.12" y="723.1" font-size="5.15" fill="#000" text-anchor="start" dominant-baseline="central" transform="rotate(64.7 156.12 723.1)">K02224</text>
<text x="147.44" y="727.29" font-size="5.15" fill="#000" text-anchor="start" dominant-baseline="central" transform="rotate(61.68 147.44 727.29)">K01999</text>
<text x="139" y="731.92" font-size="5.15" fill="#000" text-anchor="start" dominant-baseline="central" transform="rotate(58.67 139 731.92)">K01998</text>
<text x="130.81" y="736.96" font-size="5.15" fill="#000" text-anchor="start" dominant-baseline="central" transform="rotate(55.67 130.81 736.96)">K01997</text>
<text x="122.91" y="742.42" font-size="5.15" fill="#000" text-anchor="start" dominant-baseline="central" transform="rotate(52.67 122.91 742.42)">K01996</text>
<text x="115.3" y="748.26" font-size="5.15" fill="#000" text-anchor="start" dominant-baseline="central" transform="rotate(49.68 115.3 748.26)">K01995</text>
<text x="108.02" y="754.49" font-size="5.15" fill="#000" text-anchor="start" dominant-baseline="central" transform="rotate(46.7 108.02 754.49)">K01973</text>
<text x="101.07" y="761.08" font-size="5.15" fill="#000" text-anchor="start" dominant-baseline="central" transform="rotate(43.72 101.07 761.08)">K01971</text>
<text x="94.49" y="768.01" font-size="5.15" fill="#000" text-anchor="start" dominant-baseline="central" transform="rotate(40.75 94.49 768.01)">K01955</text>
<text x="88.28" y="775.26" font-size="5.15" fill="#000" text-anchor="start" dominant-baseline="central" transform="rotate(37.79 88.28 775.26)">K01953</text>
<text x="82.46" y="782.83" font-size="5.15" fill="#000" text-anchor="start" dominant-baseline="central" transform="rotate(34.84 82.46 782.83)">K01952</text>
<text x="77.06" y="790.67" font-size="5.15" fill="#000" text-anchor="start" dominant-baseline="central" transform="rotate(31.89 77.06 790.67)">K01951</text>
<text x="72.07" y="798.78" font-size="5.15" fill="#000" text-anchor="start" dominant-baseline="central" transform="rotate(28.94 72.07 798.78)">K01915</text>
<text x="67.53" y="807.13" font-size="5.15" fill="#000" text-anchor="start" dominant-baseline="central" transform="rotate(26.01 67.53 807.13)">K01897</text>
<text x="63.43" y="815.7" font-size="5.15" fill="#000" text-anchor="start" dominant-baseline="central" transform="rotate(23.08 63.43 815.7)">K01885</text>
<text x="59.8" y="824.47" font-size="5.15" fill="#000" text-anchor="start" dominant-baseline="central" transform="rotate(20.15 59.8 824.47)">K01873</text>
<text x="56.63" y="833.41" font-size="5.15" fill="#000" text-anchor="start" dominant-baseline="central" transform="rotate(17.23 56.63 833.41)">K01872</text>
<text x="53.95" y="842.5" font-size="5.15" fill="#000" text-anchor="start" dominant-baseline="central" transform="rotate(14.31 53.95 842.5)">K01870</text>
<text x="51.75" y="851.71" font-size="5.15" fill="#000" text-anchor="start" dominant-baseline="central" transform="rotate(11.4 51.75 851.71)">K01869</text>
<text x="50.04" y="861.02" font-size="5.15" fill="#000" text-anchor="start" dominant-baseline="central" transform="rotate(8.48 50.04 861.02)">K01868</text>
<text x="48.83" y="870.4" font-size="5.15" fill="#000" text-anchor="start" dominant-baseline="central" transform="rotate(5.57 48.83 870.4)">K01784</text>
<text x="48.12" y="879.84" font-size="5.15" fill="#000" text-anchor="start" dominant-baseline="central" transform="rotate(2.66 48.12 879.84)">K01765</text>
<text x="47.91" y="889.29" font-size="5.15" fill="#000" text-anchor="start" dominant-baseline="central" transform="rotate(359.76 47.91 889.29)">K01754</text>
<text x="48.2" y="898.75" font-size="5.15" fill="#000" text-anchor="start" dominant-baseline="central" transform="rotate(356.85 48.2 898.75)">K01739</text>
<text x="49" y="908.18" font-size="5.15" fill="#000" text-anchor="start" dominant-baseline="central" transform="rotate(353.94 49 908.18)">K01733</text>
<text x="50.29" y="917.55" font-size="5.15" fill="#000" text-anchor="start" dominant-baseline="central" transform="rotate(351.03 50.29 917.55)">K01714</text>
<text x="52.08" y="926.85" font-size="5.15" fill="#000" text-anchor="start" dominant-baseline="central" transform="rotate(348.12 52.08 926.85)">K01710</text>
<text x="54.37" y="936.04" font-size="5.15" fill="#000" text-anchor="start" dominant-baseline="central" transform="rotate(345.2 54.37 936.04)">K01703</text>
<text x="57.13" y="945.11" font-size="5.15" fill="#000" text-anchor="start" dominant-baseline="central" transform="rotate(342.28 57.13 945.11)">K01692</text>
<text x="60.38" y="954.02" font-size="5.15" fill="#000" text-anchor="start" dominant-baseline="central" transform="rotate(339.36 60.38 954.02)">K01687</text>
<text x="64.09" y="962.75" font-size="5.15" fill="#000" text-anchor="start" dominant-baseline="central" transform="rotate(336.43 64.09 962.75)">K01681</text>
<text x="68.26" y="971.29" font-size="5.15" fill="#000" text-anchor="start" dominant-baseline="central" transform="rotate(333.5 68.26 971.29)">K01652</text>
<text x="72.88" y="979.6" font-size="5.15" fill="#000" text-anchor="start" dominant-baseline="central" transform="rotate(330.56 72.88 979.6)">K01649</text>
<text x="77.94" y="987.67" font-size="5.15" fill="#000" text-anchor="start" dominant-baseline="central" transform="rotate(327.62 77.94 987.67)">K01647</text>
<text x="83.41" y="995.47" font-size="5.15" fill="#000" text-anchor="start" dominant-baseline="central" transform="rotate(324.67 83.41 995.47)">K01465</text>
<text x="89.29" y="1002.98" font-size="5.15" fill="#000" text-anchor="start" dominant-baseline="central" transform="rotate(321.71 89.29 1002.98)">K01428</text>
<text x="95.57" y="1010.18" font-size="5.15" fill="#000" text-anchor="start" dominant-baseline="central" transform="rotate(318.75 95.57 1010.18)">K01338</text>
<text x="102.21" y="1017.05" font-size="5.15" fill="#000" text-anchor="start" dominant-baseline="central" transform="rotate(315.78 102.21 1017.05)">K01255</text>
<text x="109.22" y="1023.58" font-size="5.15" fill="#000" text-anchor="start" dominant-baseline="central" transform="rotate(312.8 109.22 1023.58)">K01130</text>
<text x="116.56" y="1029.75" font-size="5.15" fill="#000" text-anchor="start" dominant-baseline="central" transform="rotate(309.81 116.56 1029.75)">K01081</text>
<text x="124.22" y="1035.53" font-size="5.15" fill="#000" text-anchor="start" dominant-baseline="central" transform="rotate(306.82 124.22 1035.53)">K01006</text>
<text x="132.17" y="1040.91" font-size="5.15" fill="#000" text-anchor="start" dominant-baseline="central" transform="rotate(303.82 132.17 1040.91)">K00982</text>
<text x="140.4" y="1045.89" font-size="5.15" fill="#000" text-anchor="start" dominant-baseline="central" transform="rotate(300.82 140.4 1045.89)">K00951</text>
<text x="148.88" y="1050.44" font-size="5.15" fill="#000" text-anchor="start" dominant-baseline="central" transform="rotate(297.81 148.88 1050.44)">K00937</text>
<text x="157.6" y="1054.56" font-size="5.15" fill="#000" text-anchor="start" dominant-baseline="central" transform="rotate(294.79 157.6 1054.56)">K00820</text>
<text x="166.52" y="1058.23" font-size="5.15" fill="#000" text-anchor="start" dominant-baseline="central" transform="rotate(291.77 166.52 1058.23)">K00799</text>
<text x="175.62" y="1061.44" font-size="5.15" fill="#000" text-anchor="start" dominant-baseline="central" transform="rotate(288.74 175.62 1061.44)">K00688</text>
<text x="184.88" y="1064.18" font-size="5.15" fill="#000" text-anchor="start" dominant-baseline="central" transform="rotate(285.71 184.88 1064.18)">K00681</text>
<text x="194.28" y="1066.45" font-size="5.15" fill="#000" text-anchor="start" dominant-baseline="central" transform="rotate(282.68 194.28 1066.45)">K00626</text>
<text x="203.78" y="1068.24" font-size="5.15" fill="#000" text-anchor="start" dominant-baseline="central" transform="rotate(279.64 203.78 1068.24)">K00615</text>
<text x="213.36" y="1069.55" font-size="5.15" fill="#000" text-anchor="start" dominant-baseline="central" transform="rotate(276.6 213.36 1069.55)">K00549</text>
<text x="223" y="1070.36" font-size="5.15" fill="#000" text-anchor="start" dominant-baseline="central" transform="rotate(273.55 223 1070.36)">K00548</text>
<text x="232.67" y="1070.69" font-size="5.15" fill="#000" text-anchor="start" dominant-baseline="central" transform="rotate(270.51 232.67 1070.69)">K00525</text>
<text x="242.35" y="1070.53" font-size="5.15" fill="#000" text-anchor="start" dominant-baseline="central" transform="rotate(267.47 242.35 1070.53)">K00384</text>
<text x="252" y="1069.88" font-size="5.15" fill="#000" text-anchor="start" dominant-baseline="central" transform="rotate(264.43 252 1069.88)">K00382</text>
<text x="261.61" y="1068.73" font-size="5.15" fill="#000" text-anchor="start" dominant-baseline="central" transform="rotate(261.38 261.61 1068.73)">K00265</text>
<text x="271.14" y="1067.11" font-size="5.15" fill="#000" text-anchor="start" dominant-baseline="central" transform="rotate(258.34 271.14 1067.11)">K00257</text>
<text x="280.57" y="1065" font-size="5.15" fill="#000" text-anchor="start" dominant-baseline="central" transform="rotate(255.31 280.57 1065)">K00249</text>
<text x="289.88" y="1062.41" font-size="5.15" fill="#000" text-anchor="start" dominant-baseline="central" transform="rotate(252.28 289.88 1062.41)">K00208</text>
<text x="299.04" y="1059.36" font-size="5.15" fill="#000" text-anchor="start" dominant-baseline="central" transform="rotate(249.25 299.04 1059.36)">K00164</text>
<text x="308.03" y="1055.84" font-size="5.15" fill="#000" text-anchor="start" dominant-baseline="central" transform="rotate(246.22 308.03 1055.84)">K00163</text>
<text x="316.81" y="1051.88" font-size="5.15" fill="#000" text-anchor="start" dominant-baseline="central" transform="rotate(243.2 316.81 1051.88)">K00161</text>
<text x="325.37" y="1047.47" font-size="5.15" fill="#000" text-anchor="start" dominant-baseline="central" transform="rotate(240.19 325.37 1047.47)">K00156</text>
<text x="333.69" y="1042.63" font-size="5.15" fill="#000" text-anchor="start" dominant-baseline="central" transform="rotate(237.18 333.69 1042.63)">K00123</text>
<text x="341.74" y="1037.38" font-size="5.15" fill="#000" text-anchor="start" dominant-baseline="central" transform="rotate(234.18 341.74 1037.38)">K00108</text>
<text x="349.5" y="1031.73" font-size="5.15" fill="#000" text-anchor="start" dominant-baseline="central" transform="rotate(231.19 349.5 1031.73)">K00059</text>
<text x="356.95" y="1025.69" font-size="5.15" fill="#000" text-anchor="start" dominant-baseline="central" transform="rotate(228.2 356.95 1025.69)">K00058</text>
<text x="364.07" y="1019.29" font-size="5.15" fill="#000" text-anchor="start" dominant-baseline="central" transform="rotate(225.22 364.07 1019.29)">K00036</text>
<text x="370.84" y="1012.53" font-size="5.15" fill="#000" text-anchor="start" dominant-baseline="central" transform="rotate(222.25 370.84 1012.53)">K00009</text>
<g fill="none" stroke="#2a8553" stroke-width="0.75" stroke-opacity="0.95">
<path d="M355.33 998.44C274.24 924.78 261.89 865.88 360.07 783.77M322.4 1025.12C263.37 933.59 260.87 869.97 365.46 790.3M205.82 729.42C224.9 836 251.54 846.31 365.46 790.3M104.87 788.13C191.59 855.38 243.47 851.01 365.46 790.3M315.03 1029.41C260.94 935 260.28 870.31 365.46 790.3M275.32 1044.94C247.84 940.13 258.62 873.59 370.5 797.08M265.54 729.91C244.61 836.17 257.83 848.39 370.5 797.08M74.44 847.72C181.55 875.04 242.54 857.81 370.5 797.08M207.25 1047.82C225.37 941.08 253.17 873.82 370.5 797.08M189.11 733.16C219.39 837.24 251.72 848.65 370.5 797.08M335.28 760.67C267.62 846.32 264.81 852.96 375.17 804.12M77.26 938.67C182.48 905.06 244.17 867.2 375.17 804.12M290.33 736.57C252.79 838.36 261.22 851.03 375.17 804.12M257.08 728.54C241.82 835.71 258.56 850.39 375.17 804.12M231.42 727.02C233.35 835.21 256.5 850.27 375.17 804.12M76.82 839.67C182.33 872.39 244.14 859.28 375.17 804.12M111.33 996.35C193.72 924.09 246.9 871.81 375.17 804.12M215.74 1048.98C228.18 941.46 255.25 876.02 375.17 804.12M95.7 976.4C188.56 917.51 245.65 870.22 375.17 804.12M149.83 749.71C206.42 842.7 249.98 852.08 375.17 804.12M157.31 745.61C208.89 841.35 251.86 853.93 379.46 811.38M76.82 839.67C182.33 872.39 245.42 861.46 379.46 811.38M266.96 1046.81C245.08 940.74 260.63 878.03 379.46 811.38M322.4 1025.12C263.37 933.59 265.07 876.29 379.46 811.38M72.49 855.89C180.9 877.74 245.08 862.75 379.46 811.38M83.43 954.32C184.51 910.22 245.95 870.63 379.46 811.38M273.92 731.71C247.37 836.76 261.19 852.82 379.46 811.38M151.07 1028.01C206.83 934.54 251.36 876.52 379.46 811.38M123.43 1008.23C197.71 928.01 249.15 874.94 379.46 811.38M74.81 930.64C181.67 902.41 245.26 868.73 379.46 811.38M282.19 733.93C250.1 837.49 261.85 853 379.46 811.38M149.83 749.71C206.42 842.7 251.26 854.26 379.46 811.38M207.25 1047.82C225.37 941.08 255.86 878.11 379.46 811.38M116.21 775.55C195.33 851.23 248.57 856.33 379.46 811.38M328.35 755.72C265.34 844.68 265.55 854.74 379.46 811.38M265.54 729.91C244.61 836.17 260.52 852.68 379.46 811.38M282.19 733.93C250.1 837.49 263.02 855.24 383.36 818.85M165 741.89C211.43 840.12 253.65 855.88 383.36 818.85M110.37 781.7C193.4 853.26 249.28 859.06 383.36 818.85M329.53 1020.47C265.73 932.05 266.81 878.16 383.36 818.85M90.5 808.97C186.85 862.26 247.69 861.24 383.36 818.85M79.62 831.74C183.26 869.77 246.82 863.06 383.36 818.85M197.42 731.08C222.13 836.55 256.24 855.01 383.36 818.85M258.51 1048.26C242.29 941.22 261.13 880.38 383.36 818.85M239.99 727.1C236.18 835.24 260.7 856.99 386.86 826.5M341.93 765.97C269.82 848.06 268.85 860.1 386.86 826.5M99.71 794.83C189.89 857.59 249.47 862.41 386.86 826.5M343.02 1010.11C270.18 928.63 268.94 879.63 386.86 826.5M128.82 764.2C199.49 847.48 251.8 859.96 386.86 826.5M135.56 759.01C201.72 845.77 252.34 859.54 386.86 826.5M207.25 1047.82C225.37 941.08 258.08 882.65 386.86 826.5M122.36 769.72C197.36 849.3 251.29 860.4 386.86 826.5M306.14 743.07C258.01 840.51 265.99 858.27 386.86 826.5M348.29 771.59C271.92 849.92 269.36 860.55 386.86 826.5M283.57 1042.65C250.56 939.37 264.18 882.23 386.86 826.5M258.51 1048.26C242.29 941.22 262.18 882.68 386.86 826.5M82.85 823.97C184.32 867.21 248.12 864.74 386.86 826.5M94.92 801.79C188.3 859.88 249.09 862.96 386.86 826.5M222.85 727.39C230.52 835.33 260.25 859.36 389.94 834.32M329.53 1020.47C265.73 932.05 268.79 882.8 389.94 834.32M283.57 1042.65C250.56 939.37 265.11 884.58 389.94 834.32M72.49 855.89C180.9 877.74 248.22 869.64 389.94 834.32M232.86 1049.99C233.82 941.79 261.05 885.17 389.94 834.32M355.33 998.44C274.24 924.78 270.85 881.04 389.94 834.32M95.7 976.4C188.56 917.51 250.08 879.28 389.94 834.32M205.82 729.42C224.9 836 258.89 859.52 389.94 834.32M275.32 1044.94C247.84 940.13 265.25 887.15 392.61 842.29M94.92 801.79C188.3 859.88 250.82 867.7 392.61 842.29M190.5 1044.22C219.84 939.89 258.46 887.1 392.61 842.29M87.13 961.88C185.73 912.72 250.19 880.51 392.61 842.29M197.42 731.08C222.13 836.55 259.02 862.04 392.61 842.29M189.11 733.16C219.39 837.24 258.35 862.21 392.61 842.29M74.81 930.64C181.67 902.41 249.21 878.01 392.61 842.29M343.02 1010.11C270.18 928.63 270.66 884.37 392.61 842.29M239.99 727.1C236.18 835.24 262.42 861.73 392.61 842.29M329.53 1020.47C265.73 932.05 269.59 885.2 392.61 842.29M231.42 727.02C233.35 835.21 262.41 864.15 394.85 850.39M215.74 1048.98C228.18 941.46 261.15 889.9 394.85 850.39M83.43 954.32C184.51 910.22 251.11 884.79 396.66 858.58M69.9 872.46C180.05 883.21 250.03 878.24 396.66 858.58M135.56 759.01C201.72 845.77 255.28 869.17 396.66 858.58M248.56 727.6C239 835.4 264.32 866.65 396.66 858.58M241.43 1049.85C236.65 941.75 263.75 892.43 396.66 858.58M313.77 746.91C260.52 841.77 269.54 868.2 396.66 858.58M151.07 1028.01C206.83 934.54 256.52 890.69 396.66 858.58M165 741.89C211.43 840.12 257.64 867.8 396.66 858.58M87.13 961.88C185.73 912.72 251.41 885.4 396.66 858.58M180.92 735.66C216.68 838.06 258.91 867.3 396.66 858.58M291.69 1039.94C253.24 938.48 267.77 891.64 396.66 858.58M282.19 733.93C250.1 837.49 267.01 867.16 396.66 858.58M336.41 1015.46C268 930.4 271.35 889.68 396.66 858.58M86.48 816.38C185.52 864.7 251.35 873.76 396.66 858.58M354.34 777.54C273.91 851.88 272.78 870.65 396.66 858.58M76.82 839.67C182.33 872.39 250.58 875.62 396.66 858.58M74.81 930.64C181.67 902.41 250.42 882.9 396.66 858.58M100.55 983.31C190.16 919.79 252.48 887.11 396.66 858.58M158.59 1032.04C209.32 935.87 257.12 891.01 396.66 858.58M322.4 1025.12C263.37 933.59 270.23 890.46 396.66 858.58M189.11 733.16C219.39 837.24 259.57 867.1 396.66 858.58M239.99 727.1C236.18 835.24 263.64 866.61 396.66 858.58M224.29 1049.7C231 941.7 262.38 892.42 396.66 858.58M72.49 855.89C180.9 877.74 250.24 876.92 396.66 858.58M348.29 771.59C271.92 849.92 272.3 870.17 396.66 858.58M290.33 736.57C252.79 838.36 267.66 867.37 396.66 858.58M257.08 728.54C241.82 835.71 265 866.73 396.66 858.58M273.92 731.71C247.37 836.76 266.35 866.98 396.66 858.58M174.22 1038.94C214.47 938.15 258.37 891.56 396.66 858.58M110.37 781.7C193.4 853.26 253.27 870.98 396.66 858.58M74.44 847.72C181.55 875.04 250.39 876.26 396.66 858.58M321.18 751.13C262.97 843.17 270.13 868.54 396.66 858.58M136.72 1018.82C202.1 931.51 255.37 889.95 396.66 858.58M71.2 914.25C180.48 897 250.13 881.59 396.66 858.58M205.82 729.42C224.9 836 260.9 866.8 396.66 858.58M111.33 996.35C193.72 924.09 253.34 888.15 396.66 858.58M341.93 765.97C269.82 848.06 271.79 869.72 396.66 858.58M72.79 922.49C181 899.72 250.26 882.24 396.66 858.58M166.31 1035.69C211.86 937.07 257.74 891.3 396.66 858.58M265.54 729.91C244.61 836.17 265.68 866.84 396.66 858.58M266.96 1046.81C245.08 940.74 265.79 892.19 396.66 858.58M129.94 1013.7C199.86 929.82 254.83 889.54 396.66 858.58M232.86 1049.99C233.82 941.79 263.07 892.44 396.66 858.58M349.33 1004.43C272.26 926.76 272.38 888.8 396.66 858.58M249.99 1049.27C239.48 941.55 264.44 892.39 396.66 858.58M275.32 1044.94C247.84 940.13 266.46 892.04 396.66 858.58M355.33 998.44C274.24 924.78 272.86 888.32 396.66 858.58M95.7 976.4C188.56 917.51 252.09 886.56 396.66 858.58M104.87 788.13C191.59 855.38 252.83 871.5 396.66 858.58M298.32 739.62C255.43 839.37 268.3 867.61 396.66 858.58M182.29 1041.79C217.14 939.09 259.02 891.79 396.66 858.58M70.98 864.14C180.4 880.46 250.11 877.58 396.66 858.58M149.83 749.71C206.42 842.7 256.42 868.42 396.66 858.58M222.85 727.39C230.52 835.33 262.26 866.64 396.66 858.58M207.25 1047.82C225.37 941.08 261.02 892.27 396.66 858.58M307.44 1033.31C258.44 936.29 269.03 891.11 396.66 858.58M82.85 823.97C184.32 867.21 251.06 874.36 396.66 858.58M315.03 1029.41C260.94 935 269.64 890.8 396.66 858.58M190.5 1044.22C219.84 939.89 259.68 891.98 396.66 858.58M80.14 946.57C183.43 907.66 250.85 884.17 396.66 858.58M77.26 938.67C182.48 905.06 250.62 883.54 396.66 858.58M90.5 808.97C186.85 862.26 251.68 873.16 396.66 858.58M215.74 1048.98C228.18 941.46 261.7 892.36 396.66 858.58M328.35 755.72C265.34 844.68 270.71 868.9 396.66 858.58M79.62 831.74C183.26 869.77 250.81 874.98 396.66 858.58M105.77 989.97C191.88 921.99 252.9 887.64 396.66 858.58M128.82 764.2C199.49 847.48 254.74 869.58 396.66 858.58M197.42 731.08C222.13 836.55 260.23 866.93 396.66 858.58M91.22 969.25C187.08 915.15 251.73 885.99 396.66 858.58M95.7 976.4C188.56 917.51 252.5 889.04 398.02 866.86M123.43 1008.23C197.71 928.01 254.72 891.59 398.02 866.86M354.34 777.54C273.91 851.88 273.19 873.13 398.02 866.86M180.92 735.66C216.68 838.06 259.32 869.78 398.02 866.86M165 741.89C211.43 840.12 258.05 870.28 398.02 866.86M275.32 1044.94C247.84 940.13 266.87 894.52 398.02 866.86M79.62 831.74C183.26 869.77 251.22 877.47 398.02 866.86M74.81 930.64C181.67 902.41 250.83 885.38 398.02 866.86M265.54 729.91C244.61 836.17 266.09 869.32 398.02 866.86M86.48 816.38C185.52 864.7 251.77 876.24 398.02 866.86M149.83 749.71C206.42 842.7 256.83 870.9 398.02 866.86M69.09 889.2C179.78 888.73 250.37 882.06 398.02 866.86M258.51 1048.26C242.29 941.22 265.53 894.79 398.02 866.86M82.85 823.97C184.32 867.21 251.48 876.85 398.02 866.86M214.31 728.19C227.7 835.6 261.99 869.18 398.02 866.86M315.03 1029.41C260.94 935 270.05 893.28 398.02 866.86M355.33 998.44C274.24 924.78 273.27 890.8 398.02 866.86M94.92 801.79C188.3 859.88 252.44 875.07 398.02 866.86M306.14 743.07C258.01 840.51 269.34 870.37 398.02 866.86M71.2 914.25C180.48 897 250.54 884.07 398.02 866.86M69.35 897.59C179.87 891.5 250.67 885.24 398.95 875.2M90.5 808.97C186.85 862.26 252.37 878.15 398.95 875.2M72.79 922.49C181 899.72 250.95 887.23 398.95 875.2M105.77 989.97C191.88 921.99 253.59 892.63 398.95 875.2M265.54 729.91C244.61 836.17 266.37 871.82 398.95 875.2M298.32 739.62C255.43 839.37 268.99 872.6 398.95 875.2M207.25 1047.82C225.37 941.08 261.71 897.25 398.95 875.2M111.33 996.35C193.72 924.09 254.03 893.14 398.95 875.2M142.57 754.18C204.03 844.17 256.53 873.76 398.95 875.2M348.29 771.59C271.92 849.92 272.99 875.16 398.95 875.2M158.59 1032.04C209.32 935.87 257.81 895.99 398.95 875.2M322.4 1025.12C263.37 933.59 270.92 895.44 398.95 875.2M182.29 1041.79C217.14 939.09 259.71 896.77 398.95 875.2M258.51 1048.26C242.29 941.22 265.81 897.29 398.95 875.2M70.98 864.14C180.4 880.46 250.8 882.56 398.95 875.2M291.69 1039.94C253.24 938.48 268.46 896.62 398.95 875.2M180.92 735.66C216.68 838.06 259.6 872.28 398.95 875.2M94.92 801.79C188.3 859.88 252.72 877.57 398.95 875.2M86.48 816.38C185.52 864.7 252.04 878.74 398.95 875.2M329.53 1020.47C265.73 932.05 271.49 895.07 398.95 875.2M354.34 777.54C273.91 851.88 273.47 875.63 398.95 875.2M321.18 751.13C262.97 843.17 270.82 873.52 398.95 875.2M299.65 1036.83C255.87 937.45 269.1 896.38 398.95 875.2M149.83 749.71C206.42 842.7 257.11 873.41 398.95 875.2M74.81 930.64C181.67 902.41 251.11 887.88 398.95 875.2M282.19 733.93C250.1 837.49 267.7 872.14 398.95 875.2M69.09 889.2C179.78 888.73 250.65 884.57 398.95 875.2M349.33 1004.43C272.26 926.76 273.07 893.78 398.95 875.2M91.22 969.25C187.08 915.15 252.42 890.97 398.95 875.2M313.77 746.91C260.52 841.77 270.23 873.18 398.95 875.2M166.31 1035.69C211.86 937.07 258.43 896.28 398.95 875.2M74.44 847.72C181.55 875.04 251.08 881.25 398.95 875.2M222.85 727.39C230.52 835.33 263.1 874.13 399.44 883.57M258.51 1048.26C242.29 941.22 265.95 899.8 399.44 883.57M70.05 905.94C180.1 894.26 250.88 888.42 399.44 883.57M190.5 1044.22C219.84 939.89 260.51 899.48 399.44 883.57M72.79 922.49C181 899.72 251.11 892.26 399.48 891.95M355.33 998.44C274.24 924.78 273.71 898.33 399.48 891.95M110.37 781.7C193.4 853.26 254.11 880.99 399.48 891.95M354.34 777.54C273.91 851.88 273.63 880.66 399.48 891.95M100.55 983.31C190.16 919.79 253.33 897.12 399.48 891.95M273.92 731.71C247.37 836.76 267.2 876.99 399.48 891.95M215.74 1048.98C228.18 941.46 262.54 902.37 399.48 891.95M123.43 1008.23C197.71 928.01 255.16 899.11 399.48 891.95M76.82 839.67C182.33 872.39 251.43 885.63 399.48 891.95M128.82 764.2C199.49 847.48 255.59 879.59 399.48 891.95M157.31 745.61C208.89 841.35 257.87 878.1 399.48 891.95M86.48 816.38C185.52 864.7 252.2 883.77 399.48 891.95M95.7 976.4C188.56 917.51 252.94 896.57 399.48 891.95M70.98 864.14C180.4 880.46 250.96 887.59 399.48 891.95M70.05 905.94C180.1 894.26 250.89 890.93 399.48 891.95M149.83 749.71C206.42 842.7 257.27 878.43 399.48 891.95M313.77 746.91C260.52 841.77 270.38 878.21 399.48 891.95M69.9 872.46C180.05 883.21 250.88 888.25 399.48 891.95M222.85 727.39C230.52 835.33 263.11 876.65 399.48 891.95M322.4 1025.12C263.37 933.59 271.08 900.47 399.48 891.95M69.35 897.59C179.87 891.5 250.83 890.26 399.48 891.95M341.93 765.97C269.82 848.06 272.64 879.73 399.48 891.95M239.99 727.1C236.18 835.24 264.48 876.62 399.48 891.95M117.22 1002.45C195.66 926.1 254.66 898.65 399.48 891.95M122.36 769.72C197.36 849.3 255.07 880.03 399.48 891.95M214.31 728.19C227.7 835.6 262.43 876.71 399.48 891.95M275.32 1044.94C247.84 940.13 267.31 902.05 399.48 891.95M336.41 1015.46C268 930.4 272.2 899.69 399.48 891.95M315.03 1029.41C260.94 935 270.49 900.81 399.48 891.95M69.09 889.2C179.78 888.73 250.81 889.59 399.48 891.95M180.92 735.66C216.68 838.06 259.76 877.31 399.48 891.95M104.87 788.13C191.59 855.38 253.67 881.51 399.48 891.95M214.31 728.19C227.7 835.6 262.31 879.22 399.07 900.33M341.93 765.97C269.82 848.06 272.52 882.25 399.07 900.33M128.82 764.2C199.49 847.48 255.47 882.1 399.07 900.33M87.13 961.88C185.73 912.72 251.88 900.42 398.22 908.67M158.59 1032.04C209.32 935.87 257.59 906.03 398.22 908.67M95.7 976.4C188.56 917.51 252.56 901.58 398.22 908.67M116.21 775.55C195.33 851.23 253.82 888 396.93 916.96M72.79 922.49C181 899.72 250.34 899.76 396.93 916.96M71.2 914.25C180.48 897 249.7 901.56 395.2 925.17M329.53 1020.47C265.73 932.05 270.36 910.06 395.2 925.17M166.31 1035.69C211.86 937.07 256.66 913.71 393.03 933.29M336.41 1015.46C268 930.4 270.26 912.09 393.03 933.29M86.48 816.38C185.52 864.7 250.27 896.17 393.03 933.29M136.72 1018.82C202.1 931.51 254.29 912.36 393.03 933.29M241.43 1049.85C236.65 941.75 262.67 914.84 393.03 933.29M291.69 1039.94C253.24 938.48 266.69 914.05 393.03 933.29M349.33 1004.43C272.26 926.76 271.3 911.21 393.03 933.29M258.51 1048.26C242.29 941.22 264.03 914.72 393.03 933.29M282.19 733.93C250.1 837.49 265.15 891.97 390.44 941.28M291.69 1039.94C253.24 938.48 265.91 916.45 390.44 941.28M129.94 1013.7C199.86 929.82 252.06 916.7 387.43 949.13M99.71 794.83C189.89 857.59 249.65 899.2 387.43 949.13M69.27 880.82C179.84 885.97 247.21 906.07 387.43 949.13M231.42 727.02C233.35 835.21 260.18 893.77 387.43 949.13M105.77 989.97C191.88 921.99 250.13 914.81 387.43 949.13M299.65 1036.83C255.87 937.45 265.64 918.56 387.43 949.13M122.36 769.72C197.36 849.3 251.46 897.19 387.43 949.13M123.43 1008.23C197.71 928.01 251.54 916.27 387.43 949.13M74.44 847.72C181.55 875.04 247.62 903.43 387.43 949.13M266.96 1046.81C245.08 940.74 263.03 919.35 387.43 949.13M190.5 1044.22C219.84 939.89 256.91 919.15 387.43 949.13M214.31 728.19C227.7 835.6 257.79 896.17 384 956.82M275.32 1044.94C247.84 940.13 262.67 921.51 384 956.82M336.41 1015.46C268 930.4 267.55 919.15 384 956.82M355.33 998.44C274.24 924.78 269.07 917.79 384 956.82M322.4 1025.12C263.37 933.59 266.43 919.92 384 956.82M166.31 1035.69C211.86 937.07 253.95 920.77 384 956.82M239.99 727.1C236.18 835.24 259.84 896.08 384 956.82M99.71 794.83C189.89 857.59 248.62 901.5 384 956.82M283.57 1042.65C250.56 939.37 262.18 923.58 380.18 964.32M328.35 755.72C265.34 844.68 265.76 900.62 380.18 964.32M158.59 1032.04C209.32 935.87 252.18 922.73 380.18 964.32M165 741.89C211.43 840.12 251.43 901.71 375.95 971.62M69.35 897.59C179.87 891.5 243.77 914.16 375.95 971.62M72.79 922.49C181 899.72 244.05 916.15 375.95 971.62M142.57 754.18C204.03 844.17 249.63 902.69 375.95 971.62M174.22 1038.94C214.47 938.15 252.16 925.47 375.95 971.62M136.72 1018.82C202.1 931.51 249.16 923.86 375.95 971.62M343.02 1010.11C270.18 928.63 265.67 923.16 375.95 971.62M79.62 831.74C183.26 869.77 244.6 908.89 375.95 971.62M111.33 996.35C193.72 924.09 247.13 922.06 375.95 971.62M266.96 1046.81C245.08 940.74 259.58 926.1 375.95 971.62M180.92 735.66C216.68 838.06 251.32 903.33 371.35 978.69M222.85 727.39C230.52 835.33 253.18 904.72 366.38 985.52M231.42 727.02C233.35 835.21 252.27 906.66 361.05 992.09M94.92 801.79C188.3 859.88 241.35 912.64 361.05 992.09M335.28 760.67C267.62 846.32 260.58 909.35 361.05 992.09M172.88 738.58C214.03 839.02 258.68 870.01 398.02 866.86M143.77 1023.6C204.43 933.08 252.14 919.8 384 956.82M198.82 1046.23C222.59 940.55 257.58 919.31 387.43 949.13"/>
</g>
<defs><linearGradient id="ra" x1="0" x2="1" y1="0" y2="0"><stop offset="0" stop-color="#0b0b80"/><stop offset="0.10" stop-color="#0f2a6e"/><stop offset="0.22" stop-color="#0f7a3a"/><stop offset="0.34" stop-color="#1fd01a"/><stop offset="0.46" stop-color="#4dff00"/><stop offset="0.58" stop-color="#b4ff00"/><stop offset="0.68" stop-color="#fff600"/><stop offset="0.80" stop-color="#ffa000"/><stop offset="0.92" stop-color="#ff3c00"/><stop offset="1" stop-color="#ff1400"/></linearGradient></defs>
<rect x="309.7" y="1113.4" width="129.0" height="9.0" fill="url(#ra)" stroke="#333" stroke-width="0.4"/>
<text x="314.5" y="1133" font-size="7" text-anchor="middle" font-weight="normal" fill="#222">0.15</text>
<text x="345" y="1133" font-size="7" text-anchor="middle" font-weight="normal" fill="#222">0.28</text>
<text x="378" y="1133" font-size="7" text-anchor="middle" font-weight="normal" fill="#222">0.40</text>
<text x="409.5" y="1133" font-size="7" text-anchor="middle" font-weight="normal" fill="#222">0.53</text>
<text x="441.5" y="1133" font-size="7" text-anchor="middle" font-weight="normal" fill="#222">0.65</text>
<text x="379.5" y="1145.3" font-size="7" text-anchor="middle" font-weight="normal" fill="#222">Relative Abundance&#160;&#160;(%)</text>
</svg>
</body></html>
